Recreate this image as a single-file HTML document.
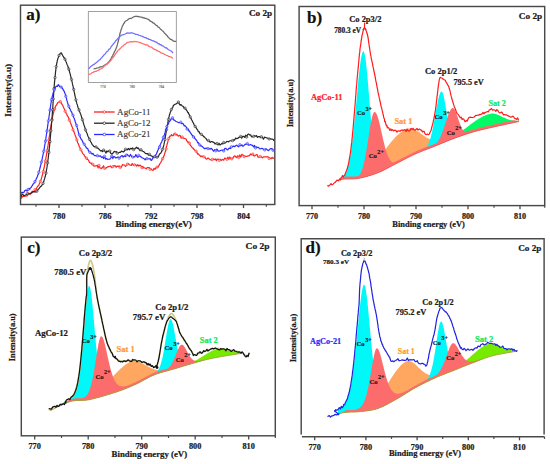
<!DOCTYPE html>
<html><head><meta charset="utf-8"><style>
html,body{margin:0;padding:0;background:#fff;width:550px;height:464px;overflow:hidden}
svg{display:block;font-family:"Liberation Serif",serif}
</style></head><body>
<svg width="550" height="464" viewBox="0 0 550 464">
<defs><filter id="bl" x="-2%" y="-2%" width="104%" height="104%"><feGaussianBlur stdDeviation="0.32"/></filter><clipPath id="clipA"><rect x="21" y="5.5" width="253.5" height="198.5"/></clipPath></defs>
<rect width="550" height="464" fill="#fff"/>
<g filter="url(#bl)">
<rect x="20.5" y="5.2" width="254.3" height="199.3" fill="none" stroke="#4a4a4a" stroke-width="1.45"/>
<line x1="59.0" y1="204.5" x2="59.0" y2="208.1" stroke="#4a4a4a" stroke-width="1.3"/>
<line x1="105.0" y1="204.5" x2="105.0" y2="208.1" stroke="#4a4a4a" stroke-width="1.3"/>
<line x1="151.0" y1="204.5" x2="151.0" y2="208.1" stroke="#4a4a4a" stroke-width="1.3"/>
<line x1="197.0" y1="204.5" x2="197.0" y2="208.1" stroke="#4a4a4a" stroke-width="1.3"/>
<line x1="243.5" y1="204.5" x2="243.5" y2="208.1" stroke="#4a4a4a" stroke-width="1.3"/>
<line x1="36.0" y1="204.5" x2="36.0" y2="206.7" stroke="#4a4a4a" stroke-width="1.2"/>
<line x1="82.0" y1="204.5" x2="82.0" y2="206.7" stroke="#4a4a4a" stroke-width="1.2"/>
<line x1="128.0" y1="204.5" x2="128.0" y2="206.7" stroke="#4a4a4a" stroke-width="1.2"/>
<line x1="174.0" y1="204.5" x2="174.0" y2="206.7" stroke="#4a4a4a" stroke-width="1.2"/>
<line x1="220.0" y1="204.5" x2="220.0" y2="206.7" stroke="#4a4a4a" stroke-width="1.2"/>
<line x1="266.3" y1="204.5" x2="266.3" y2="206.7" stroke="#4a4a4a" stroke-width="1.2"/>
<g clip-path="url(#clipA)">
<path d="M20.50,196.88 L21.07,198.26 L21.81,197.81 L22.69,196.30 L23.68,196.51 L24.74,196.01 L25.85,196.04 L26.98,195.88 L28.08,193.89 L29.14,193.29 L30.13,194.39 L31.00,193.08 L31.87,193.06 L32.71,191.15 L33.51,191.27 L34.28,191.05 L35.02,189.62 L35.73,189.90 L36.41,189.02 L37.06,187.11 L37.69,186.25 L38.30,185.84 L38.74,185.45 L39.16,184.13 L39.55,183.19 L39.92,182.55 L40.27,181.41 L40.61,180.68 L40.94,179.91 L41.26,178.96 L41.58,177.76 L41.90,176.66 L42.22,175.47 L42.56,174.34 L42.90,172.89 L43.09,171.98 L43.28,171.57 L43.47,170.59 L43.67,169.75 L43.86,168.64 L44.05,168.06 L44.25,167.04 L44.44,165.75 L44.63,164.85 L44.83,163.99 L45.02,162.96 L45.21,162.01 L45.40,160.76 L45.59,159.86 L45.78,158.74 L45.97,157.54 L46.16,156.58 L46.34,155.63 L46.52,154.56 L46.70,153.38 L46.88,152.37 L47.06,151.14 L47.23,150.20 L47.40,149.41 L47.57,148.27 L47.73,147.18 L47.89,146.30 L48.05,145.32 L48.21,144.28 L48.36,143.15 L48.52,142.13 L48.67,141.11 L48.82,140.15 L48.96,139.03 L49.11,137.95 L49.26,136.95 L49.40,135.78 L49.55,134.76 L49.69,133.96 L49.83,133.05 L49.98,131.94 L50.12,130.90 L50.27,129.87 L50.41,129.05 L50.56,128.29 L50.70,127.33 L50.85,126.37 L51.00,125.64 L51.22,124.15 L51.44,123.03 L51.65,122.00 L51.86,120.68 L52.07,119.48 L52.28,118.28 L52.49,117.30 L52.70,116.42 L52.91,114.97 L53.13,114.33 L53.36,113.39 L53.59,112.51 L53.83,111.56 L54.07,110.76 L54.33,109.78 L54.60,109.04 L55.18,107.48 L55.79,105.77 L56.45,105.27 L57.12,103.88 L57.80,102.50 L58.48,102.22 L59.15,101.77 L59.80,101.25 L60.36,101.65 L60.91,102.51 L61.47,103.38 L62.01,104.33 L62.56,105.30 L63.10,106.14 L63.64,107.52 L64.17,108.64 L64.70,110.08 L65.13,111.16 L65.54,111.92 L65.95,112.74 L66.35,113.60 L66.75,113.97 L67.16,115.34 L67.57,116.10 L67.98,116.56 L68.41,117.50 L68.85,118.53 L69.30,120.20 L69.65,120.65 L70.00,121.42 L70.37,122.73 L70.74,123.46 L71.12,124.23 L71.50,125.29 L71.89,126.57 L72.28,127.32 L72.66,128.42 L73.05,129.76 L73.43,130.58 L73.81,131.49 L74.18,132.58 L74.54,133.22 L74.90,134.42 L75.30,135.50 L75.68,136.40 L76.04,137.40 L76.40,138.98 L76.76,139.76 L77.11,140.58 L77.46,141.87 L77.82,143.02 L78.19,143.45 L78.57,144.41 L78.96,145.45 L79.37,146.86 L79.80,147.30 L80.29,148.77 L80.78,149.73 L81.30,150.57 L81.82,151.20 L82.35,152.88 L82.90,153.62 L83.46,154.22 L84.03,154.77 L84.60,156.09 L85.19,156.62 L85.79,157.63 L86.40,158.07 L87.15,159.37 L87.92,159.47 L88.72,160.64 L89.53,162.43 L90.35,163.10 L91.18,162.96 L92.02,164.54 L92.85,164.24 L93.68,165.94 L94.50,166.09 L95.46,165.89 L96.35,165.81 L97.21,165.31 L98.08,167.93 L99.02,165.36 L100.07,168.01 L101.28,168.55 L102.70,167.24 L103.51,165.88 L104.38,168.34 L105.31,168.74 L106.30,167.79 L107.33,167.08 L108.39,166.61 L109.49,166.49 L110.59,165.98 L111.71,167.56 L112.83,166.69 L113.94,165.84 L115.04,165.50 L116.11,167.29 L117.15,166.01 L118.15,166.59 L119.10,165.96 L120.22,167.45 L121.31,167.28 L122.38,164.65 L123.43,164.91 L124.46,164.98 L125.46,166.40 L126.46,165.61 L127.44,164.21 L128.40,163.62 L129.36,164.72 L130.31,165.12 L131.26,165.46 L132.20,163.47 L133.32,165.25 L134.44,164.80 L135.57,164.50 L136.68,166.06 L137.78,164.61 L138.85,166.15 L139.89,165.07 L140.90,165.65 L141.85,167.73 L142.76,166.36 L143.60,167.98 L144.97,167.88 L146.16,168.80 L147.20,167.54 L148.16,167.56 L149.07,167.53 L150.00,169.29 L151.08,168.86 L152.09,170.06 L153.05,170.41 L154.00,168.36 L155.00,169.41 L155.65,168.21 L156.32,167.64 L157.01,167.06 L157.69,167.32 L158.37,166.33 L159.03,165.42 L159.68,163.91 L160.30,163.22 L160.78,162.60 L161.24,161.39 L161.69,160.75 L162.13,159.58 L162.56,158.57 L162.99,157.80 L163.42,157.30 L163.84,155.98 L164.27,155.11 L164.70,153.57 L164.97,152.64 L165.24,152.04 L165.51,151.08 L165.78,149.62 L166.05,148.89 L166.32,147.51 L166.59,146.41 L166.86,145.69 L167.12,144.16 L167.39,143.18 L167.66,142.54 L167.93,141.25 L168.20,140.14 L168.46,139.30 L168.73,138.57 L169.00,138.32 L169.83,136.08 L170.64,136.04 L171.46,134.60 L172.33,135.68 L173.30,135.57 L174.19,133.66 L175.14,133.91 L176.14,134.85 L177.17,134.55 L178.23,136.23 L179.30,135.39 L180.24,135.65 L181.21,138.24 L182.19,137.03 L183.20,138.12 L184.20,138.31 L185.21,138.70 L186.20,139.10 L186.83,140.98 L187.45,141.70 L188.08,142.41 L188.71,142.14 L189.34,143.11 L189.96,144.45 L190.59,145.74 L191.22,146.09 L191.85,147.10 L192.47,147.87 L193.10,148.08 L193.86,149.32 L194.60,149.86 L195.34,150.61 L196.07,151.20 L196.82,152.25 L197.57,154.03 L198.35,153.95 L199.16,154.95 L200.00,155.56 L200.89,156.70 L201.83,156.11 L202.80,156.36 L203.80,156.79 L204.80,157.12 L205.80,158.73 L206.77,159.16 L207.71,158.03 L208.60,158.41 L209.64,159.27 L210.56,159.71 L211.44,160.08 L212.32,159.47 L213.25,158.97 L214.29,159.64 L215.50,158.97 L216.37,160.62 L217.29,159.06 L218.27,158.99 L219.30,160.44 L220.35,159.28 L221.44,160.44 L222.54,159.39 L223.64,160.15 L224.74,157.99 L225.83,158.71 L226.90,159.32 L227.87,157.14 L228.84,159.36 L229.82,157.02 L230.80,158.47 L231.78,158.83 L232.77,158.18 L233.76,156.60 L234.74,155.80 L235.73,156.74 L236.72,157.72 L237.71,155.76 L238.70,157.35 L239.78,154.99 L240.86,157.08 L241.94,154.33 L243.02,155.01 L244.11,156.63 L245.19,156.22 L246.28,156.46 L247.36,156.19 L248.44,155.86 L249.52,155.67 L250.60,153.89 L251.68,154.83 L252.75,154.07 L253.82,155.91 L254.89,155.90 L255.96,154.88 L257.04,154.55 L258.11,157.28 L259.18,157.05 L260.25,156.54 L261.32,156.72 L262.40,157.80 L263.43,156.85 L264.52,156.89 L265.65,156.94 L266.80,156.94 L267.95,156.52 L269.09,158.47 L270.18,158.05 L271.21,158.68 L272.16,157.46 L273.00,158.44 L273.72,157.98 L274.30,158.06" fill="none" stroke="#ff2020" stroke-width="1.2" stroke-linejoin="round"/>
<circle cx="28.1" cy="193.9" r="1.2" fill="#fff" fill-opacity="0.5" stroke="#ff2020" stroke-width="0.6"/>
<circle cx="35.0" cy="189.6" r="1.2" fill="#fff" fill-opacity="0.5" stroke="#ff2020" stroke-width="0.6"/>
<circle cx="40.3" cy="181.4" r="1.2" fill="#fff" fill-opacity="0.5" stroke="#ff2020" stroke-width="0.6"/>
<circle cx="43.3" cy="171.6" r="1.2" fill="#fff" fill-opacity="0.5" stroke="#ff2020" stroke-width="0.6"/>
<circle cx="45.4" cy="160.8" r="1.2" fill="#fff" fill-opacity="0.5" stroke="#ff2020" stroke-width="0.6"/>
<circle cx="47.2" cy="150.2" r="1.2" fill="#fff" fill-opacity="0.5" stroke="#ff2020" stroke-width="0.6"/>
<circle cx="48.8" cy="140.1" r="1.2" fill="#fff" fill-opacity="0.5" stroke="#ff2020" stroke-width="0.6"/>
<circle cx="50.3" cy="129.9" r="1.2" fill="#fff" fill-opacity="0.5" stroke="#ff2020" stroke-width="0.6"/>
<circle cx="52.1" cy="119.5" r="1.2" fill="#fff" fill-opacity="0.5" stroke="#ff2020" stroke-width="0.6"/>
<circle cx="54.6" cy="109.0" r="1.2" fill="#fff" fill-opacity="0.5" stroke="#ff2020" stroke-width="0.6"/>
<circle cx="60.4" cy="101.7" r="1.2" fill="#fff" fill-opacity="0.5" stroke="#ff2020" stroke-width="0.6"/>
<circle cx="65.1" cy="111.2" r="1.2" fill="#fff" fill-opacity="0.5" stroke="#ff2020" stroke-width="0.6"/>
<circle cx="69.3" cy="120.2" r="1.2" fill="#fff" fill-opacity="0.5" stroke="#ff2020" stroke-width="0.6"/>
<circle cx="73.0" cy="129.8" r="1.2" fill="#fff" fill-opacity="0.5" stroke="#ff2020" stroke-width="0.6"/>
<circle cx="76.8" cy="139.8" r="1.2" fill="#fff" fill-opacity="0.5" stroke="#ff2020" stroke-width="0.6"/>
<circle cx="80.8" cy="149.7" r="1.2" fill="#fff" fill-opacity="0.5" stroke="#ff2020" stroke-width="0.6"/>
<circle cx="86.4" cy="158.1" r="1.2" fill="#fff" fill-opacity="0.5" stroke="#ff2020" stroke-width="0.6"/>
<circle cx="92.8" cy="164.2" r="1.2" fill="#fff" fill-opacity="0.5" stroke="#ff2020" stroke-width="0.6"/>
<circle cx="99.0" cy="165.4" r="1.2" fill="#fff" fill-opacity="0.5" stroke="#ff2020" stroke-width="0.6"/>
<circle cx="104.4" cy="168.3" r="1.2" fill="#fff" fill-opacity="0.5" stroke="#ff2020" stroke-width="0.6"/>
<circle cx="112.8" cy="166.7" r="1.2" fill="#fff" fill-opacity="0.5" stroke="#ff2020" stroke-width="0.6"/>
<circle cx="120.2" cy="167.4" r="1.2" fill="#fff" fill-opacity="0.5" stroke="#ff2020" stroke-width="0.6"/>
<circle cx="127.4" cy="164.2" r="1.2" fill="#fff" fill-opacity="0.5" stroke="#ff2020" stroke-width="0.6"/>
<circle cx="134.4" cy="164.8" r="1.2" fill="#fff" fill-opacity="0.5" stroke="#ff2020" stroke-width="0.6"/>
<circle cx="141.9" cy="167.7" r="1.2" fill="#fff" fill-opacity="0.5" stroke="#ff2020" stroke-width="0.6"/>
<circle cx="150.0" cy="169.3" r="1.2" fill="#fff" fill-opacity="0.5" stroke="#ff2020" stroke-width="0.6"/>
<circle cx="157.0" cy="167.1" r="1.2" fill="#fff" fill-opacity="0.5" stroke="#ff2020" stroke-width="0.6"/>
<circle cx="162.6" cy="158.6" r="1.2" fill="#fff" fill-opacity="0.5" stroke="#ff2020" stroke-width="0.6"/>
<circle cx="166.1" cy="148.9" r="1.2" fill="#fff" fill-opacity="0.5" stroke="#ff2020" stroke-width="0.6"/>
<circle cx="168.7" cy="138.6" r="1.2" fill="#fff" fill-opacity="0.5" stroke="#ff2020" stroke-width="0.6"/>
<circle cx="175.1" cy="133.9" r="1.2" fill="#fff" fill-opacity="0.5" stroke="#ff2020" stroke-width="0.6"/>
<circle cx="182.2" cy="137.0" r="1.2" fill="#fff" fill-opacity="0.5" stroke="#ff2020" stroke-width="0.6"/>
<circle cx="189.3" cy="143.1" r="1.2" fill="#fff" fill-opacity="0.5" stroke="#ff2020" stroke-width="0.6"/>
<circle cx="196.1" cy="151.2" r="1.2" fill="#fff" fill-opacity="0.5" stroke="#ff2020" stroke-width="0.6"/>
<circle cx="203.8" cy="156.8" r="1.2" fill="#fff" fill-opacity="0.5" stroke="#ff2020" stroke-width="0.6"/>
<circle cx="212.3" cy="159.5" r="1.2" fill="#fff" fill-opacity="0.5" stroke="#ff2020" stroke-width="0.6"/>
<circle cx="219.3" cy="160.4" r="1.2" fill="#fff" fill-opacity="0.5" stroke="#ff2020" stroke-width="0.6"/>
<circle cx="226.9" cy="159.3" r="1.2" fill="#fff" fill-opacity="0.5" stroke="#ff2020" stroke-width="0.6"/>
<circle cx="231.8" cy="158.8" r="1.2" fill="#fff" fill-opacity="0.5" stroke="#ff2020" stroke-width="0.6"/>
<circle cx="238.7" cy="157.4" r="1.2" fill="#fff" fill-opacity="0.5" stroke="#ff2020" stroke-width="0.6"/>
<circle cx="244.1" cy="156.6" r="1.2" fill="#fff" fill-opacity="0.5" stroke="#ff2020" stroke-width="0.6"/>
<circle cx="252.8" cy="154.1" r="1.2" fill="#fff" fill-opacity="0.5" stroke="#ff2020" stroke-width="0.6"/>
<circle cx="260.2" cy="156.5" r="1.2" fill="#fff" fill-opacity="0.5" stroke="#ff2020" stroke-width="0.6"/>
<circle cx="269.1" cy="158.5" r="1.2" fill="#fff" fill-opacity="0.5" stroke="#ff2020" stroke-width="0.6"/>
<path d="M20.50,197.06 L21.11,196.87 L21.90,194.38 L22.83,194.20 L23.87,195.87 L25.01,195.31 L26.19,194.82 L27.41,193.57 L28.61,193.97 L29.79,193.62 L30.90,193.19 L31.91,191.85 L32.80,192.15 L33.97,191.57 L35.04,191.80 L36.02,191.85 L36.93,191.21 L37.78,189.88 L38.58,189.11 L39.35,188.17 L40.10,187.08 L40.67,186.42 L41.21,186.31 L41.71,185.47 L42.18,184.84 L42.62,184.55 L43.05,183.34 L43.47,182.38 L43.88,181.05 L44.29,179.67 L44.70,178.40 L44.89,177.59 L45.07,177.05 L45.25,176.53 L45.43,175.58 L45.61,174.55 L45.78,174.03 L45.95,173.13 L46.12,172.22 L46.29,171.37 L46.45,170.38 L46.62,169.42 L46.78,168.27 L46.95,167.46 L47.11,166.39 L47.27,165.04 L47.43,164.11 L47.59,162.95 L47.75,161.69 L47.91,160.49 L48.07,159.22 L48.24,158.05 L48.40,156.60 L48.50,155.87 L48.60,154.92 L48.69,154.20 L48.79,153.32 L48.89,152.32 L48.99,151.44 L49.09,150.59 L49.18,149.60 L49.28,148.58 L49.38,147.55 L49.48,146.59 L49.58,145.67 L49.68,144.54 L49.77,143.68 L49.87,142.51 L49.97,141.60 L50.07,140.43 L50.16,139.51 L50.26,138.39 L50.36,137.28 L50.45,136.21 L50.55,135.16 L50.64,134.07 L50.74,132.94 L50.83,131.84 L50.92,130.82 L51.02,129.82 L51.11,128.68 L51.20,127.50 L51.29,126.57 L51.38,125.49 L51.47,124.46 L51.56,123.27 L51.64,122.33 L51.73,121.16 L51.82,120.25 L51.90,119.16 L51.98,118.13 L52.07,117.22 L52.15,116.04 L52.23,115.06 L52.30,114.06 L52.38,112.89 L52.46,111.81 L52.54,110.84 L52.61,109.69 L52.68,108.65 L52.76,107.45 L52.83,106.41 L52.90,105.29 L52.98,104.28 L53.05,103.10 L53.12,102.15 L53.19,100.93 L53.26,99.95 L53.33,98.77 L53.40,97.74 L53.47,96.77 L53.54,95.62 L53.61,94.58 L53.68,93.63 L53.75,92.56 L53.81,91.50 L53.88,90.66 L53.95,89.54 L54.02,88.56 L54.09,87.66 L54.17,86.78 L54.24,85.89 L54.31,84.88 L54.38,84.05 L54.45,83.14 L54.53,82.39 L54.60,81.66 L54.73,80.27 L54.86,78.97 L54.98,77.65 L55.11,76.42 L55.23,75.17 L55.35,73.93 L55.47,72.73 L55.60,71.74 L55.72,70.58 L55.84,69.49 L55.97,68.59 L56.10,67.76 L56.23,66.61 L56.36,65.86 L56.50,64.94 L56.63,64.16 L56.78,63.22 L56.93,62.79 L57.08,61.76 L57.24,61.22 L57.40,60.46 L57.91,58.37 L58.45,57.14 L59.02,55.48 L59.61,54.31 L60.24,53.40 L60.90,52.91 L61.60,53.16 L62.03,54.60 L62.49,54.87 L62.97,56.05 L63.46,56.72 L63.96,57.64 L64.48,57.93 L64.99,59.20 L65.50,60.18 L66.00,61.63 L66.48,62.84 L66.95,64.16 L67.40,65.25 L67.70,65.75 L68.00,66.71 L68.28,67.64 L68.56,68.20 L68.84,69.13 L69.11,70.28 L69.38,71.06 L69.64,72.36 L69.91,73.08 L70.17,74.00 L70.42,75.06 L70.68,76.11 L70.94,77.15 L71.20,78.36 L71.47,79.40 L71.73,80.41 L72.00,81.67 L72.22,82.37 L72.44,83.64 L72.65,84.63 L72.87,85.52 L73.08,86.40 L73.30,87.46 L73.51,88.54 L73.73,89.36 L73.95,90.58 L74.16,91.69 L74.38,92.61 L74.59,93.63 L74.81,94.99 L75.03,95.84 L75.25,96.94 L75.47,98.13 L75.69,98.98 L75.92,99.79 L76.14,101.07 L76.37,101.66 L76.60,102.33 L76.93,103.88 L77.26,104.65 L77.61,105.86 L77.96,107.26 L78.31,108.18 L78.67,108.71 L79.02,109.99 L79.38,110.91 L79.73,111.89 L80.08,112.61 L80.42,113.79 L80.76,114.32 L81.08,115.36 L81.40,116.32 L81.70,117.58 L82.06,118.14 L82.39,119.62 L82.69,120.32 L82.99,121.56 L83.27,122.45 L83.56,123.47 L83.84,124.62 L84.13,125.39 L84.44,126.20 L84.77,127.19 L85.12,128.17 L85.50,129.75 L85.85,130.53 L86.22,131.73 L86.60,132.54 L86.99,133.06 L87.40,134.56 L87.81,135.69 L88.23,136.68 L88.66,137.51 L89.09,138.37 L89.53,139.40 L89.97,140.61 L90.42,140.97 L90.86,142.01 L91.30,142.68 L92.07,144.35 L92.84,145.14 L93.61,146.17 L94.40,146.77 L95.21,146.49 L96.04,146.92 L96.90,147.93 L97.80,148.05 L98.71,148.90 L99.62,149.90 L100.54,150.88 L101.49,150.60 L102.49,151.54 L103.57,150.11 L104.73,151.05 L106.00,153.08 L106.86,150.83 L107.79,151.75 L108.79,150.82 L109.83,150.98 L110.90,153.61 L112.00,154.03 L113.10,153.02 L114.20,151.34 L115.27,151.92 L116.31,151.68 L117.31,153.21 L118.24,153.17 L119.10,152.32 L120.36,152.34 L121.49,151.02 L122.53,151.60 L123.51,151.95 L124.44,151.05 L125.36,149.22 L126.31,149.67 L127.30,149.83 L128.34,148.39 L129.39,149.78 L130.45,148.38 L131.51,148.84 L132.55,147.81 L133.57,149.59 L134.56,148.96 L135.50,148.22 L136.50,147.26 L137.43,148.35 L138.32,147.91 L139.18,149.54 L140.07,150.60 L141.00,149.75 L142.00,150.92 L142.85,151.28 L143.75,151.57 L144.70,152.68 L145.66,153.64 L146.63,153.67 L147.58,153.68 L148.51,155.16 L149.38,154.27 L150.20,155.52 L151.32,155.86 L152.37,156.60 L153.34,157.29 L154.27,156.22 L155.15,157.47 L156.00,156.81 L156.97,157.21 L157.87,157.19 L158.71,155.83 L159.52,154.11 L160.30,153.56 L160.72,153.15 L161.13,152.61 L161.53,151.63 L161.92,150.96 L162.30,149.45 L162.67,149.13 L163.04,147.85 L163.42,146.50 L163.80,145.21 L163.98,144.42 L164.17,143.22 L164.35,142.64 L164.54,141.67 L164.72,140.45 L164.91,139.62 L165.09,138.50 L165.28,137.26 L165.46,136.38 L165.65,135.03 L165.83,134.08 L166.01,132.91 L166.19,131.75 L166.36,130.79 L166.54,129.71 L166.71,128.61 L166.88,127.93 L167.04,126.68 L167.20,125.80 L167.44,124.74 L167.67,123.68 L167.89,122.47 L168.09,121.43 L168.29,120.28 L168.49,119.38 L168.69,118.27 L168.90,117.32 L169.11,116.54 L169.32,115.42 L169.55,114.59 L169.80,114.16 L170.18,112.58 L170.57,111.80 L170.98,110.75 L171.39,109.44 L171.83,108.72 L172.29,107.97 L172.78,107.31 L173.30,105.72 L174.22,104.73 L175.22,104.27 L176.28,103.87 L177.35,103.05 L178.40,102.04 L179.27,103.94 L180.16,105.14 L181.05,104.64 L181.93,105.65 L182.78,106.17 L183.60,107.01 L184.36,108.35 L185.07,108.21 L185.75,109.42 L186.43,110.03 L187.14,111.07 L187.90,112.64 L188.34,112.54 L188.79,114.09 L189.25,114.53 L189.72,115.80 L190.20,116.93 L190.69,117.83 L191.17,118.64 L191.66,120.05 L192.14,120.38 L192.62,121.83 L193.10,122.50 L193.61,123.57 L194.11,124.80 L194.61,125.65 L195.10,126.38 L195.59,126.93 L196.10,127.69 L196.62,128.76 L197.15,129.32 L197.71,130.16 L198.30,131.76 L198.99,131.56 L199.72,133.32 L200.48,133.55 L201.26,134.33 L202.05,135.04 L202.84,135.42 L203.64,136.71 L204.43,136.93 L205.20,138.01 L206.05,138.44 L206.88,140.09 L207.70,140.76 L208.53,140.47 L209.37,141.36 L210.22,142.43 L211.09,141.64 L212.00,141.51 L212.95,142.16 L213.94,142.36 L214.96,143.88 L215.99,143.36 L217.03,143.50 L218.05,144.97 L219.04,143.19 L220.00,145.08 L221.00,144.30 L221.91,143.42 L222.78,143.92 L223.66,142.47 L224.60,143.06 L225.67,142.71 L226.90,141.31 L227.71,141.49 L228.58,141.83 L229.50,141.04 L230.47,140.76 L231.46,140.75 L232.49,140.61 L233.53,139.85 L234.58,140.12 L235.63,138.09 L236.67,138.64 L237.70,138.50 L238.70,137.46 L239.69,137.28 L240.68,136.45 L241.67,138.18 L242.66,136.37 L243.66,136.42 L244.65,137.27 L245.64,135.15 L246.64,137.10 L247.63,134.54 L248.62,134.04 L249.61,134.93 L250.60,134.89 L251.59,136.81 L252.57,136.70 L253.55,136.42 L254.54,135.67 L255.52,136.17 L256.50,135.61 L257.48,137.42 L258.46,136.54 L259.45,136.53 L260.43,137.70 L261.41,136.65 L262.40,137.30 L263.43,139.18 L264.52,137.11 L265.65,137.47 L266.80,137.87 L267.95,138.23 L269.09,138.93 L270.18,138.68 L271.21,139.14 L272.16,139.07 L273.00,139.22 L273.72,140.39 L274.30,139.75" fill="none" stroke="#262626" stroke-width="1.2" stroke-linejoin="round"/>
<circle cx="27.4" cy="193.6" r="1.2" fill="#fff" fill-opacity="0.5" stroke="#262626" stroke-width="0.6"/>
<circle cx="36.9" cy="191.2" r="1.2" fill="#fff" fill-opacity="0.5" stroke="#262626" stroke-width="0.6"/>
<circle cx="43.1" cy="183.3" r="1.2" fill="#fff" fill-opacity="0.5" stroke="#262626" stroke-width="0.6"/>
<circle cx="46.0" cy="173.1" r="1.2" fill="#fff" fill-opacity="0.5" stroke="#262626" stroke-width="0.6"/>
<circle cx="47.6" cy="162.9" r="1.2" fill="#fff" fill-opacity="0.5" stroke="#262626" stroke-width="0.6"/>
<circle cx="48.9" cy="152.3" r="1.2" fill="#fff" fill-opacity="0.5" stroke="#262626" stroke-width="0.6"/>
<circle cx="50.0" cy="141.6" r="1.2" fill="#fff" fill-opacity="0.5" stroke="#262626" stroke-width="0.6"/>
<circle cx="50.9" cy="130.8" r="1.2" fill="#fff" fill-opacity="0.5" stroke="#262626" stroke-width="0.6"/>
<circle cx="51.8" cy="120.2" r="1.2" fill="#fff" fill-opacity="0.5" stroke="#262626" stroke-width="0.6"/>
<circle cx="52.6" cy="109.7" r="1.2" fill="#fff" fill-opacity="0.5" stroke="#262626" stroke-width="0.6"/>
<circle cx="53.3" cy="98.8" r="1.2" fill="#fff" fill-opacity="0.5" stroke="#262626" stroke-width="0.6"/>
<circle cx="54.0" cy="88.6" r="1.2" fill="#fff" fill-opacity="0.5" stroke="#262626" stroke-width="0.6"/>
<circle cx="55.0" cy="77.6" r="1.2" fill="#fff" fill-opacity="0.5" stroke="#262626" stroke-width="0.6"/>
<circle cx="56.2" cy="66.6" r="1.2" fill="#fff" fill-opacity="0.5" stroke="#262626" stroke-width="0.6"/>
<circle cx="59.0" cy="55.5" r="1.2" fill="#fff" fill-opacity="0.5" stroke="#262626" stroke-width="0.6"/>
<circle cx="65.0" cy="59.2" r="1.2" fill="#fff" fill-opacity="0.5" stroke="#262626" stroke-width="0.6"/>
<circle cx="68.8" cy="69.1" r="1.2" fill="#fff" fill-opacity="0.5" stroke="#262626" stroke-width="0.6"/>
<circle cx="71.5" cy="79.4" r="1.2" fill="#fff" fill-opacity="0.5" stroke="#262626" stroke-width="0.6"/>
<circle cx="73.7" cy="89.4" r="1.2" fill="#fff" fill-opacity="0.5" stroke="#262626" stroke-width="0.6"/>
<circle cx="75.9" cy="99.8" r="1.2" fill="#fff" fill-opacity="0.5" stroke="#262626" stroke-width="0.6"/>
<circle cx="79.0" cy="110.0" r="1.2" fill="#fff" fill-opacity="0.5" stroke="#262626" stroke-width="0.6"/>
<circle cx="82.4" cy="119.6" r="1.2" fill="#fff" fill-opacity="0.5" stroke="#262626" stroke-width="0.6"/>
<circle cx="85.5" cy="129.8" r="1.2" fill="#fff" fill-opacity="0.5" stroke="#262626" stroke-width="0.6"/>
<circle cx="89.5" cy="139.4" r="1.2" fill="#fff" fill-opacity="0.5" stroke="#262626" stroke-width="0.6"/>
<circle cx="96.0" cy="146.9" r="1.2" fill="#fff" fill-opacity="0.5" stroke="#262626" stroke-width="0.6"/>
<circle cx="103.6" cy="150.1" r="1.2" fill="#fff" fill-opacity="0.5" stroke="#262626" stroke-width="0.6"/>
<circle cx="109.8" cy="151.0" r="1.2" fill="#fff" fill-opacity="0.5" stroke="#262626" stroke-width="0.6"/>
<circle cx="117.3" cy="153.2" r="1.2" fill="#fff" fill-opacity="0.5" stroke="#262626" stroke-width="0.6"/>
<circle cx="125.4" cy="149.2" r="1.2" fill="#fff" fill-opacity="0.5" stroke="#262626" stroke-width="0.6"/>
<circle cx="133.6" cy="149.6" r="1.2" fill="#fff" fill-opacity="0.5" stroke="#262626" stroke-width="0.6"/>
<circle cx="141.0" cy="149.7" r="1.2" fill="#fff" fill-opacity="0.5" stroke="#262626" stroke-width="0.6"/>
<circle cx="149.4" cy="154.3" r="1.2" fill="#fff" fill-opacity="0.5" stroke="#262626" stroke-width="0.6"/>
<circle cx="157.0" cy="157.2" r="1.2" fill="#fff" fill-opacity="0.5" stroke="#262626" stroke-width="0.6"/>
<circle cx="162.3" cy="149.4" r="1.2" fill="#fff" fill-opacity="0.5" stroke="#262626" stroke-width="0.6"/>
<circle cx="164.9" cy="139.6" r="1.2" fill="#fff" fill-opacity="0.5" stroke="#262626" stroke-width="0.6"/>
<circle cx="166.5" cy="129.7" r="1.2" fill="#fff" fill-opacity="0.5" stroke="#262626" stroke-width="0.6"/>
<circle cx="168.5" cy="119.4" r="1.2" fill="#fff" fill-opacity="0.5" stroke="#262626" stroke-width="0.6"/>
<circle cx="171.4" cy="109.4" r="1.2" fill="#fff" fill-opacity="0.5" stroke="#262626" stroke-width="0.6"/>
<circle cx="178.4" cy="102.0" r="1.2" fill="#fff" fill-opacity="0.5" stroke="#262626" stroke-width="0.6"/>
<circle cx="185.1" cy="108.2" r="1.2" fill="#fff" fill-opacity="0.5" stroke="#262626" stroke-width="0.6"/>
<circle cx="190.2" cy="116.9" r="1.2" fill="#fff" fill-opacity="0.5" stroke="#262626" stroke-width="0.6"/>
<circle cx="195.1" cy="126.4" r="1.2" fill="#fff" fill-opacity="0.5" stroke="#262626" stroke-width="0.6"/>
<circle cx="201.3" cy="134.3" r="1.2" fill="#fff" fill-opacity="0.5" stroke="#262626" stroke-width="0.6"/>
<circle cx="208.5" cy="140.5" r="1.2" fill="#fff" fill-opacity="0.5" stroke="#262626" stroke-width="0.6"/>
<circle cx="217.0" cy="143.5" r="1.2" fill="#fff" fill-opacity="0.5" stroke="#262626" stroke-width="0.6"/>
<circle cx="223.7" cy="142.5" r="1.2" fill="#fff" fill-opacity="0.5" stroke="#262626" stroke-width="0.6"/>
<circle cx="232.5" cy="140.6" r="1.2" fill="#fff" fill-opacity="0.5" stroke="#262626" stroke-width="0.6"/>
<circle cx="240.7" cy="136.4" r="1.2" fill="#fff" fill-opacity="0.5" stroke="#262626" stroke-width="0.6"/>
<circle cx="246.6" cy="137.1" r="1.2" fill="#fff" fill-opacity="0.5" stroke="#262626" stroke-width="0.6"/>
<circle cx="253.6" cy="136.4" r="1.2" fill="#fff" fill-opacity="0.5" stroke="#262626" stroke-width="0.6"/>
<circle cx="261.4" cy="136.7" r="1.2" fill="#fff" fill-opacity="0.5" stroke="#262626" stroke-width="0.6"/>
<circle cx="269.1" cy="138.9" r="1.2" fill="#fff" fill-opacity="0.5" stroke="#262626" stroke-width="0.6"/>
<path d="M20.50,192.62 L21.08,193.06 L21.86,192.38 L22.77,192.62 L23.80,192.31 L24.89,190.63 L26.00,190.08 L27.10,191.18 L28.15,189.45 L29.10,188.68 L29.77,189.17 L30.44,187.72 L31.10,187.44 L31.76,186.17 L32.42,185.51 L33.06,184.06 L33.68,183.68 L34.29,182.96 L34.88,181.61 L35.45,180.80 L35.99,179.70 L36.50,178.12 L36.89,177.86 L37.25,176.85 L37.60,175.75 L37.93,174.67 L38.24,174.30 L38.55,173.11 L38.84,172.30 L39.12,171.41 L39.40,170.32 L39.67,169.42 L39.93,168.11 L40.20,167.28 L40.46,166.03 L40.73,165.21 L41.00,164.09 L41.23,162.78 L41.45,161.88 L41.66,160.99 L41.88,160.41 L42.09,159.21 L42.30,158.33 L42.50,157.22 L42.70,156.33 L42.91,155.28 L43.11,154.25 L43.31,153.32 L43.50,152.28 L43.70,151.34 L43.90,150.18 L44.10,149.18 L44.30,148.03 L44.50,146.94 L44.70,145.66 L44.85,144.59 L45.00,143.94 L45.15,143.05 L45.31,142.09 L45.46,141.02 L45.61,140.11 L45.76,138.96 L45.91,138.18 L46.06,137.10 L46.21,136.00 L46.36,134.92 L46.51,134.16 L46.66,133.18 L46.81,131.86 L46.95,131.06 L47.10,129.91 L47.25,128.80 L47.40,127.81 L47.55,126.94 L47.70,125.95 L47.85,124.67 L48.00,123.84 L48.15,122.65 L48.30,121.87 L48.45,120.74 L48.60,119.90 L48.75,118.88 L48.90,117.68 L49.05,116.77 L49.20,115.48 L49.35,114.33 L49.50,113.40 L49.65,112.15 L49.80,111.12 L49.95,110.11 L50.10,109.10 L50.25,107.91 L50.40,106.83 L50.55,106.07 L50.70,104.89 L50.85,104.12 L51.00,103.15 L51.15,102.05 L51.30,101.18 L51.45,100.35 L51.60,99.58 L51.75,98.78 L51.90,98.03 L52.23,96.57 L52.57,95.39 L52.90,93.93 L53.24,92.77 L53.58,91.96 L53.92,90.71 L54.25,89.92 L54.58,89.74 L54.89,88.69 L55.20,88.10 L55.50,86.92 L56.50,86.17 L57.40,86.41 L58.30,84.58 L59.59,86.37 L61.00,87.04 L61.56,86.79 L62.16,88.25 L62.79,88.90 L63.43,90.13 L64.07,91.04 L64.70,92.76 L64.98,93.53 L65.26,93.92 L65.54,94.90 L65.82,96.24 L66.10,97.43 L66.38,98.12 L66.66,99.32 L66.94,100.48 L67.22,101.41 L67.51,102.48 L67.80,103.45 L68.10,104.43 L68.40,105.47 L68.80,106.30 L69.21,107.33 L69.63,108.58 L70.05,108.79 L70.48,110.13 L70.91,111.12 L71.34,111.58 L71.76,112.38 L72.19,113.78 L72.60,114.30 L72.97,115.19 L73.35,116.34 L73.73,117.51 L74.10,118.09 L74.48,119.26 L74.85,120.30 L75.21,121.67 L75.57,122.43 L75.92,123.73 L76.27,124.29 L76.60,125.40 L76.91,126.57 L77.18,127.67 L77.44,128.40 L77.68,129.24 L77.92,130.15 L78.16,131.32 L78.42,132.09 L78.70,133.43 L79.02,134.44 L79.38,134.97 L79.80,136.02 L80.20,137.33 L80.63,138.09 L81.09,139.17 L81.58,139.68 L82.10,140.41 L82.62,141.50 L83.17,142.94 L83.71,143.32 L84.27,144.28 L84.81,145.21 L85.36,146.03 L85.89,146.78 L86.40,148.10 L87.11,148.12 L87.79,148.76 L88.45,150.77 L89.11,151.43 L89.79,152.29 L90.49,152.08 L91.24,153.54 L92.03,154.11 L92.90,153.38 L93.73,154.87 L94.60,155.53 L95.49,155.64 L96.42,155.75 L97.39,155.61 L98.38,156.07 L99.41,156.09 L100.48,155.92 L101.57,157.54 L102.70,156.88 L103.60,158.57 L104.55,156.27 L105.53,159.13 L106.54,158.50 L107.57,159.35 L108.62,159.27 L109.67,159.23 L110.73,158.07 L111.78,156.13 L112.82,158.52 L113.84,156.57 L114.84,156.93 L115.80,158.01 L116.91,157.46 L117.99,156.97 L119.05,158.23 L120.10,157.09 L121.14,156.13 L122.17,155.65 L123.19,157.07 L124.21,155.81 L125.24,156.53 L126.26,155.11 L127.30,154.48 L128.35,155.60 L129.42,156.59 L130.50,154.41 L131.59,156.53 L132.67,157.00 L133.74,156.72 L134.79,156.88 L135.82,154.62 L136.82,156.59 L137.78,157.41 L138.70,155.42 L139.90,156.38 L141.05,156.85 L142.15,157.92 L143.19,158.22 L144.19,158.82 L145.14,159.92 L146.05,158.47 L146.90,158.62 L148.14,158.74 L149.24,158.84 L150.22,158.67 L151.13,160.46 L152.00,159.71 L152.98,157.70 L153.82,157.75 L154.63,156.59 L155.50,155.30 L155.92,154.62 L156.35,154.06 L156.79,153.09 L157.23,151.92 L157.67,150.76 L158.13,149.81 L158.58,148.56 L159.04,147.82 L159.50,146.87 L159.88,145.72 L160.28,144.58 L160.68,143.74 L161.08,142.97 L161.48,142.21 L161.89,141.40 L162.29,140.12 L162.68,139.49 L163.07,138.39 L163.44,137.30 L163.80,136.31 L164.17,135.35 L164.52,134.40 L164.85,133.13 L165.18,132.19 L165.49,130.96 L165.81,129.76 L166.13,128.89 L166.47,127.99 L166.82,126.58 L167.20,125.94 L167.69,124.84 L168.19,124.13 L168.71,123.13 L169.24,121.61 L169.79,121.28 L170.36,120.46 L170.97,119.09 L171.60,119.01 L172.52,117.78 L173.51,119.96 L174.55,120.12 L175.60,121.19 L176.63,121.71 L177.60,122.05 L178.69,122.69 L179.74,122.75 L180.77,122.25 L181.78,123.78 L182.80,123.45 L183.52,124.31 L184.21,125.91 L184.90,125.52 L185.59,126.33 L186.31,127.15 L187.08,129.06 L187.90,129.08 L188.46,129.54 L189.05,131.29 L189.65,131.12 L190.28,132.81 L190.91,133.40 L191.56,134.42 L192.22,135.39 L192.87,135.76 L193.52,136.86 L194.17,136.73 L194.80,138.43 L195.42,138.92 L196.03,139.99 L196.64,140.16 L197.24,141.76 L197.84,142.85 L198.45,142.68 L199.07,143.80 L199.70,144.87 L200.34,145.96 L201.01,145.74 L201.70,146.14 L202.69,146.83 L203.70,148.07 L204.75,148.81 L205.82,148.20 L206.92,148.34 L208.03,148.61 L209.16,148.67 L210.30,149.07 L211.34,148.29 L212.44,149.66 L213.56,151.24 L214.69,149.66 L215.82,150.83 L216.93,149.00 L218.01,150.82 L219.04,151.11 L220.00,150.81 L221.09,150.22 L222.03,150.03 L222.90,150.36 L223.75,150.86 L224.65,148.65 L225.68,148.26 L226.90,149.64 L227.71,149.82 L228.58,148.55 L229.50,148.07 L230.47,148.39 L231.46,146.78 L232.49,146.62 L233.53,146.10 L234.58,146.70 L235.63,145.71 L236.67,145.20 L237.70,146.21 L238.70,146.83 L239.78,144.73 L240.86,145.90 L241.94,144.88 L243.02,146.33 L244.11,145.40 L245.19,144.28 L246.28,144.17 L247.36,143.62 L248.44,145.20 L249.52,145.01 L250.60,144.52 L251.59,145.25 L252.57,145.37 L253.55,146.80 L254.54,145.44 L255.52,147.86 L256.50,146.88 L257.48,147.48 L258.46,147.45 L259.45,148.66 L260.43,148.92 L261.41,148.46 L262.40,148.45 L263.52,149.33 L264.72,149.92 L265.96,148.66 L267.22,149.83 L268.47,150.67 L269.69,149.18 L270.84,148.48 L271.91,148.56 L272.86,150.20 L273.66,150.12 L274.30,151.07" fill="none" stroke="#2a2aff" stroke-width="1.2" stroke-linejoin="round"/>
<circle cx="28.1" cy="189.4" r="1.2" fill="#fff" fill-opacity="0.5" stroke="#2a2aff" stroke-width="0.6"/>
<circle cx="34.9" cy="181.6" r="1.2" fill="#fff" fill-opacity="0.5" stroke="#2a2aff" stroke-width="0.6"/>
<circle cx="38.8" cy="172.3" r="1.2" fill="#fff" fill-opacity="0.5" stroke="#2a2aff" stroke-width="0.6"/>
<circle cx="41.4" cy="161.9" r="1.2" fill="#fff" fill-opacity="0.5" stroke="#2a2aff" stroke-width="0.6"/>
<circle cx="43.7" cy="151.3" r="1.2" fill="#fff" fill-opacity="0.5" stroke="#2a2aff" stroke-width="0.6"/>
<circle cx="45.5" cy="141.0" r="1.2" fill="#fff" fill-opacity="0.5" stroke="#2a2aff" stroke-width="0.6"/>
<circle cx="47.0" cy="131.1" r="1.2" fill="#fff" fill-opacity="0.5" stroke="#2a2aff" stroke-width="0.6"/>
<circle cx="48.4" cy="120.7" r="1.2" fill="#fff" fill-opacity="0.5" stroke="#2a2aff" stroke-width="0.6"/>
<circle cx="49.9" cy="110.1" r="1.2" fill="#fff" fill-opacity="0.5" stroke="#2a2aff" stroke-width="0.6"/>
<circle cx="51.6" cy="99.6" r="1.2" fill="#fff" fill-opacity="0.5" stroke="#2a2aff" stroke-width="0.6"/>
<circle cx="54.2" cy="89.9" r="1.2" fill="#fff" fill-opacity="0.5" stroke="#2a2aff" stroke-width="0.6"/>
<circle cx="61.0" cy="87.0" r="1.2" fill="#fff" fill-opacity="0.5" stroke="#2a2aff" stroke-width="0.6"/>
<circle cx="65.8" cy="96.2" r="1.2" fill="#fff" fill-opacity="0.5" stroke="#2a2aff" stroke-width="0.6"/>
<circle cx="68.8" cy="106.3" r="1.2" fill="#fff" fill-opacity="0.5" stroke="#2a2aff" stroke-width="0.6"/>
<circle cx="73.0" cy="115.2" r="1.2" fill="#fff" fill-opacity="0.5" stroke="#2a2aff" stroke-width="0.6"/>
<circle cx="76.6" cy="125.4" r="1.2" fill="#fff" fill-opacity="0.5" stroke="#2a2aff" stroke-width="0.6"/>
<circle cx="79.4" cy="135.0" r="1.2" fill="#fff" fill-opacity="0.5" stroke="#2a2aff" stroke-width="0.6"/>
<circle cx="84.3" cy="144.3" r="1.2" fill="#fff" fill-opacity="0.5" stroke="#2a2aff" stroke-width="0.6"/>
<circle cx="89.8" cy="152.3" r="1.2" fill="#fff" fill-opacity="0.5" stroke="#2a2aff" stroke-width="0.6"/>
<circle cx="97.4" cy="155.6" r="1.2" fill="#fff" fill-opacity="0.5" stroke="#2a2aff" stroke-width="0.6"/>
<circle cx="104.5" cy="156.3" r="1.2" fill="#fff" fill-opacity="0.5" stroke="#2a2aff" stroke-width="0.6"/>
<circle cx="111.8" cy="156.1" r="1.2" fill="#fff" fill-opacity="0.5" stroke="#2a2aff" stroke-width="0.6"/>
<circle cx="119.1" cy="158.2" r="1.2" fill="#fff" fill-opacity="0.5" stroke="#2a2aff" stroke-width="0.6"/>
<circle cx="126.3" cy="155.1" r="1.2" fill="#fff" fill-opacity="0.5" stroke="#2a2aff" stroke-width="0.6"/>
<circle cx="132.7" cy="157.0" r="1.2" fill="#fff" fill-opacity="0.5" stroke="#2a2aff" stroke-width="0.6"/>
<circle cx="138.7" cy="155.4" r="1.2" fill="#fff" fill-opacity="0.5" stroke="#2a2aff" stroke-width="0.6"/>
<circle cx="146.9" cy="158.6" r="1.2" fill="#fff" fill-opacity="0.5" stroke="#2a2aff" stroke-width="0.6"/>
<circle cx="154.6" cy="156.6" r="1.2" fill="#fff" fill-opacity="0.5" stroke="#2a2aff" stroke-width="0.6"/>
<circle cx="159.5" cy="146.9" r="1.2" fill="#fff" fill-opacity="0.5" stroke="#2a2aff" stroke-width="0.6"/>
<circle cx="163.4" cy="137.3" r="1.2" fill="#fff" fill-opacity="0.5" stroke="#2a2aff" stroke-width="0.6"/>
<circle cx="166.8" cy="126.6" r="1.2" fill="#fff" fill-opacity="0.5" stroke="#2a2aff" stroke-width="0.6"/>
<circle cx="172.5" cy="117.8" r="1.2" fill="#fff" fill-opacity="0.5" stroke="#2a2aff" stroke-width="0.6"/>
<circle cx="180.8" cy="122.2" r="1.2" fill="#fff" fill-opacity="0.5" stroke="#2a2aff" stroke-width="0.6"/>
<circle cx="187.1" cy="129.1" r="1.2" fill="#fff" fill-opacity="0.5" stroke="#2a2aff" stroke-width="0.6"/>
<circle cx="193.5" cy="136.9" r="1.2" fill="#fff" fill-opacity="0.5" stroke="#2a2aff" stroke-width="0.6"/>
<circle cx="199.7" cy="144.9" r="1.2" fill="#fff" fill-opacity="0.5" stroke="#2a2aff" stroke-width="0.6"/>
<circle cx="208.0" cy="148.6" r="1.2" fill="#fff" fill-opacity="0.5" stroke="#2a2aff" stroke-width="0.6"/>
<circle cx="215.8" cy="150.8" r="1.2" fill="#fff" fill-opacity="0.5" stroke="#2a2aff" stroke-width="0.6"/>
<circle cx="223.7" cy="150.9" r="1.2" fill="#fff" fill-opacity="0.5" stroke="#2a2aff" stroke-width="0.6"/>
<circle cx="231.5" cy="146.8" r="1.2" fill="#fff" fill-opacity="0.5" stroke="#2a2aff" stroke-width="0.6"/>
<circle cx="239.8" cy="144.7" r="1.2" fill="#fff" fill-opacity="0.5" stroke="#2a2aff" stroke-width="0.6"/>
<circle cx="247.4" cy="143.6" r="1.2" fill="#fff" fill-opacity="0.5" stroke="#2a2aff" stroke-width="0.6"/>
<circle cx="255.5" cy="147.9" r="1.2" fill="#fff" fill-opacity="0.5" stroke="#2a2aff" stroke-width="0.6"/>
<circle cx="264.7" cy="149.9" r="1.2" fill="#fff" fill-opacity="0.5" stroke="#2a2aff" stroke-width="0.6"/>
<circle cx="272.9" cy="150.2" r="1.2" fill="#fff" fill-opacity="0.5" stroke="#2a2aff" stroke-width="0.6"/>
</g>
<line x1="94" y1="112.0" x2="114.6" y2="112.0" stroke="#ff2020" stroke-width="1.3"/>
<circle cx="104.3" cy="112.0" r="1.3" fill="white" stroke="#ff2020" stroke-width="0.7"/>
<line x1="94" y1="123.2" x2="114.6" y2="123.2" stroke="#262626" stroke-width="1.3"/>
<circle cx="104.3" cy="123.2" r="1.3" fill="white" stroke="#262626" stroke-width="0.7"/>
<line x1="94" y1="134.5" x2="114.6" y2="134.5" stroke="#2a2aff" stroke-width="1.3"/>
<circle cx="104.3" cy="134.5" r="1.3" fill="white" stroke="#2a2aff" stroke-width="0.7"/>
<rect x="88.3" y="11.6" width="88" height="70.8" fill="white" stroke="#8a8a8a" stroke-width="0.8"/>
<line x1="103.0" y1="82.4" x2="103.0" y2="84" stroke="#999" stroke-width="0.5"/>
<line x1="132.2" y1="82.4" x2="132.2" y2="84" stroke="#999" stroke-width="0.5"/>
<line x1="161.4" y1="82.4" x2="161.4" y2="84" stroke="#999" stroke-width="0.5"/>
<path d="M93.60,68.77 L94.32,68.68 L95.33,68.73 L96.52,68.14 L97.78,67.86 L99.00,67.56 L100.01,66.94 L101.10,66.80 L102.20,66.48 L103.28,66.16 L104.30,65.20 L105.20,64.86 L106.13,64.09 L106.93,63.94 L107.65,63.16 L108.33,61.96 L109.00,61.84 L109.66,61.00 L110.28,59.90 L110.87,58.96 L111.44,57.71 L112.00,56.66 L112.54,56.06 L113.05,54.75 L113.54,53.84 L114.02,52.86 L114.50,51.67 L114.98,50.94 L115.45,49.89 L115.91,49.11 L116.36,47.75 L116.80,46.60 L117.10,45.54 L117.40,44.63 L117.68,43.42 L117.97,42.20 L118.24,41.59 L118.52,40.46 L118.80,39.24 L119.04,38.16 L119.27,36.86 L119.50,35.76 L119.73,34.76 L119.96,33.57 L120.20,33.06 L120.44,31.84 L120.70,31.24 L121.06,29.78 L121.43,29.09 L121.81,27.97 L122.20,26.41 L122.60,25.64 L123.00,25.29 L123.55,23.87 L124.09,23.29 L124.70,22.04 L125.50,21.00 L126.31,20.74 L127.24,20.23 L128.26,19.29 L129.32,18.61 L130.40,18.28 L131.33,18.32 L132.30,17.78 L133.31,16.96 L134.31,16.73 L135.28,16.38 L136.20,16.19 L137.42,16.66 L138.54,16.37 L139.68,16.90 L141.00,17.16 L141.89,17.22 L142.87,17.87 L143.91,17.76 L144.96,18.45 L145.99,18.43 L146.95,19.00 L147.80,19.20 L149.00,19.82 L149.98,20.90 L150.92,21.44 L152.00,21.86 L152.81,22.84 L153.65,22.95 L154.53,23.71 L155.45,24.73 L156.44,25.38 L157.50,25.92 L158.20,27.18 L158.94,27.35 L159.73,28.14 L160.55,29.31 L161.38,29.83 L162.21,30.65 L163.03,31.32 L163.83,32.14 L164.59,33.25 L165.30,33.72 L166.12,34.81 L166.90,35.48 L167.65,36.35 L168.36,37.48 L169.06,37.88 L169.74,38.61 L170.42,39.43 L171.10,39.48 L172.26,40.13 L173.47,41.16 L174.62,41.45 L175.60,41.31 L176.30,41.48" fill="none" stroke="#6a6a6a" stroke-width="1.25"/>
<path d="M88.30,68.78 L88.79,68.51 L89.46,67.97 L90.25,66.96 L91.13,66.15 L92.06,65.65 L93.00,64.84 L93.73,64.66 L94.52,63.99 L95.35,63.32 L96.21,62.67 L97.06,62.11 L97.89,61.12 L98.67,60.69 L99.40,59.86 L100.27,59.55 L101.05,58.12 L101.78,57.82 L102.50,56.45 L103.23,56.01 L104.00,54.89 L104.71,54.15 L105.46,53.66 L106.21,52.26 L106.97,51.47 L107.72,51.25 L108.43,50.17 L109.10,49.11 L109.82,48.88 L110.49,48.02 L111.13,46.63 L111.75,46.05 L112.37,45.05 L113.00,44.37 L113.64,43.77 L114.28,42.62 L114.91,42.16 L115.54,40.90 L116.17,40.21 L116.80,39.92 L117.54,38.79 L118.27,38.01 L119.00,37.38 L119.74,36.60 L120.50,35.92 L121.46,35.01 L122.42,34.94 L123.45,34.64 L124.60,34.23 L125.62,33.70 L126.71,33.18 L127.86,32.94 L129.09,33.02 L130.40,33.02 L131.38,32.74 L132.40,33.01 L133.46,33.35 L134.56,33.76 L135.70,34.32 L136.88,34.49 L138.10,34.57 L138.99,35.44 L139.91,35.50 L140.86,35.93 L141.84,36.11 L142.82,36.66 L143.82,37.05 L144.83,37.74 L145.83,37.69 L146.82,38.42 L147.80,38.57 L148.78,39.34 L149.77,39.29 L150.77,39.87 L151.77,40.33 L152.77,40.96 L153.76,40.97 L154.73,41.68 L155.68,41.93 L156.61,42.41 L157.50,42.98 L158.45,43.80 L159.36,43.95 L160.24,44.77 L161.10,44.71 L161.94,45.73 L162.78,45.84 L163.61,46.23 L164.45,47.14 L165.30,47.79 L166.20,47.73 L167.17,48.55 L168.16,49.56 L169.15,49.94 L170.11,50.53 L171.01,50.98 L171.81,51.56 L172.48,52.43 L173.00,53.04" fill="none" stroke="#6e6eff" stroke-width="1.25"/>
<path d="M88.30,74.43 L88.91,74.45 L89.76,74.07 L90.77,73.73 L91.88,72.77 L93.00,72.31 L93.99,71.84 L95.07,71.47 L96.21,71.39 L97.34,70.51 L98.42,70.31 L99.40,69.60 L100.43,69.05 L101.35,68.53 L102.21,68.17 L103.08,67.32 L104.00,66.16 L104.83,65.66 L105.71,64.84 L106.59,64.58 L107.47,63.76 L108.31,62.98 L109.10,62.23 L109.96,61.28 L110.75,60.55 L111.50,59.56 L112.25,58.27 L113.00,57.74 L113.64,56.65 L114.28,55.96 L114.91,54.93 L115.54,53.94 L116.17,53.03 L116.80,52.25 L117.54,51.24 L118.27,50.20 L119.00,49.84 L119.74,49.00 L120.50,48.34 L121.31,47.38 L122.14,46.55 L122.99,46.00 L123.82,44.93 L124.60,44.72 L125.75,43.72 L126.83,42.83 L128.00,42.29 L128.98,42.19 L130.00,41.76 L131.10,41.75 L132.30,41.77 L133.30,41.60 L134.32,41.41 L135.43,41.73 L136.67,41.71 L138.10,42.01 L138.91,42.19 L139.79,42.56 L140.72,42.62 L141.70,43.33 L142.71,43.87 L143.73,43.82 L144.77,44.43 L145.80,44.97 L146.81,44.76 L147.80,45.25 L148.69,46.13 L149.59,46.60 L150.50,46.94 L151.41,47.10 L152.32,47.79 L153.22,48.63 L154.11,49.16 L154.99,49.61 L155.85,49.69 L156.69,50.61 L157.50,50.71 L158.57,51.51 L159.59,51.63 L160.57,52.72 L161.53,52.94 L162.47,53.49 L163.40,53.59 L164.34,54.33 L165.30,54.76 L166.32,55.24 L167.41,55.57 L168.53,56.32 L169.64,56.53 L170.68,56.95 L171.62,57.27 L172.41,57.97 L173.00,57.83" fill="none" stroke="#ff6e6e" stroke-width="1.25"/>
<rect x="299.1" y="6.5" width="245.6" height="199.1" fill="none" stroke="#4a4a4a" stroke-width="1.45"/>
<line x1="312.0" y1="205.6" x2="312.0" y2="209.2" stroke="#4a4a4a" stroke-width="1.3"/>
<line x1="364.0" y1="205.6" x2="364.0" y2="209.2" stroke="#4a4a4a" stroke-width="1.3"/>
<line x1="416.0" y1="205.6" x2="416.0" y2="209.2" stroke="#4a4a4a" stroke-width="1.3"/>
<line x1="468.0" y1="205.6" x2="468.0" y2="209.2" stroke="#4a4a4a" stroke-width="1.3"/>
<line x1="520.0" y1="205.6" x2="520.0" y2="209.2" stroke="#4a4a4a" stroke-width="1.3"/>
<line x1="338.0" y1="205.6" x2="338.0" y2="207.8" stroke="#4a4a4a" stroke-width="1.2"/>
<line x1="390.0" y1="205.6" x2="390.0" y2="207.8" stroke="#4a4a4a" stroke-width="1.2"/>
<line x1="442.0" y1="205.6" x2="442.0" y2="207.8" stroke="#4a4a4a" stroke-width="1.2"/>
<line x1="494.0" y1="205.6" x2="494.0" y2="207.8" stroke="#4a4a4a" stroke-width="1.2"/>
<line x1="544.7" y1="205.6" x2="544.7" y2="207.8" stroke="#4a4a4a" stroke-width="1.2"/>
<path d="M378.00,158.83 L378.50,158.24 L379.00,157.63 L379.50,157.02 L380.00,156.40 L380.50,155.78 L381.00,155.15 L381.50,154.51 L382.00,153.87 L382.50,153.23 L383.00,152.58 L383.50,151.92 L384.00,151.27 L384.50,150.61 L385.00,149.95 L385.50,149.30 L386.00,148.64 L386.50,147.98 L387.00,147.33 L387.50,146.67 L388.00,146.02 L388.50,145.37 L389.00,144.73 L389.50,144.09 L390.00,143.46 L390.50,142.84 L391.00,142.22 L391.50,141.61 L392.00,141.00 L392.50,140.41 L393.00,139.83 L393.50,139.26 L394.00,138.69 L394.50,138.14 L395.00,137.61 L395.50,137.08 L396.00,136.57 L396.50,136.07 L397.00,135.59 L397.50,135.11 L398.00,134.65 L398.50,134.20 L399.00,133.76 L399.50,133.33 L400.00,132.92 L400.50,132.52 L401.00,132.14 L401.50,131.76 L402.00,131.41 L402.50,131.06 L403.00,130.74 L403.50,130.42 L404.00,130.12 L404.50,129.84 L405.00,129.58 L405.50,129.33 L406.00,129.12 L406.50,128.93 L407.00,128.77 L407.50,128.65 L408.00,128.55 L408.50,128.48 L409.00,128.43 L409.50,128.42 L410.00,128.43 L410.50,128.47 L411.00,128.53 L411.50,128.62 L412.00,128.73 L412.50,128.87 L413.00,129.03 L413.50,129.21 L414.00,129.41 L414.50,129.62 L415.00,129.86 L415.50,130.11 L416.00,130.38 L416.50,130.67 L417.00,130.97 L417.50,131.28 L418.00,131.60 L418.50,131.93 L419.00,132.26 L419.50,132.61 L420.00,132.96 L420.50,133.31 L421.00,133.67 L421.50,134.02 L422.00,134.38 L422.50,134.74 L423.00,135.09 L423.50,135.45 L424.00,135.79 L424.50,136.14 L425.00,136.48 L425.50,136.81 L426.00,137.13 L426.50,137.44 L427.00,137.75 L427.50,138.05 L428.00,138.33 L428.50,138.61 L429.00,138.87 L429.50,139.12 L430.00,139.36 L430.50,139.59 L431.00,139.80 L431.50,140.00 L432.00,140.18 L432.50,140.36 L433.00,140.52 L433.50,140.66 L434.00,140.79 L434.50,140.91 L435.00,141.01 L435.50,141.10 L436.00,141.18 L436.50,141.24 L437.00,141.29 L437.50,141.33 L438.00,141.36 L438.50,141.38 L439.00,141.38 L439.50,141.37 L440.00,141.36 L440.50,141.33 L441.00,141.29 L441.50,141.24 L442.00,141.19 L442.50,141.13 L443.00,141.05 L443.50,140.97 L444.00,140.89 L444.50,140.79 L445.00,140.69 L445.00,141.99 L444.50,142.19 L444.00,142.40 L443.50,142.61 L443.00,142.81 L442.50,143.02 L442.00,143.22 L441.50,143.43 L441.00,143.64 L440.50,143.84 L440.00,144.05 L439.50,144.26 L439.00,144.46 L438.50,144.67 L438.00,144.88 L437.50,145.08 L437.00,145.29 L436.50,145.49 L436.00,145.69 L435.50,145.90 L435.00,146.10 L434.50,146.30 L434.00,146.50 L433.50,146.70 L433.00,146.90 L432.50,147.09 L432.00,147.29 L431.50,147.48 L431.00,147.68 L430.50,147.87 L430.00,148.06 L429.50,148.25 L429.00,148.45 L428.50,148.64 L428.00,148.83 L427.50,149.02 L427.00,149.21 L426.50,149.40 L426.00,149.60 L425.50,149.79 L425.00,149.98 L424.50,150.17 L424.00,150.37 L423.50,150.56 L423.00,150.76 L422.50,150.96 L422.00,151.16 L421.50,151.36 L421.00,151.56 L420.50,151.76 L420.00,151.97 L419.50,152.17 L419.00,152.38 L418.50,152.59 L418.00,152.80 L417.50,153.02 L417.00,153.23 L416.50,153.45 L416.00,153.68 L415.50,153.90 L415.00,154.13 L414.50,154.36 L414.00,154.59 L413.50,154.82 L413.00,155.06 L412.50,155.30 L412.00,155.54 L411.50,155.78 L411.00,156.03 L410.50,156.28 L410.00,156.53 L409.50,156.78 L409.00,157.03 L408.50,157.28 L408.00,157.53 L407.50,157.79 L407.00,158.04 L406.50,158.30 L406.00,158.56 L405.50,158.82 L405.00,159.08 L404.50,159.33 L404.00,159.59 L403.50,159.85 L403.00,160.11 L402.50,160.37 L402.00,160.63 L401.50,160.89 L401.00,161.15 L400.50,161.41 L400.00,161.67 L399.50,161.93 L399.00,162.18 L398.50,162.44 L398.00,162.69 L397.50,162.95 L397.00,163.20 L396.50,163.45 L396.00,163.70 L395.50,163.95 L395.00,164.21 L394.50,164.47 L394.00,164.73 L393.50,164.99 L393.00,165.25 L392.50,165.51 L392.00,165.78 L391.50,166.04 L391.00,166.31 L390.50,166.58 L390.00,166.84 L389.50,167.11 L389.00,167.38 L388.50,167.64 L388.00,167.91 L387.50,168.17 L387.00,168.43 L386.50,168.70 L386.00,168.96 L385.50,169.21 L385.00,169.47 L384.50,169.72 L384.00,169.97 L383.50,170.22 L383.00,170.47 L382.50,170.71 L382.00,170.95 L381.50,171.19 L381.00,171.42 L380.50,171.65 L380.00,171.87 L379.50,172.09 L379.00,172.31 L378.50,172.52 L378.00,172.72 Z" fill="#ffa660"/>
<path d="M458.00,133.59 L458.50,133.26 L459.00,132.92 L459.50,132.58 L460.00,132.24 L460.50,131.89 L461.00,131.54 L461.50,131.19 L462.00,130.83 L462.50,130.48 L463.00,130.11 L463.50,129.75 L464.00,129.38 L464.50,129.01 L465.00,128.64 L465.50,128.27 L466.00,127.89 L466.50,127.52 L467.00,127.14 L467.50,126.76 L468.00,126.38 L468.50,126.01 L469.00,125.63 L469.50,125.25 L470.00,124.87 L470.50,124.49 L471.00,124.12 L471.50,123.74 L472.00,123.37 L472.50,123.00 L473.00,122.63 L473.50,122.27 L474.00,121.90 L474.50,121.55 L475.00,121.19 L475.50,120.84 L476.00,120.50 L476.50,120.16 L477.00,119.82 L477.50,119.50 L478.00,119.17 L478.50,118.86 L479.00,118.55 L479.50,118.24 L480.00,117.95 L480.50,117.66 L481.00,117.38 L481.50,117.11 L482.00,116.84 L482.50,116.58 L483.00,116.33 L483.50,116.09 L484.00,115.86 L484.50,115.64 L485.00,115.43 L485.50,115.22 L486.00,115.03 L486.50,114.84 L487.00,114.67 L487.50,114.50 L488.00,114.34 L488.50,114.20 L489.00,114.06 L489.50,113.93 L490.00,113.81 L490.50,113.71 L491.00,113.63 L491.50,113.58 L492.00,113.55 L492.50,113.54 L493.00,113.56 L493.50,113.60 L494.00,113.66 L494.50,113.74 L495.00,113.84 L495.50,113.96 L496.00,114.10 L496.50,114.26 L497.00,114.43 L497.50,114.61 L498.00,114.81 L498.50,115.01 L499.00,115.23 L499.50,115.45 L500.00,115.69 L500.50,115.92 L501.00,116.16 L501.50,116.41 L502.00,116.65 L502.50,116.90 L503.00,117.14 L503.50,117.38 L504.00,117.62 L504.50,117.86 L505.00,118.09 L505.50,118.31 L506.00,118.52 L506.50,118.73 L507.00,118.93 L507.50,119.12 L508.00,119.31 L508.50,119.48 L509.00,119.64 L509.50,119.79 L510.00,119.93 L510.50,120.06 L511.00,120.18 L511.50,120.29 L512.00,120.39 L512.50,120.47 L513.00,120.55 L513.50,120.62 L514.00,120.67 L514.50,120.72 L515.00,120.75 L515.50,120.78 L516.00,120.80 L516.50,120.81 L517.00,120.81 L517.50,120.80 L518.00,120.79 L518.50,120.77 L519.00,120.74 L519.00,121.49 L518.50,121.60 L518.00,121.71 L517.50,121.82 L517.00,121.92 L516.50,122.03 L516.00,122.14 L515.50,122.25 L515.00,122.35 L514.50,122.46 L514.00,122.57 L513.50,122.67 L513.00,122.78 L512.50,122.89 L512.00,122.99 L511.50,123.10 L511.00,123.21 L510.50,123.31 L510.00,123.42 L509.50,123.53 L509.00,123.64 L508.50,123.74 L508.00,123.85 L507.50,123.96 L507.00,124.07 L506.50,124.17 L506.00,124.28 L505.50,124.39 L505.00,124.50 L504.50,124.60 L504.00,124.71 L503.50,124.82 L503.00,124.93 L502.50,125.04 L502.00,125.14 L501.50,125.25 L501.00,125.36 L500.50,125.47 L500.00,125.58 L499.50,125.69 L499.00,125.80 L498.50,125.91 L498.00,126.02 L497.50,126.13 L497.00,126.24 L496.50,126.35 L496.00,126.46 L495.50,126.57 L495.00,126.68 L494.50,126.79 L494.00,126.90 L493.50,127.01 L493.00,127.13 L492.50,127.24 L492.00,127.35 L491.50,127.47 L491.00,127.58 L490.50,127.70 L490.00,127.81 L489.50,127.93 L489.00,128.04 L488.50,128.15 L488.00,128.27 L487.50,128.38 L487.00,128.49 L486.50,128.61 L486.00,128.72 L485.50,128.84 L485.00,128.95 L484.50,129.07 L484.00,129.18 L483.50,129.30 L483.00,129.42 L482.50,129.53 L482.00,129.65 L481.50,129.77 L481.00,129.89 L480.50,130.01 L480.00,130.14 L479.50,130.26 L479.00,130.39 L478.50,130.51 L478.00,130.64 L477.50,130.77 L477.00,130.90 L476.50,131.04 L476.00,131.17 L475.50,131.31 L475.00,131.44 L474.50,131.58 L474.00,131.72 L473.50,131.87 L473.00,132.01 L472.50,132.16 L472.00,132.31 L471.50,132.46 L471.00,132.61 L470.50,132.76 L470.00,132.91 L469.50,133.07 L469.00,133.23 L468.50,133.39 L468.00,133.55 L467.50,133.71 L467.00,133.87 L466.50,134.03 L466.00,134.20 L465.50,134.37 L465.00,134.53 L464.50,134.70 L464.00,134.87 L463.50,135.04 L463.00,135.21 L462.50,135.39 L462.00,135.56 L461.50,135.74 L461.00,135.91 L460.50,136.09 L460.00,136.27 L459.50,136.44 L459.00,136.62 L458.50,136.80 L458.00,136.98 Z" fill="#04fb66"/>
<path d="M336.00,180.49 L336.50,180.28 L337.00,180.06 L337.50,179.85 L338.00,179.63 L338.50,179.40 L339.00,179.17 L339.50,178.94 L340.00,178.69 L340.50,178.42 L341.00,178.14 L341.50,177.83 L342.00,177.49 L342.50,177.11 L343.00,176.68 L343.50,176.19 L344.00,175.63 L344.50,174.98 L345.00,174.23 L345.50,173.37 L346.00,172.38 L346.50,171.23 L347.00,169.93 L347.50,168.44 L348.00,166.75 L348.50,164.84 L349.00,162.71 L349.50,160.32 L350.00,157.68 L350.50,154.76 L351.00,151.57 L351.50,148.09 L352.00,144.33 L352.50,140.29 L353.00,135.98 L353.50,131.41 L354.00,126.61 L354.50,121.60 L355.00,116.41 L355.50,111.08 L356.00,105.66 L356.50,100.19 L357.00,94.73 L357.50,89.33 L358.00,84.05 L358.50,78.96 L359.00,74.13 L359.50,69.61 L360.00,65.48 L360.50,61.78 L361.00,58.57 L361.50,55.91 L362.00,53.83 L362.50,52.36 L363.00,51.53 L363.50,51.36 L364.00,52.03 L364.50,53.55 L365.00,55.88 L365.50,58.99 L366.00,62.80 L366.50,67.24 L367.00,72.22 L367.50,77.64 L368.00,83.41 L368.50,89.43 L369.00,95.59 L369.50,101.81 L370.00,107.98 L370.50,114.05 L371.00,119.92 L371.50,125.54 L372.00,130.86 L372.50,135.84 L373.00,140.46 L373.50,144.69 L374.00,148.53 L374.50,151.98 L375.00,155.04 L375.50,157.74 L376.00,160.08 L376.50,162.10 L377.00,163.82 L377.50,165.26 L378.00,166.46 L378.50,167.43 L379.00,168.20 L379.50,168.80 L380.00,169.25 L380.50,169.58 L381.00,169.80 L381.50,169.92 L382.00,169.97 L382.50,169.96 L383.00,169.89 L383.50,169.79 L384.00,169.65 L384.50,169.48 L385.00,169.29 L385.50,169.08 L386.00,168.86 L386.50,168.62 L387.00,168.38 L387.00,168.43 L386.50,168.70 L386.00,168.96 L385.50,169.21 L385.00,169.47 L384.50,169.72 L384.00,169.97 L383.50,170.22 L383.00,170.47 L382.50,170.71 L382.00,170.95 L381.50,171.19 L381.00,171.42 L380.50,171.65 L380.00,171.87 L379.50,172.09 L379.00,172.31 L378.50,172.52 L378.00,172.72 L377.50,172.92 L377.00,173.12 L376.50,173.31 L376.00,173.50 L375.50,173.68 L375.00,173.86 L374.50,174.04 L374.00,174.22 L373.50,174.39 L373.00,174.56 L372.50,174.73 L372.00,174.90 L371.50,175.06 L371.00,175.22 L370.50,175.38 L370.00,175.53 L369.50,175.68 L369.00,175.83 L368.50,175.98 L368.00,176.12 L367.50,176.26 L367.00,176.40 L366.50,176.54 L366.00,176.67 L365.50,176.80 L365.00,176.93 L364.50,177.05 L364.00,177.17 L363.50,177.29 L363.00,177.41 L362.50,177.53 L362.00,177.64 L361.50,177.75 L361.00,177.85 L360.50,177.96 L360.00,178.06 L359.50,178.16 L359.00,178.25 L358.50,178.35 L358.00,178.43 L357.50,178.52 L357.00,178.59 L356.50,178.65 L356.00,178.71 L355.50,178.76 L355.00,178.80 L354.50,178.84 L354.00,178.87 L353.50,178.89 L353.00,178.92 L352.50,178.93 L352.00,178.95 L351.50,178.96 L351.00,178.96 L350.50,178.97 L350.00,178.97 L349.50,178.97 L349.00,178.98 L348.50,178.98 L348.00,178.98 L347.50,178.99 L347.00,178.99 L346.50,179.00 L346.00,179.01 L345.50,179.03 L345.00,179.05 L344.50,179.08 L344.00,179.11 L343.50,179.15 L343.00,179.20 L342.50,179.26 L342.00,179.33 L341.50,179.41 L341.00,179.50 L340.50,179.61 L340.00,179.72 L339.50,179.85 L339.00,179.99 L338.50,180.13 L338.00,180.29 L337.50,180.45 L337.00,180.62 L336.50,180.79 L336.00,180.97 Z" fill="#00f8f8"/>
<path d="M417.40,153.04 L417.90,152.82 L418.40,152.60 L418.90,152.38 L419.40,152.15 L419.90,151.92 L420.40,151.69 L420.90,151.45 L421.40,151.20 L421.90,150.93 L422.40,150.65 L422.90,150.35 L423.40,150.03 L423.90,149.67 L424.40,149.27 L424.90,148.83 L425.40,148.34 L425.90,147.79 L426.40,147.16 L426.90,146.45 L427.40,145.64 L427.90,144.73 L428.40,143.70 L428.90,142.55 L429.40,141.26 L429.90,139.82 L430.40,138.22 L430.90,136.47 L431.40,134.56 L431.90,132.48 L432.40,130.25 L432.90,127.87 L433.40,125.36 L433.90,122.73 L434.40,120.01 L434.90,117.22 L435.40,114.40 L435.90,111.57 L436.40,108.79 L436.90,106.08 L437.40,103.48 L437.90,101.05 L438.40,98.82 L438.90,96.83 L439.40,95.11 L439.90,93.69 L440.40,92.60 L440.90,91.86 L441.40,91.47 L441.90,91.55 L442.40,92.18 L442.90,93.33 L443.40,94.97 L443.90,97.04 L444.40,99.46 L444.90,102.17 L445.40,105.08 L445.90,108.11 L446.40,111.19 L446.90,114.24 L447.40,117.21 L447.90,120.02 L448.40,122.66 L448.90,125.07 L449.40,127.25 L449.90,129.18 L450.40,130.86 L450.90,132.29 L451.40,133.50 L451.90,134.49 L452.40,135.29 L452.90,135.91 L453.40,136.39 L453.90,136.74 L454.40,136.98 L454.90,137.12 L455.40,137.19 L455.90,137.21 L456.40,137.17 L456.90,137.10 L457.40,137.00 L457.90,136.88 L458.40,136.74 L458.90,136.59 L459.40,136.43 L459.90,136.27 L460.40,136.10 L460.40,136.12 L459.90,136.30 L459.40,136.48 L458.90,136.66 L458.40,136.84 L457.90,137.02 L457.40,137.20 L456.90,137.38 L456.40,137.57 L455.90,137.75 L455.40,137.93 L454.90,138.12 L454.40,138.30 L453.90,138.49 L453.40,138.67 L452.90,138.86 L452.40,139.05 L451.90,139.24 L451.40,139.43 L450.90,139.63 L450.40,139.82 L449.90,140.02 L449.40,140.21 L448.90,140.41 L448.40,140.61 L447.90,140.81 L447.40,141.01 L446.90,141.21 L446.40,141.42 L445.90,141.62 L445.40,141.82 L444.90,142.03 L444.40,142.23 L443.90,142.44 L443.40,142.65 L442.90,142.85 L442.40,143.06 L441.90,143.27 L441.40,143.47 L440.90,143.68 L440.40,143.89 L439.90,144.09 L439.40,144.30 L438.90,144.51 L438.40,144.71 L437.90,144.92 L437.40,145.12 L436.90,145.33 L436.40,145.53 L435.90,145.73 L435.40,145.94 L434.90,146.14 L434.40,146.34 L433.90,146.54 L433.40,146.74 L432.90,146.94 L432.40,147.13 L431.90,147.33 L431.40,147.52 L430.90,147.72 L430.40,147.91 L429.90,148.10 L429.40,148.29 L428.90,148.48 L428.40,148.68 L427.90,148.87 L427.40,149.06 L426.90,149.25 L426.40,149.44 L425.90,149.63 L425.40,149.83 L424.90,150.02 L424.40,150.21 L423.90,150.41 L423.40,150.60 L422.90,150.80 L422.40,151.00 L421.90,151.20 L421.40,151.40 L420.90,151.60 L420.40,151.80 L419.90,152.01 L419.40,152.21 L418.90,152.42 L418.40,152.63 L417.90,152.85 L417.40,153.06 Z" fill="#00f8f8"/>
<path d="M350.30,178.95 L350.80,178.94 L351.30,178.92 L351.80,178.89 L352.30,178.86 L352.80,178.82 L353.30,178.77 L353.80,178.70 L354.30,178.61 L354.80,178.50 L355.30,178.36 L355.80,178.20 L356.30,177.99 L356.80,177.73 L357.30,177.43 L357.80,177.06 L358.30,176.61 L358.80,176.09 L359.30,175.47 L359.80,174.76 L360.30,173.92 L360.80,172.96 L361.30,171.86 L361.80,170.60 L362.30,169.18 L362.80,167.58 L363.30,165.79 L363.80,163.81 L364.30,161.64 L364.80,159.28 L365.30,156.72 L365.80,153.99 L366.30,151.10 L366.80,148.07 L367.30,144.92 L367.80,141.70 L368.30,138.43 L368.80,135.16 L369.30,131.93 L369.80,128.79 L370.30,125.79 L370.80,122.98 L371.30,120.41 L371.80,118.12 L372.30,116.15 L372.80,114.54 L373.30,113.32 L373.80,112.50 L374.30,112.11 L374.80,112.07 L375.30,112.30 L375.80,112.80 L376.30,113.55 L376.80,114.54 L377.30,115.77 L377.80,117.20 L378.30,118.82 L378.80,120.60 L379.30,122.53 L379.80,124.58 L380.30,126.72 L380.80,128.92 L381.30,131.17 L381.80,133.44 L382.30,135.71 L382.80,137.95 L383.30,140.14 L383.80,142.28 L384.30,144.34 L384.80,146.30 L385.30,148.17 L385.80,149.92 L386.30,151.56 L386.80,153.08 L387.30,154.47 L387.80,155.74 L388.30,156.89 L388.80,157.92 L389.30,158.83 L389.80,159.62 L390.30,160.31 L390.80,160.90 L391.30,161.40 L391.80,161.81 L392.30,162.14 L392.80,162.40 L393.30,162.59 L393.80,162.72 L394.30,162.80 L394.80,162.83 L395.30,162.83 L395.80,162.78 L396.30,162.71 L396.80,162.61 L397.30,162.49 L397.80,162.34 L398.30,162.17 L398.80,161.99 L399.30,161.79 L399.80,161.58 L399.80,161.77 L399.30,162.03 L398.80,162.29 L398.30,162.54 L397.80,162.79 L397.30,163.05 L396.80,163.30 L396.30,163.55 L395.80,163.80 L395.30,164.06 L394.80,164.31 L394.30,164.57 L393.80,164.83 L393.30,165.09 L392.80,165.36 L392.30,165.62 L391.80,165.89 L391.30,166.15 L390.80,166.42 L390.30,166.68 L389.80,166.95 L389.30,167.22 L388.80,167.48 L388.30,167.75 L387.80,168.01 L387.30,168.28 L386.80,168.54 L386.30,168.80 L385.80,169.06 L385.30,169.32 L384.80,169.57 L384.30,169.82 L383.80,170.07 L383.30,170.32 L382.80,170.57 L382.30,170.81 L381.80,171.05 L381.30,171.28 L380.80,171.51 L380.30,171.74 L379.80,171.96 L379.30,172.18 L378.80,172.39 L378.30,172.60 L377.80,172.80 L377.30,173.00 L376.80,173.19 L376.30,173.38 L375.80,173.57 L375.30,173.76 L374.80,173.94 L374.30,174.11 L373.80,174.29 L373.30,174.46 L372.80,174.63 L372.30,174.80 L371.80,174.96 L371.30,175.12 L370.80,175.28 L370.30,175.44 L369.80,175.59 L369.30,175.74 L368.80,175.89 L368.30,176.03 L367.80,176.18 L367.30,176.32 L366.80,176.45 L366.30,176.59 L365.80,176.72 L365.30,176.85 L364.80,176.98 L364.30,177.10 L363.80,177.22 L363.30,177.34 L362.80,177.46 L362.30,177.57 L361.80,177.68 L361.30,177.79 L360.80,177.90 L360.30,178.00 L359.80,178.10 L359.30,178.20 L358.80,178.29 L358.30,178.38 L357.80,178.47 L357.30,178.55 L356.80,178.62 L356.30,178.68 L355.80,178.73 L355.30,178.78 L354.80,178.82 L354.30,178.85 L353.80,178.88 L353.30,178.90 L352.80,178.92 L352.30,178.94 L351.80,178.95 L351.30,178.96 L350.80,178.96 L350.30,178.97 Z" fill="#fd6c6c"/>
<path d="M424.50,150.16 L425.00,149.97 L425.50,149.77 L426.00,149.57 L426.50,149.37 L427.00,149.17 L427.50,148.97 L428.00,148.76 L428.50,148.55 L429.00,148.34 L429.50,148.11 L430.00,147.89 L430.50,147.65 L431.00,147.40 L431.50,147.14 L432.00,146.86 L432.50,146.57 L433.00,146.26 L433.50,145.92 L434.00,145.56 L434.50,145.16 L435.00,144.74 L435.50,144.27 L436.00,143.77 L436.50,143.22 L437.00,142.62 L437.50,141.96 L438.00,141.25 L438.50,140.48 L439.00,139.64 L439.50,138.73 L440.00,137.76 L440.50,136.71 L441.00,135.60 L441.50,134.41 L442.00,133.16 L442.50,131.84 L443.00,130.47 L443.50,129.04 L444.00,127.57 L444.50,126.06 L445.00,124.53 L445.50,122.98 L446.00,121.44 L446.50,119.91 L447.00,118.41 L447.50,116.95 L448.00,115.56 L448.50,114.24 L449.00,113.02 L449.50,111.89 L450.00,110.89 L450.50,110.02 L451.00,109.29 L451.50,108.71 L452.00,108.28 L452.50,108.01 L453.00,107.95 L453.50,108.15 L454.00,108.58 L454.50,109.25 L455.00,110.12 L455.50,111.18 L456.00,112.40 L456.50,113.73 L457.00,115.17 L457.50,116.66 L458.00,118.18 L458.50,119.71 L459.00,121.20 L459.50,122.65 L460.00,124.03 L460.50,125.33 L461.00,126.52 L461.50,127.61 L462.00,128.59 L462.50,129.45 L463.00,130.20 L463.50,130.85 L464.00,131.39 L464.50,131.83 L465.00,132.19 L465.50,132.47 L466.00,132.67 L466.50,132.82 L467.00,132.91 L467.50,132.96 L468.00,132.96 L468.50,132.94 L469.00,132.88 L469.50,132.81 L470.00,132.72 L470.50,132.61 L471.00,132.50 L471.50,132.38 L472.00,132.25 L472.50,132.12 L473.00,131.98 L473.50,131.85 L474.00,131.71 L474.50,131.57 L474.50,131.58 L474.00,131.72 L473.50,131.87 L473.00,132.01 L472.50,132.16 L472.00,132.31 L471.50,132.46 L471.00,132.61 L470.50,132.76 L470.00,132.91 L469.50,133.07 L469.00,133.23 L468.50,133.39 L468.00,133.55 L467.50,133.71 L467.00,133.87 L466.50,134.03 L466.00,134.20 L465.50,134.37 L465.00,134.53 L464.50,134.70 L464.00,134.87 L463.50,135.04 L463.00,135.21 L462.50,135.39 L462.00,135.56 L461.50,135.74 L461.00,135.91 L460.50,136.09 L460.00,136.27 L459.50,136.44 L459.00,136.62 L458.50,136.80 L458.00,136.98 L457.50,137.17 L457.00,137.35 L456.50,137.53 L456.00,137.71 L455.50,137.90 L455.00,138.08 L454.50,138.27 L454.00,138.45 L453.50,138.64 L453.00,138.82 L452.50,139.01 L452.00,139.20 L451.50,139.39 L451.00,139.59 L450.50,139.78 L450.00,139.98 L449.50,140.17 L449.00,140.37 L448.50,140.57 L448.00,140.77 L447.50,140.97 L447.00,141.17 L446.50,141.38 L446.00,141.58 L445.50,141.78 L445.00,141.99 L444.50,142.19 L444.00,142.40 L443.50,142.61 L443.00,142.81 L442.50,143.02 L442.00,143.22 L441.50,143.43 L441.00,143.64 L440.50,143.84 L440.00,144.05 L439.50,144.26 L439.00,144.46 L438.50,144.67 L438.00,144.88 L437.50,145.08 L437.00,145.29 L436.50,145.49 L436.00,145.69 L435.50,145.90 L435.00,146.10 L434.50,146.30 L434.00,146.50 L433.50,146.70 L433.00,146.90 L432.50,147.09 L432.00,147.29 L431.50,147.48 L431.00,147.68 L430.50,147.87 L430.00,148.06 L429.50,148.25 L429.00,148.45 L428.50,148.64 L428.00,148.83 L427.50,149.02 L427.00,149.21 L426.50,149.40 L426.00,149.60 L425.50,149.79 L425.00,149.98 L424.50,150.17 Z" fill="#fd6c6c"/>
<path d="M340.00,179.72 L341.00,179.02 L342.00,178.37 L343.00,177.76 L344.00,177.19 L345.00,176.65 L346.00,176.61 L347.00,176.59 L348.00,176.58 L349.00,176.58 L350.00,176.57 L351.00,176.56 L352.00,176.55 L353.00,176.52 L354.00,176.47 L355.00,176.40 L356.00,176.31 L357.00,176.19 L358.00,176.03 L359.00,175.85 L360.00,175.66 L361.00,175.45 L362.00,175.24 L363.00,175.01 L364.00,174.77 L365.00,174.53 L366.00,174.27 L367.00,174.00 L368.00,173.72 L369.00,173.43 L370.00,173.13 L371.00,172.82 L372.00,172.50 L373.00,172.16 L374.00,171.82 L375.00,171.46 L376.00,171.10 L377.00,170.72 L378.00,170.32 L379.00,169.91 L380.00,169.47 L381.00,169.02 L382.00,168.55 L383.00,168.07 L384.00,167.57 L385.00,167.07 L386.00,166.56 L387.00,166.03 L388.00,165.51 L389.00,164.98 L390.00,164.44 L391.00,163.91 L392.00,163.38 L393.00,162.85 L394.00,162.33 L395.00,161.81 L396.00,161.30 L397.00,160.80 L398.00,160.29 L399.00,159.78 L400.00,159.27 L401.00,158.75 L402.00,158.23 L403.00,157.71 L404.00,157.19 L405.00,156.68 L406.00,156.16 L407.00,155.64 L408.00,155.13 L409.00,154.63 L410.00,154.13 L411.00,153.63 L412.00,153.14 L413.00,152.66 L414.00,152.19 L415.00,151.73 L416.00,151.28 L417.00,150.83 L418.00,150.40 L419.00,149.98 L420.00,149.57 L421.00,149.16 L422.00,148.76 L423.00,148.36 L424.00,147.97 L425.00,147.58 L426.00,147.20 L427.00,146.81 L428.00,146.43 L429.00,146.05 L430.00,145.66 L431.00,145.28 L432.00,144.89 L433.00,144.50 L434.00,144.10 L435.00,143.70 L436.00,143.29 L437.00,142.89 L438.00,142.48 L439.00,142.06 L440.00,141.65 L441.00,141.24 L442.00,140.82 L443.00,140.41 L444.00,140.00 L445.00,139.59 L446.00,139.18 L447.00,138.77 L448.00,138.37 L449.00,137.97 L450.00,137.58 L451.00,137.19 L452.00,136.80 L453.00,136.42 L454.00,136.05 L455.00,135.68 L456.00,135.31 L457.00,134.95 L458.00,134.58 L459.00,134.22 L460.00,133.87 L461.00,133.51 L462.00,133.16 L463.00,132.81 L464.00,132.47 L465.00,132.13 L466.00,131.80 L467.00,131.47 L468.00,131.15 L469.00,130.83 L470.00,130.51 L471.00,130.21 L472.00,129.91 L473.00,129.61 L474.00,129.32 L475.00,129.04 L476.00,128.77 L477.00,128.50 L478.00,128.24 L479.00,127.99 L480.00,127.74 L481.00,127.49 L482.00,127.25 L483.00,127.02 L484.00,126.78 L485.00,126.55 L486.00,126.32 L487.00,126.09 L488.00,125.87 L489.00,125.64 L490.00,125.41 L491.00,125.18 L492.00,124.95 L493.00,124.73 L494.00,124.50 L495.00,124.28 L496.00,124.06 L497.00,123.84 L498.00,123.62 L499.00,123.40 L500.00,123.18 L501.00,122.96 L502.00,122.74 L503.00,122.53 L504.00,122.31 L505.00,122.10 L506.00,121.88 L507.00,121.67 L508.00,121.45 L509.00,121.24 L510.00,121.02 L511.00,120.81 L512.00,120.59 L513.00,120.38 L514.00,120.17 L515.00,120.43 L516.00,120.70 L517.00,120.96 L518.00,121.23 L519.00,121.49 L519.00,121.49 L518.00,121.71 L517.00,121.92 L516.00,122.14 L515.00,122.35 L514.00,122.57 L513.00,122.78 L512.00,122.99 L511.00,123.21 L510.00,123.42 L509.00,123.64 L508.00,123.85 L507.00,124.07 L506.00,124.28 L505.00,124.50 L504.00,124.71 L503.00,124.93 L502.00,125.14 L501.00,125.36 L500.00,125.58 L499.00,125.80 L498.00,126.02 L497.00,126.24 L496.00,126.46 L495.00,126.68 L494.00,126.90 L493.00,127.13 L492.00,127.35 L491.00,127.58 L490.00,127.81 L489.00,128.04 L488.00,128.27 L487.00,128.49 L486.00,128.72 L485.00,128.95 L484.00,129.18 L483.00,129.42 L482.00,129.65 L481.00,129.89 L480.00,130.14 L479.00,130.39 L478.00,130.64 L477.00,130.90 L476.00,131.17 L475.00,131.44 L474.00,131.72 L473.00,132.01 L472.00,132.31 L471.00,132.61 L470.00,132.91 L469.00,133.23 L468.00,133.55 L467.00,133.87 L466.00,134.20 L465.00,134.53 L464.00,134.87 L463.00,135.21 L462.00,135.56 L461.00,135.91 L460.00,136.27 L459.00,136.62 L458.00,136.98 L457.00,137.35 L456.00,137.71 L455.00,138.08 L454.00,138.45 L453.00,138.82 L452.00,139.20 L451.00,139.59 L450.00,139.98 L449.00,140.37 L448.00,140.77 L447.00,141.17 L446.00,141.58 L445.00,141.99 L444.00,142.40 L443.00,142.81 L442.00,143.22 L441.00,143.64 L440.00,144.05 L439.00,144.46 L438.00,144.88 L437.00,145.29 L436.00,145.69 L435.00,146.10 L434.00,146.50 L433.00,146.90 L432.00,147.29 L431.00,147.68 L430.00,148.06 L429.00,148.45 L428.00,148.83 L427.00,149.21 L426.00,149.60 L425.00,149.98 L424.00,150.37 L423.00,150.76 L422.00,151.16 L421.00,151.56 L420.00,151.97 L419.00,152.38 L418.00,152.80 L417.00,153.23 L416.00,153.68 L415.00,154.13 L414.00,154.59 L413.00,155.06 L412.00,155.54 L411.00,156.03 L410.00,156.53 L409.00,157.03 L408.00,157.53 L407.00,158.04 L406.00,158.56 L405.00,159.08 L404.00,159.59 L403.00,160.11 L402.00,160.63 L401.00,161.15 L400.00,161.67 L399.00,162.18 L398.00,162.69 L397.00,163.20 L396.00,163.70 L395.00,164.21 L394.00,164.73 L393.00,165.25 L392.00,165.78 L391.00,166.31 L390.00,166.84 L389.00,167.38 L388.00,167.91 L387.00,168.43 L386.00,168.96 L385.00,169.47 L384.00,169.97 L383.00,170.47 L382.00,170.95 L381.00,171.42 L380.00,171.87 L379.00,172.31 L378.00,172.72 L377.00,173.12 L376.00,173.50 L375.00,173.86 L374.00,174.22 L373.00,174.56 L372.00,174.90 L371.00,175.22 L370.00,175.53 L369.00,175.83 L368.00,176.12 L367.00,176.40 L366.00,176.67 L365.00,176.93 L364.00,177.17 L363.00,177.41 L362.00,177.64 L361.00,177.85 L360.00,178.06 L359.00,178.25 L358.00,178.43 L357.00,178.59 L356.00,178.71 L355.00,178.80 L354.00,178.87 L353.00,178.92 L352.00,178.95 L351.00,178.96 L350.00,178.97 L349.00,178.98 L348.00,178.98 L347.00,178.99 L346.00,179.01 L345.00,179.05 L344.00,179.11 L343.00,179.20 L342.00,179.33 L341.00,179.50 L340.00,179.72 Z" fill="#fd6c6c"/>
<path d="M340.00,179.72 L341.00,179.50 L342.00,179.33 L343.00,179.20 L344.00,179.11 L345.00,179.05 L346.00,179.01 L347.00,178.99 L348.00,178.98 L349.00,178.98 L350.00,178.97 L351.00,178.96 L352.00,178.95 L353.00,178.92 L354.00,178.87 L355.00,178.80 L356.00,178.71 L357.00,178.59 L358.00,178.43 L359.00,178.25 L360.00,178.06 L361.00,177.85 L362.00,177.64 L363.00,177.41 L364.00,177.17 L365.00,176.93 L366.00,176.67 L367.00,176.40 L368.00,176.12 L369.00,175.83 L370.00,175.53 L371.00,175.22 L372.00,174.90 L373.00,174.56 L374.00,174.22 L375.00,173.86 L376.00,173.50 L377.00,173.12 L378.00,172.72 L379.00,172.31 L380.00,171.87 L381.00,171.42 L382.00,170.95 L383.00,170.47 L384.00,169.97 L385.00,169.47 L386.00,168.96 L387.00,168.43 L388.00,167.91 L389.00,167.38 L390.00,166.84 L391.00,166.31 L392.00,165.78 L393.00,165.25 L394.00,164.73 L395.00,164.21 L396.00,163.70 L397.00,163.20 L398.00,162.69 L399.00,162.18 L400.00,161.67 L401.00,161.15 L402.00,160.63 L403.00,160.11 L404.00,159.59 L405.00,159.08 L406.00,158.56 L407.00,158.04 L408.00,157.53 L409.00,157.03 L410.00,156.53 L411.00,156.03 L412.00,155.54 L413.00,155.06 L414.00,154.59 L415.00,154.13 L416.00,153.68 L417.00,153.23 L418.00,152.80 L419.00,152.38 L420.00,151.97 L421.00,151.56 L422.00,151.16 L423.00,150.76 L424.00,150.37 L425.00,149.98 L426.00,149.60 L427.00,149.21 L428.00,148.83 L429.00,148.45 L430.00,148.06 L431.00,147.68 L432.00,147.29 L433.00,146.90 L434.00,146.50 L435.00,146.10 L436.00,145.69 L437.00,145.29 L438.00,144.88 L439.00,144.46 L440.00,144.05 L441.00,143.64 L442.00,143.22 L443.00,142.81 L444.00,142.40 L445.00,141.99 L446.00,141.58 L447.00,141.17 L448.00,140.77 L449.00,140.37 L450.00,139.98 L451.00,139.59 L452.00,139.20 L453.00,138.82 L454.00,138.45 L455.00,138.08 L456.00,137.71 L457.00,137.35 L458.00,136.98 L459.00,136.62 L460.00,136.27 L461.00,135.91 L462.00,135.56 L463.00,135.21 L464.00,134.87 L465.00,134.53 L466.00,134.20 L467.00,133.87 L468.00,133.55 L469.00,133.23 L470.00,132.91 L471.00,132.61 L472.00,132.31 L473.00,132.01 L474.00,131.72 L475.00,131.44 L476.00,131.17 L477.00,130.90 L478.00,130.64 L479.00,130.39 L480.00,130.14 L481.00,129.89 L482.00,129.65 L483.00,129.42 L484.00,129.18 L485.00,128.95 L486.00,128.72 L487.00,128.49 L488.00,128.27 L489.00,128.04 L490.00,127.81 L491.00,127.58 L492.00,127.35 L493.00,127.13 L494.00,126.90 L495.00,126.68 L496.00,126.46 L497.00,126.24 L498.00,126.02 L499.00,125.80 L500.00,125.58 L501.00,125.36 L502.00,125.14 L503.00,124.93 L504.00,124.71 L505.00,124.50 L506.00,124.28 L507.00,124.07 L508.00,123.85 L509.00,123.64 L510.00,123.42 L511.00,123.21 L512.00,122.99 L513.00,122.78 L514.00,122.57 L515.00,122.35 L516.00,122.14 L517.00,121.92 L518.00,121.71 L519.00,121.49" fill="none" stroke="#f05050" stroke-width="0.8"/>
<path d="M327.60,185.13 L328.19,186.22 L328.99,185.71 L329.94,184.87 L330.98,183.70 L332.05,184.71 L333.08,184.26 L334.00,183.03 L335.00,182.51 L336.02,181.30 L337.00,180.18 L337.93,180.63 L338.77,180.69 L339.50,178.88 L340.49,179.95 L341.13,177.73 L341.89,176.81 L342.53,175.61 L343.25,177.30 L344.00,175.79 L344.69,175.30 L345.28,173.62 L345.83,172.03 L346.25,171.33 L346.61,170.50 L346.95,169.12 L347.27,168.95 L347.56,167.37 L347.83,166.15 L348.08,165.82 L348.32,164.12 L348.54,163.93 L348.75,162.45 L348.95,161.55 L349.15,160.34 L349.33,159.48 L349.50,158.19 L349.67,157.04 L349.84,156.87 L349.99,155.23 L350.14,154.78 L350.29,153.21 L350.43,152.97 L350.57,151.89 L350.71,150.75 L350.84,149.76 L350.97,148.58 L351.09,147.73 L351.21,146.12 L351.33,145.48 L351.45,144.83 L351.56,143.20 L351.68,142.92 L351.79,141.89 L351.89,140.41 L352.00,139.37 L352.10,138.45 L352.21,137.39 L352.31,136.99 L352.41,135.39 L352.51,134.03 L352.60,133.09 L352.70,132.72 L352.79,131.99 L352.89,130.50 L352.98,129.49 L353.07,128.55 L353.16,127.75 L353.25,126.22 L353.34,125.61 L353.42,124.56 L353.51,123.62 L353.60,122.18 L353.68,121.17 L353.77,120.35 L353.85,119.93 L353.93,118.35 L354.02,117.60 L354.10,116.31 L354.18,115.10 L354.26,114.07 L354.34,113.81 L354.42,112.78 L354.50,111.37 L354.58,110.68 L354.66,109.68 L354.74,108.90 L354.82,107.96 L354.90,106.41 L354.98,105.99 L355.06,104.96 L355.14,103.59 L355.22,102.88 L355.29,101.49 L355.37,100.38 L355.45,99.25 L355.53,98.88 L355.61,97.16 L355.69,96.07 L355.76,95.81 L355.84,94.77 L355.92,93.48 L356.00,92.84 L356.08,91.05 L356.16,90.26 L356.24,89.29 L356.32,88.42 L356.40,87.17 L356.48,86.07 L356.57,85.34 L356.65,84.90 L356.73,83.98 L356.82,82.75 L356.90,81.48 L356.99,80.25 L357.07,79.96 L357.16,78.53 L357.25,77.73 L357.34,76.03 L357.43,75.21 L357.52,74.84 L357.62,73.80 L357.71,72.88 L357.81,71.60 L357.91,70.43 L358.01,69.58 L358.11,68.99 L358.20,67.68 L358.30,66.95 L358.44,65.28 L358.52,64.94 L358.59,63.25 L358.67,62.90 L358.76,62.07 L358.85,59.98 L358.95,59.36 L359.06,58.19 L359.17,57.17 L359.30,55.68 L359.41,54.34 L359.53,53.43 L359.66,52.89 L359.79,51.72 L359.93,49.82 L360.08,48.65 L360.22,47.53 L360.37,46.35 L360.51,45.69 L360.66,44.34 L360.80,44.07 L360.97,42.67 L361.14,40.98 L361.31,40.26 L361.48,38.94 L361.66,38.04 L361.83,36.73 L362.02,35.69 L362.20,34.77 L362.40,34.08 L362.70,33.08 L363.00,31.58 L363.32,29.83 L363.65,29.47 L364.01,28.93 L364.40,28.57 L364.85,28.85 L365.35,28.77 L365.88,30.25 L366.40,31.09 L366.88,33.14 L367.30,33.88 L367.53,35.30 L367.74,35.78 L367.92,37.21 L368.08,37.86 L368.24,38.66 L368.39,40.11 L368.55,41.17 L368.72,42.92 L368.90,43.50 L369.05,44.61 L369.19,45.59 L369.34,46.96 L369.49,47.09 L369.65,48.59 L369.80,49.51 L369.96,50.76 L370.12,52.02 L370.28,52.39 L370.45,53.79 L370.62,54.63 L370.80,55.66 L370.98,56.15 L371.17,57.89 L371.36,59.03 L371.56,59.39 L371.76,60.34 L371.97,61.99 L372.17,62.09 L372.38,63.04 L372.59,64.02 L372.79,65.74 L373.00,66.67 L373.20,67.35 L373.40,68.51 L373.60,68.90 L373.80,70.51 L374.00,71.31 L374.21,72.37 L374.41,73.24 L374.61,74.25 L374.81,75.06 L375.01,75.88 L375.21,77.26 L375.40,78.06 L375.60,79.50 L375.79,80.59 L375.97,81.44 L376.15,82.10 L376.33,82.80 L376.50,83.87 L376.68,84.89 L376.85,85.98 L377.04,87.28 L377.24,87.40 L377.44,88.84 L377.66,89.94 L377.90,91.32 L378.09,92.40 L378.29,93.24 L378.49,94.08 L378.71,95.22 L378.93,96.18 L379.15,97.43 L379.39,98.35 L379.62,99.43 L379.86,100.08 L380.09,101.85 L380.33,102.41 L380.57,103.71 L380.81,104.99 L381.04,106.17 L381.27,107.21 L381.50,107.21 L381.76,108.63 L382.03,109.76 L382.29,110.98 L382.57,111.88 L382.84,113.42 L383.11,114.07 L383.38,115.40 L383.65,117.11 L383.91,117.94 L384.17,118.58 L384.41,118.59 L384.65,121.67 L384.88,121.81 L385.10,121.24 L385.64,123.16 L386.10,125.03 L386.52,125.89 L386.94,125.41 L387.40,127.87 L388.08,127.36 L388.80,128.09 L390.00,130.40 L390.76,128.90 L391.65,130.55 L392.64,129.56 L393.70,130.82 L394.80,130.18 L395.91,130.59 L397.00,132.15 L397.96,130.95 L398.95,130.86 L399.97,131.29 L401.00,130.34 L402.03,129.97 L403.05,130.41 L404.04,130.01 L405.00,129.69 L406.06,131.57 L407.10,129.00 L408.12,130.83 L409.12,130.98 L410.10,130.22 L411.06,128.32 L412.00,129.50 L413.09,128.30 L414.16,129.84 L415.21,130.18 L416.21,129.10 L417.15,128.62 L418.00,130.12 L419.39,129.04 L420.51,129.70 L421.60,130.38 L422.45,131.99 L423.28,131.24 L424.09,131.30 L424.90,133.66 L425.73,134.51 L426.56,134.63 L427.36,134.06 L428.10,134.59 L428.76,134.68 L429.35,134.06 L429.92,132.49 L430.50,131.60 L430.80,130.86 L431.10,130.09 L431.40,129.15 L431.69,127.32 L431.99,126.85 L432.29,125.24 L432.60,124.87 L432.90,123.45 L433.09,122.62 L433.29,121.17 L433.49,120.11 L433.69,119.90 L433.90,118.70 L434.10,117.69 L434.30,116.51 L434.50,115.79 L434.69,114.27 L434.88,113.15 L435.06,112.19 L435.24,111.11 L435.40,110.43 L435.55,109.69 L435.70,107.88 L435.83,106.87 L435.96,106.32 L436.08,105.48 L436.20,103.99 L436.31,103.07 L436.43,101.86 L436.54,100.83 L436.65,100.29 L436.76,99.48 L436.88,98.45 L437.00,96.96 L437.13,95.81 L437.27,95.50 L437.40,93.96 L437.53,92.68 L437.67,91.80 L437.80,90.69 L437.93,89.36 L438.07,87.82 L438.20,87.52 L438.33,85.91 L438.47,84.80 L438.60,84.25 L438.84,82.84 L439.04,81.48 L439.24,79.74 L439.48,79.20 L439.79,78.15 L440.20,77.26 L441.09,77.80 L442.20,78.28 L443.34,79.22 L444.30,79.78 L445.23,80.24 L445.96,81.85 L446.70,83.20 L447.18,83.61 L447.66,84.78 L448.14,85.72 L448.62,86.19 L449.10,88.04 L449.37,88.91 L449.63,89.75 L449.90,90.04 L450.16,91.51 L450.43,92.94 L450.69,94.11 L450.96,95.41 L451.23,96.41 L451.50,96.96 L451.81,98.83 L452.12,99.51 L452.43,100.91 L452.75,101.26 L453.07,103.05 L453.38,103.58 L453.69,104.75 L454.00,105.64 L454.40,106.98 L454.78,107.61 L455.16,108.43 L455.54,109.82 L455.95,110.61 L456.40,111.94 L456.97,113.32 L457.58,113.92 L458.22,114.67 L458.89,115.48 L459.60,116.72 L460.38,117.80 L461.24,117.11 L462.11,119.43 L462.95,118.81 L463.70,118.98 L465.08,121.70 L466.50,120.46 L467.17,121.05 L467.83,119.49 L468.60,117.80 L469.58,117.39 L470.90,117.20 L471.67,117.48 L472.56,117.54 L473.55,117.20 L474.61,116.65 L475.72,115.32 L476.84,115.49 L477.96,115.06 L479.04,115.06 L480.06,114.18 L480.99,114.59 L481.80,114.09 L483.00,112.42 L483.96,113.87 L484.76,112.64 L485.51,112.63 L486.32,111.94 L487.30,111.50 L488.27,111.86 L489.29,109.94 L490.35,109.71 L491.46,108.48 L492.59,110.08 L493.74,109.86 L494.90,110.00 L495.82,111.35 L496.78,109.66 L497.76,110.23 L498.75,112.11 L499.74,112.91 L500.73,112.65 L501.71,112.11 L502.67,113.44 L503.60,115.05 L504.61,114.58 L505.60,114.79 L506.57,114.88 L507.52,115.74 L508.46,115.89 L509.41,116.37 L510.35,117.07 L511.30,117.05 L512.31,116.41 L513.39,116.45 L514.49,118.23 L515.58,118.65 L516.61,119.38 L517.54,117.82 L518.31,119.79 L518.90,120.12" fill="none" stroke="#ff1a1a" stroke-width="1.2" stroke-linejoin="round"/>
<line x1="364.5" y1="22.6" x2="364.5" y2="28.5" stroke="#ff1a1a" stroke-width="1.1"/>
<path d="M362.6,29.6 L364.5,27.2 L366.4,29.6" fill="none" stroke="#ff1a1a" stroke-width="0.9"/>
<rect x="21.3" y="237.1" width="254.0" height="198.7" fill="none" stroke="#4a4a4a" stroke-width="1.45"/>
<line x1="34.7" y1="435.8" x2="34.7" y2="439.4" stroke="#4a4a4a" stroke-width="1.3"/>
<line x1="88.2" y1="435.8" x2="88.2" y2="439.4" stroke="#4a4a4a" stroke-width="1.3"/>
<line x1="141.7" y1="435.8" x2="141.7" y2="439.4" stroke="#4a4a4a" stroke-width="1.3"/>
<line x1="195.2" y1="435.8" x2="195.2" y2="439.4" stroke="#4a4a4a" stroke-width="1.3"/>
<line x1="248.7" y1="435.8" x2="248.7" y2="439.4" stroke="#4a4a4a" stroke-width="1.3"/>
<line x1="61.5" y1="435.8" x2="61.5" y2="438.0" stroke="#4a4a4a" stroke-width="1.2"/>
<line x1="115.0" y1="435.8" x2="115.0" y2="438.0" stroke="#4a4a4a" stroke-width="1.2"/>
<line x1="168.5" y1="435.8" x2="168.5" y2="438.0" stroke="#4a4a4a" stroke-width="1.2"/>
<line x1="222.0" y1="435.8" x2="222.0" y2="438.0" stroke="#4a4a4a" stroke-width="1.2"/>
<line x1="275.3" y1="435.8" x2="275.3" y2="438.0" stroke="#4a4a4a" stroke-width="1.2"/>
<path d="M108.00,381.76 L108.50,381.24 L109.00,380.71 L109.50,380.18 L110.00,379.65 L110.50,379.11 L111.00,378.58 L111.50,378.04 L112.00,377.50 L112.50,376.97 L113.00,376.43 L113.50,375.90 L114.00,375.36 L114.50,374.83 L115.00,374.31 L115.50,373.78 L116.00,373.26 L116.50,372.74 L117.00,372.23 L117.50,371.73 L118.00,371.22 L118.50,370.73 L119.00,370.24 L119.50,369.75 L120.00,369.28 L120.50,368.81 L121.00,368.35 L121.50,367.89 L122.00,367.45 L122.50,367.02 L123.00,366.59 L123.50,366.18 L124.00,365.77 L124.50,365.38 L125.00,365.00 L125.50,364.63 L126.00,364.27 L126.50,363.92 L127.00,363.59 L127.50,363.27 L128.00,362.96 L128.50,362.67 L129.00,362.39 L129.50,362.12 L130.00,361.87 L130.50,361.63 L131.00,361.40 L131.50,361.20 L132.00,361.03 L132.50,360.90 L133.00,360.79 L133.50,360.72 L134.00,360.68 L134.50,360.68 L135.00,360.70 L135.50,360.75 L136.00,360.83 L136.50,360.93 L137.00,361.05 L137.50,361.19 L138.00,361.35 L138.50,361.53 L139.00,361.73 L139.50,361.94 L140.00,362.16 L140.50,362.40 L141.00,362.65 L141.50,362.91 L142.00,363.18 L142.50,363.45 L143.00,363.73 L143.50,364.02 L144.00,364.30 L144.50,364.59 L145.00,364.88 L145.50,365.17 L146.00,365.45 L146.50,365.74 L147.00,366.01 L147.50,366.29 L148.00,366.56 L148.50,366.82 L149.00,367.07 L149.50,367.32 L150.00,367.56 L150.50,367.79 L151.00,368.01 L151.50,368.22 L152.00,368.43 L152.50,368.62 L153.00,368.81 L153.50,368.98 L154.00,369.15 L154.50,369.31 L155.00,369.45 L155.50,369.59 L156.00,369.72 L156.50,369.84 L157.00,369.95 L157.50,370.04 L158.00,370.13 L158.50,370.21 L159.00,370.28 L159.50,370.34 L160.00,370.38 L160.50,370.42 L161.00,370.45 L161.50,370.47 L162.00,370.49 L162.50,370.49 L163.00,370.49 L163.50,370.48 L164.00,370.46 L164.50,370.43 L165.00,370.40 L165.50,370.36 L166.00,370.31 L166.50,370.26 L167.00,370.20 L167.50,370.14 L168.00,370.07 L168.00,370.65 L167.50,370.78 L167.00,370.92 L166.50,371.05 L166.00,371.18 L165.50,371.31 L165.00,371.45 L164.50,371.58 L164.00,371.72 L163.50,371.86 L163.00,371.99 L162.50,372.13 L162.00,372.28 L161.50,372.42 L161.00,372.57 L160.50,372.72 L160.00,372.87 L159.50,373.03 L159.00,373.19 L158.50,373.35 L158.00,373.52 L157.50,373.69 L157.00,373.86 L156.50,374.04 L156.00,374.22 L155.50,374.41 L155.00,374.60 L154.50,374.80 L154.00,375.00 L153.50,375.22 L153.00,375.43 L152.50,375.65 L152.00,375.88 L151.50,376.12 L151.00,376.35 L150.50,376.60 L150.00,376.85 L149.50,377.10 L149.00,377.35 L148.50,377.61 L148.00,377.87 L147.50,378.13 L147.00,378.40 L146.50,378.67 L146.00,378.94 L145.50,379.21 L145.00,379.48 L144.50,379.75 L144.00,380.03 L143.50,380.30 L143.00,380.57 L142.50,380.84 L142.00,381.12 L141.50,381.39 L141.00,381.65 L140.50,381.92 L140.00,382.18 L139.50,382.44 L139.00,382.70 L138.50,382.96 L138.00,383.21 L137.50,383.46 L137.00,383.70 L136.50,383.94 L136.00,384.17 L135.50,384.40 L135.00,384.63 L134.50,384.85 L134.00,385.07 L133.50,385.30 L133.00,385.52 L132.50,385.74 L132.00,385.96 L131.50,386.18 L131.00,386.40 L130.50,386.62 L130.00,386.84 L129.50,387.05 L129.00,387.26 L128.50,387.47 L128.00,387.68 L127.50,387.89 L127.00,388.10 L126.50,388.30 L126.00,388.50 L125.50,388.70 L125.00,388.90 L124.50,389.09 L124.00,389.29 L123.50,389.48 L123.00,389.67 L122.50,389.86 L122.00,390.04 L121.50,390.23 L121.00,390.41 L120.50,390.59 L120.00,390.77 L119.50,390.94 L119.00,391.12 L118.50,391.29 L118.00,391.46 L117.50,391.63 L117.00,391.80 L116.50,391.97 L116.00,392.13 L115.50,392.30 L115.00,392.46 L114.50,392.62 L114.00,392.78 L113.50,392.95 L113.00,393.11 L112.50,393.27 L112.00,393.42 L111.50,393.58 L111.00,393.74 L110.50,393.90 L110.00,394.05 L109.50,394.21 L109.00,394.36 L108.50,394.52 L108.00,394.67 Z" fill="#ffa660"/>
<path d="M190.00,363.17 L190.50,362.95 L191.00,362.73 L191.50,362.50 L192.00,362.27 L192.50,362.04 L193.00,361.80 L193.50,361.56 L194.00,361.31 L194.50,361.05 L195.00,360.79 L195.50,360.53 L196.00,360.26 L196.50,359.98 L197.00,359.70 L197.50,359.42 L198.00,359.13 L198.50,358.84 L199.00,358.54 L199.50,358.24 L200.00,357.94 L200.50,357.63 L201.00,357.33 L201.50,357.02 L202.00,356.70 L202.50,356.39 L203.00,356.08 L203.50,355.76 L204.00,355.45 L204.50,355.13 L205.00,354.82 L205.50,354.51 L206.00,354.20 L206.50,353.90 L207.00,353.59 L207.50,353.30 L208.00,353.00 L208.50,352.71 L209.00,352.43 L209.50,352.15 L210.00,351.87 L210.50,351.61 L211.00,351.35 L211.50,351.10 L212.00,350.86 L212.50,350.62 L213.00,350.40 L213.50,350.19 L214.00,349.98 L214.50,349.79 L215.00,349.61 L215.50,349.43 L216.00,349.27 L216.50,349.12 L217.00,348.98 L217.50,348.85 L218.00,348.74 L218.50,348.63 L219.00,348.54 L219.50,348.46 L220.00,348.39 L220.50,348.34 L221.00,348.31 L221.50,348.28 L222.00,348.28 L222.50,348.29 L223.00,348.31 L223.50,348.34 L224.00,348.38 L224.50,348.44 L225.00,348.51 L225.50,348.59 L226.00,348.67 L226.50,348.77 L227.00,348.87 L227.50,348.98 L228.00,349.10 L228.50,349.22 L229.00,349.34 L229.50,349.47 L230.00,349.60 L230.50,349.74 L231.00,349.87 L231.50,350.00 L232.00,350.14 L232.50,350.27 L233.00,350.40 L233.50,350.53 L234.00,350.65 L234.50,350.77 L235.00,350.88 L235.50,350.99 L236.00,351.10 L236.50,351.20 L237.00,351.29 L237.50,351.38 L238.00,351.46 L238.50,351.53 L239.00,351.59 L239.50,351.65 L240.00,351.70 L240.50,351.75 L241.00,351.79 L241.00,353.37 L240.50,353.46 L240.00,353.54 L239.50,353.63 L239.00,353.71 L238.50,353.80 L238.00,353.89 L237.50,353.97 L237.00,354.05 L236.50,354.13 L236.00,354.22 L235.50,354.30 L235.00,354.38 L234.50,354.46 L234.00,354.54 L233.50,354.62 L233.00,354.70 L232.50,354.78 L232.00,354.86 L231.50,354.94 L231.00,355.03 L230.50,355.11 L230.00,355.19 L229.50,355.27 L229.00,355.35 L228.50,355.43 L228.00,355.51 L227.50,355.60 L227.00,355.68 L226.50,355.76 L226.00,355.84 L225.50,355.93 L225.00,356.01 L224.50,356.09 L224.00,356.18 L223.50,356.26 L223.00,356.35 L222.50,356.43 L222.00,356.52 L221.50,356.60 L221.00,356.69 L220.50,356.77 L220.00,356.86 L219.50,356.95 L219.00,357.04 L218.50,357.13 L218.00,357.22 L217.50,357.30 L217.00,357.40 L216.50,357.49 L216.00,357.58 L215.50,357.67 L215.00,357.77 L214.50,357.86 L214.00,357.96 L213.50,358.06 L213.00,358.15 L212.50,358.26 L212.00,358.36 L211.50,358.46 L211.00,358.57 L210.50,358.68 L210.00,358.79 L209.50,358.90 L209.00,359.01 L208.50,359.13 L208.00,359.24 L207.50,359.36 L207.00,359.48 L206.50,359.60 L206.00,359.73 L205.50,359.85 L205.00,359.98 L204.50,360.11 L204.00,360.24 L203.50,360.37 L203.00,360.50 L202.50,360.63 L202.00,360.77 L201.50,360.91 L201.00,361.04 L200.50,361.18 L200.00,361.32 L199.50,361.46 L199.00,361.61 L198.50,361.75 L198.00,361.89 L197.50,362.03 L197.00,362.18 L196.50,362.32 L196.00,362.46 L195.50,362.61 L195.00,362.75 L194.50,362.89 L194.00,363.03 L193.50,363.17 L193.00,363.32 L192.50,363.46 L192.00,363.60 L191.50,363.74 L191.00,363.88 L190.50,364.03 L190.00,364.17 Z" fill="#76eb00"/>
<path d="M58.00,405.59 L58.50,405.31 L59.00,405.02 L59.50,404.73 L60.00,404.44 L60.50,404.16 L61.00,403.87 L61.50,403.58 L62.00,403.29 L62.50,403.00 L63.00,402.71 L63.50,402.42 L64.00,402.13 L64.50,401.84 L65.00,401.54 L65.50,401.25 L66.00,400.95 L66.50,400.65 L67.00,400.35 L67.50,400.04 L68.00,399.73 L68.50,399.40 L69.00,399.07 L69.50,398.72 L70.00,398.36 L70.50,397.97 L71.00,397.56 L71.50,397.12 L72.00,396.62 L72.50,396.07 L73.00,395.46 L73.50,394.75 L74.00,393.94 L74.50,393.01 L75.00,391.93 L75.50,390.69 L76.00,389.25 L76.50,387.59 L77.00,385.69 L77.50,383.51 L78.00,381.03 L78.50,378.24 L79.00,375.11 L79.50,371.62 L80.00,367.78 L80.50,363.57 L81.00,359.01 L81.50,354.12 L82.00,348.92 L82.50,343.45 L83.00,337.76 L83.50,331.93 L84.00,326.01 L84.50,320.10 L85.00,314.30 L85.50,308.71 L86.00,303.46 L86.50,298.67 L87.00,294.47 L87.50,290.97 L88.00,288.30 L88.50,286.53 L89.00,285.74 L89.50,285.94 L90.00,287.13 L90.50,289.27 L91.00,292.27 L91.50,296.02 L92.00,300.42 L92.50,305.33 L93.00,310.63 L93.50,316.20 L94.00,321.93 L94.50,327.70 L95.00,333.43 L95.50,339.04 L96.00,344.46 L96.50,349.63 L97.00,354.51 L97.50,359.07 L98.00,363.27 L98.50,367.12 L99.00,370.61 L99.50,373.73 L100.00,376.51 L100.50,378.96 L101.00,381.09 L101.50,382.94 L102.00,384.52 L102.50,385.86 L103.00,386.99 L103.50,387.94 L104.00,388.72 L104.50,389.35 L105.00,389.87 L105.50,390.28 L106.00,390.61 L106.50,390.86 L107.00,391.05 L107.50,391.19 L108.00,391.29 L108.50,391.35 L109.00,391.39 L109.50,391.40 L110.00,391.39 L110.50,391.37 L111.00,391.33 L111.50,391.28 L111.50,393.58 L111.00,393.74 L110.50,393.90 L110.00,394.05 L109.50,394.21 L109.00,394.36 L108.50,394.52 L108.00,394.67 L107.50,394.82 L107.00,394.97 L106.50,395.12 L106.00,395.27 L105.50,395.42 L105.00,395.57 L104.50,395.72 L104.00,395.87 L103.50,396.01 L103.00,396.16 L102.50,396.30 L102.00,396.44 L101.50,396.59 L101.00,396.73 L100.50,396.87 L100.00,397.01 L99.50,397.15 L99.00,397.28 L98.50,397.42 L98.00,397.56 L97.50,397.69 L97.00,397.82 L96.50,397.95 L96.00,398.08 L95.50,398.21 L95.00,398.34 L94.50,398.47 L94.00,398.59 L93.50,398.71 L93.00,398.84 L92.50,398.95 L92.00,399.07 L91.50,399.19 L91.00,399.30 L90.50,399.41 L90.00,399.52 L89.50,399.62 L89.00,399.72 L88.50,399.81 L88.00,399.89 L87.50,399.97 L87.00,400.04 L86.50,400.10 L86.00,400.16 L85.50,400.21 L85.00,400.25 L84.50,400.28 L84.00,400.31 L83.50,400.34 L83.00,400.36 L82.50,400.38 L82.00,400.39 L81.50,400.40 L81.00,400.41 L80.50,400.42 L80.00,400.42 L79.50,400.43 L79.00,400.43 L78.50,400.44 L78.00,400.46 L77.50,400.47 L77.00,400.49 L76.50,400.52 L76.00,400.55 L75.50,400.59 L75.00,400.64 L74.50,400.70 L74.00,400.76 L73.50,400.84 L73.00,400.92 L72.50,401.01 L72.00,401.12 L71.50,401.24 L71.00,401.36 L70.50,401.50 L70.00,401.65 L69.50,401.81 L69.00,401.97 L68.50,402.15 L68.00,402.33 L67.50,402.52 L67.00,402.71 L66.50,402.91 L66.00,403.12 L65.50,403.32 L65.00,403.54 L64.50,403.75 L64.00,403.97 L63.50,404.20 L63.00,404.42 L62.50,404.65 L62.00,404.88 L61.50,405.12 L61.00,405.36 L60.50,405.59 L60.00,405.84 L59.50,406.08 L59.00,406.32 L58.50,406.57 L58.00,406.82 Z" fill="#00f8f8"/>
<path d="M150.50,375.97 L151.00,375.69 L151.50,375.41 L152.00,375.13 L152.50,374.85 L153.00,374.56 L153.50,374.26 L154.00,373.95 L154.50,373.63 L155.00,373.28 L155.50,372.91 L156.00,372.49 L156.50,372.03 L157.00,371.50 L157.50,370.91 L158.00,370.22 L158.50,369.43 L159.00,368.52 L159.50,367.47 L160.00,366.26 L160.50,364.88 L161.00,363.32 L161.50,361.55 L162.00,359.58 L162.50,357.39 L163.00,355.00 L163.50,352.42 L164.00,349.65 L164.50,346.73 L165.00,343.69 L165.50,340.58 L166.00,337.44 L166.50,334.34 L167.00,331.33 L167.50,328.50 L168.00,325.91 L168.50,323.64 L169.00,321.76 L169.50,320.33 L170.00,319.39 L170.50,318.98 L171.00,319.12 L171.50,319.78 L172.00,320.94 L172.50,322.55 L173.00,324.54 L173.50,326.85 L174.00,329.40 L174.50,332.12 L175.00,334.94 L175.50,337.79 L176.00,340.62 L176.50,343.37 L177.00,346.01 L177.50,348.49 L178.00,350.78 L178.50,352.88 L179.00,354.77 L179.50,356.44 L180.00,357.91 L180.50,359.18 L181.00,360.25 L181.50,361.15 L182.00,361.89 L182.50,362.49 L183.00,362.96 L183.50,363.32 L184.00,363.59 L184.50,363.79 L185.00,363.92 L185.50,363.99 L186.00,364.03 L186.50,364.03 L187.00,364.00 L187.50,363.95 L188.00,363.88 L188.50,363.80 L189.00,363.71 L189.50,363.61 L190.00,363.51 L190.50,363.40 L190.50,364.03 L190.00,364.17 L189.50,364.31 L189.00,364.46 L188.50,364.61 L188.00,364.75 L187.50,364.90 L187.00,365.05 L186.50,365.20 L186.00,365.35 L185.50,365.50 L185.00,365.65 L184.50,365.80 L184.00,365.95 L183.50,366.10 L183.00,366.25 L182.50,366.40 L182.00,366.56 L181.50,366.71 L181.00,366.86 L180.50,367.01 L180.00,367.16 L179.50,367.32 L179.00,367.47 L178.50,367.62 L178.00,367.77 L177.50,367.92 L177.00,368.08 L176.50,368.23 L176.00,368.38 L175.50,368.53 L175.00,368.68 L174.50,368.83 L174.00,368.98 L173.50,369.13 L173.00,369.28 L172.50,369.42 L172.00,369.56 L171.50,369.71 L171.00,369.84 L170.50,369.98 L170.00,370.12 L169.50,370.25 L169.00,370.39 L168.50,370.52 L168.00,370.65 L167.50,370.78 L167.00,370.92 L166.50,371.05 L166.00,371.18 L165.50,371.31 L165.00,371.45 L164.50,371.58 L164.00,371.72 L163.50,371.86 L163.00,371.99 L162.50,372.13 L162.00,372.28 L161.50,372.42 L161.00,372.57 L160.50,372.72 L160.00,372.87 L159.50,373.03 L159.00,373.19 L158.50,373.35 L158.00,373.52 L157.50,373.69 L157.00,373.86 L156.50,374.04 L156.00,374.22 L155.50,374.41 L155.00,374.60 L154.50,374.80 L154.00,375.00 L153.50,375.22 L153.00,375.43 L152.50,375.65 L152.00,375.88 L151.50,376.12 L151.00,376.35 L150.50,376.60 Z" fill="#00f8f8"/>
<path d="M70.00,400.87 L70.50,400.70 L71.00,400.53 L71.50,400.38 L72.00,400.23 L72.50,400.10 L73.00,399.97 L73.50,399.86 L74.00,399.75 L74.50,399.65 L75.00,399.55 L75.50,399.46 L76.00,399.38 L76.50,399.30 L77.00,399.23 L77.50,399.15 L78.00,399.08 L78.50,399.01 L79.00,398.94 L79.50,398.86 L80.00,398.77 L80.50,398.68 L81.00,398.58 L81.50,398.47 L82.00,398.34 L82.50,398.18 L83.00,398.01 L83.50,397.81 L84.00,397.57 L84.50,397.29 L85.00,396.97 L85.50,396.59 L86.00,396.14 L86.50,395.62 L87.00,395.01 L87.50,394.31 L88.00,393.49 L88.50,392.55 L89.00,391.47 L89.50,390.25 L90.00,388.86 L90.50,387.30 L91.00,385.57 L91.50,383.65 L92.00,381.54 L92.50,379.24 L93.00,376.76 L93.50,374.10 L94.00,371.27 L94.50,368.31 L95.00,365.22 L95.50,362.04 L96.00,358.82 L96.50,355.59 L97.00,352.42 L97.50,349.34 L98.00,346.44 L98.50,343.78 L99.00,341.42 L99.50,339.45 L100.00,337.91 L100.50,336.86 L101.00,336.34 L101.50,336.30 L102.00,336.63 L102.50,337.30 L103.00,338.29 L103.50,339.57 L104.00,341.11 L104.50,342.86 L105.00,344.80 L105.50,346.88 L106.00,349.06 L106.50,351.31 L107.00,353.59 L107.50,355.89 L108.00,358.17 L108.50,360.41 L109.00,362.60 L109.50,364.72 L110.00,366.75 L110.50,368.69 L111.00,370.52 L111.50,372.24 L112.00,373.85 L112.50,375.35 L113.00,376.73 L113.50,378.00 L114.00,379.15 L114.50,380.19 L115.00,381.13 L115.50,381.97 L116.00,382.71 L116.50,383.37 L117.00,383.94 L117.50,384.43 L118.00,384.85 L118.50,385.21 L119.00,385.51 L119.50,385.76 L120.00,385.96 L120.50,386.12 L121.00,386.23 L121.50,386.32 L122.00,386.37 L122.50,386.40 L123.00,386.40 L123.50,386.38 L124.00,386.35 L124.50,386.29 L125.00,386.22 L125.50,386.14 L126.00,386.05 L126.50,385.95 L127.00,385.84 L127.50,385.72 L128.00,385.59 L128.50,385.45 L129.00,385.31 L129.50,385.16 L130.00,385.01 L130.50,384.85 L131.00,384.69 L131.50,384.53 L132.00,384.36 L132.50,384.18 L133.00,384.01 L133.50,383.83 L134.00,383.65 L134.50,383.46 L135.00,383.28 L135.50,383.09 L136.00,382.90 L136.50,382.70 L137.00,382.49 L137.50,382.28 L138.00,382.06 L138.50,381.84 L139.00,381.61 L139.50,381.38 L140.00,381.15 L140.50,380.91 L141.00,380.66 L141.50,380.42 L142.00,380.17 L142.50,379.92 L143.00,379.67 L143.50,379.42 L144.00,379.17 L144.50,378.91 L145.00,378.66 L145.50,378.40 L146.00,378.15 L146.50,377.90 L147.00,377.65 L147.50,377.40 L148.00,377.15 L148.50,376.90 L149.00,376.66 L149.50,376.42 L150.00,376.18 L150.50,375.94 L151.00,375.71 L151.50,375.49 L152.00,375.27 L152.50,375.05 L153.00,374.84 L153.50,374.63 L154.00,374.43 L154.50,374.24 L155.00,374.05 L155.50,373.87 L156.00,373.69 L156.50,373.51 L157.00,373.35 L157.50,373.18 L158.00,373.02 L158.50,372.86 L159.00,372.71 L159.50,372.56 L160.00,372.41 L160.00,372.87 L159.50,373.03 L159.00,373.19 L158.50,373.35 L158.00,373.52 L157.50,373.69 L157.00,373.86 L156.50,374.04 L156.00,374.22 L155.50,374.41 L155.00,374.60 L154.50,374.80 L154.00,375.00 L153.50,375.22 L153.00,375.43 L152.50,375.65 L152.00,375.88 L151.50,376.12 L151.00,376.35 L150.50,376.60 L150.00,376.85 L149.50,377.10 L149.00,377.35 L148.50,377.61 L148.00,377.87 L147.50,378.13 L147.00,378.40 L146.50,378.67 L146.00,378.94 L145.50,379.21 L145.00,379.48 L144.50,379.75 L144.00,380.03 L143.50,380.30 L143.00,380.57 L142.50,380.84 L142.00,381.12 L141.50,381.39 L141.00,381.65 L140.50,381.92 L140.00,382.18 L139.50,382.44 L139.00,382.70 L138.50,382.96 L138.00,383.21 L137.50,383.46 L137.00,383.70 L136.50,383.94 L136.00,384.17 L135.50,384.40 L135.00,384.63 L134.50,384.85 L134.00,385.07 L133.50,385.30 L133.00,385.52 L132.50,385.74 L132.00,385.96 L131.50,386.18 L131.00,386.40 L130.50,386.62 L130.00,386.84 L129.50,387.05 L129.00,387.26 L128.50,387.47 L128.00,387.68 L127.50,387.89 L127.00,388.10 L126.50,388.30 L126.00,388.50 L125.50,388.70 L125.00,388.90 L124.50,389.09 L124.00,389.29 L123.50,389.48 L123.00,389.67 L122.50,389.86 L122.00,390.04 L121.50,390.23 L121.00,390.41 L120.50,390.59 L120.00,390.77 L119.50,390.94 L119.00,391.12 L118.50,391.29 L118.00,391.46 L117.50,391.63 L117.00,391.80 L116.50,391.97 L116.00,392.13 L115.50,392.30 L115.00,392.46 L114.50,392.62 L114.00,392.78 L113.50,392.95 L113.00,393.11 L112.50,393.27 L112.00,393.42 L111.50,393.58 L111.00,393.74 L110.50,393.90 L110.00,394.05 L109.50,394.21 L109.00,394.36 L108.50,394.52 L108.00,394.67 L107.50,394.82 L107.00,394.97 L106.50,395.12 L106.00,395.27 L105.50,395.42 L105.00,395.57 L104.50,395.72 L104.00,395.87 L103.50,396.01 L103.00,396.16 L102.50,396.30 L102.00,396.44 L101.50,396.59 L101.00,396.73 L100.50,396.87 L100.00,397.01 L99.50,397.15 L99.00,397.28 L98.50,397.42 L98.00,397.56 L97.50,397.69 L97.00,397.82 L96.50,397.95 L96.00,398.08 L95.50,398.21 L95.00,398.34 L94.50,398.47 L94.00,398.59 L93.50,398.71 L93.00,398.84 L92.50,398.95 L92.00,399.07 L91.50,399.19 L91.00,399.30 L90.50,399.41 L90.00,399.52 L89.50,399.62 L89.00,399.72 L88.50,399.81 L88.00,399.89 L87.50,399.97 L87.00,400.04 L86.50,400.10 L86.00,400.16 L85.50,400.21 L85.00,400.25 L84.50,400.28 L84.00,400.31 L83.50,400.34 L83.00,400.36 L82.50,400.38 L82.00,400.39 L81.50,400.40 L81.00,400.41 L80.50,400.42 L80.00,400.42 L79.50,400.43 L79.00,400.43 L78.50,400.44 L78.00,400.46 L77.50,400.47 L77.00,400.49 L76.50,400.52 L76.00,400.55 L75.50,400.59 L75.00,400.64 L74.50,400.70 L74.00,400.76 L73.50,400.84 L73.00,400.92 L72.50,401.01 L72.00,401.12 L71.50,401.24 L71.00,401.36 L70.50,401.50 L70.00,401.65 Z" fill="#fd6c6c"/>
<path d="M158.20,373.09 L158.70,372.91 L159.20,372.73 L159.70,372.55 L160.20,372.37 L160.70,372.20 L161.20,372.02 L161.70,371.84 L162.20,371.65 L162.70,371.46 L163.20,371.27 L163.70,371.06 L164.20,370.85 L164.70,370.62 L165.20,370.37 L165.70,370.11 L166.20,369.82 L166.70,369.51 L167.20,369.16 L167.70,368.77 L168.20,368.35 L168.70,367.88 L169.20,367.36 L169.70,366.78 L170.20,366.14 L170.70,365.44 L171.20,364.68 L171.70,363.84 L172.20,362.94 L172.70,361.97 L173.20,360.94 L173.70,359.84 L174.20,358.69 L174.70,357.50 L175.20,356.27 L175.70,355.02 L176.20,353.76 L176.70,352.51 L177.20,351.28 L177.70,350.10 L178.20,348.99 L178.70,347.96 L179.20,347.04 L179.70,346.25 L180.20,345.61 L180.70,345.12 L181.20,344.81 L181.70,344.68 L182.20,344.72 L182.70,344.93 L183.20,345.30 L183.70,345.82 L184.20,346.46 L184.70,347.20 L185.20,348.03 L185.70,348.92 L186.20,349.85 L186.70,350.80 L187.20,351.76 L187.70,352.71 L188.20,353.63 L188.70,354.52 L189.20,355.37 L189.70,356.16 L190.20,356.89 L190.70,357.56 L191.20,358.16 L191.70,358.70 L192.20,359.17 L192.70,359.58 L193.20,359.93 L193.70,360.22 L194.20,360.46 L194.70,360.65 L195.20,360.79 L195.70,360.89 L196.20,360.95 L196.70,360.99 L197.20,361.00 L197.70,360.98 L198.20,360.94 L198.70,360.89 L199.20,360.83 L199.70,360.75 L200.20,360.66 L200.70,360.57 L201.20,360.47 L201.70,360.37 L202.20,360.26 L202.70,360.15 L203.20,360.04 L203.70,359.93 L204.20,359.81 L204.20,360.18 L203.70,360.31 L203.20,360.45 L202.70,360.58 L202.20,360.72 L201.70,360.85 L201.20,360.99 L200.70,361.13 L200.20,361.27 L199.70,361.41 L199.20,361.55 L198.70,361.69 L198.20,361.83 L197.70,361.98 L197.20,362.12 L196.70,362.26 L196.20,362.41 L195.70,362.55 L195.20,362.69 L194.70,362.83 L194.20,362.98 L193.70,363.12 L193.20,363.26 L192.70,363.40 L192.20,363.54 L191.70,363.68 L191.20,363.82 L190.70,363.97 L190.20,364.11 L189.70,364.26 L189.20,364.40 L188.70,364.55 L188.20,364.69 L187.70,364.84 L187.20,364.99 L186.70,365.14 L186.20,365.29 L185.70,365.44 L185.20,365.59 L184.70,365.74 L184.20,365.89 L183.70,366.04 L183.20,366.19 L182.70,366.34 L182.20,366.49 L181.70,366.65 L181.20,366.80 L180.70,366.95 L180.20,367.10 L179.70,367.26 L179.20,367.41 L178.70,367.56 L178.20,367.71 L177.70,367.86 L177.20,368.02 L176.70,368.17 L176.20,368.32 L175.70,368.47 L175.20,368.62 L174.70,368.77 L174.20,368.92 L173.70,369.07 L173.20,369.22 L172.70,369.36 L172.20,369.51 L171.70,369.65 L171.20,369.79 L170.70,369.93 L170.20,370.06 L169.70,370.20 L169.20,370.33 L168.70,370.47 L168.20,370.60 L167.70,370.73 L167.20,370.86 L166.70,371.00 L166.20,371.13 L165.70,371.26 L165.20,371.39 L164.70,371.53 L164.20,371.66 L163.70,371.80 L163.20,371.94 L162.70,372.08 L162.20,372.22 L161.70,372.36 L161.20,372.51 L160.70,372.66 L160.20,372.81 L159.70,372.96 L159.20,373.12 L158.70,373.28 L158.20,373.45 Z" fill="#fd6c6c"/>
<path d="M64.00,403.97 L65.00,403.10 L66.00,402.24 L67.00,401.39 L68.00,400.57 L69.00,399.77 L70.00,399.45 L71.00,399.16 L72.00,398.92 L73.00,398.72 L74.00,398.56 L75.00,398.44 L76.00,398.35 L77.00,398.29 L78.00,398.26 L79.00,398.23 L80.00,398.22 L81.00,398.21 L82.00,398.19 L83.00,398.16 L84.00,398.11 L85.00,398.05 L86.00,397.96 L87.00,397.84 L88.00,397.69 L89.00,397.52 L90.00,397.32 L91.00,397.10 L92.00,396.87 L93.00,396.64 L94.00,396.39 L95.00,396.14 L96.00,395.88 L97.00,395.62 L98.00,395.36 L99.00,395.08 L100.00,394.81 L101.00,394.53 L102.00,394.24 L103.00,393.96 L104.00,393.67 L105.00,393.37 L106.00,393.07 L107.00,392.77 L108.00,392.47 L109.00,392.16 L110.00,391.85 L111.00,391.54 L112.00,391.22 L113.00,390.91 L114.00,390.58 L115.00,390.26 L116.00,389.93 L117.00,389.60 L118.00,389.26 L119.00,388.92 L120.00,388.57 L121.00,388.21 L122.00,387.84 L123.00,387.47 L124.00,387.09 L125.00,386.70 L126.00,386.30 L127.00,385.90 L128.00,385.48 L129.00,385.06 L130.00,384.64 L131.00,384.20 L132.00,383.76 L133.00,383.32 L134.00,382.87 L135.00,382.43 L136.00,381.97 L137.00,381.50 L138.00,381.01 L139.00,380.50 L140.00,379.98 L141.00,379.45 L142.00,378.92 L143.00,378.37 L144.00,377.83 L145.00,377.28 L146.00,376.74 L147.00,376.20 L148.00,375.67 L149.00,375.15 L150.00,374.65 L151.00,374.15 L152.00,373.68 L153.00,373.23 L154.00,372.80 L155.00,372.40 L156.00,372.02 L157.00,371.66 L158.00,371.32 L159.00,370.99 L160.00,370.67 L161.00,370.37 L162.00,370.08 L163.00,369.79 L164.00,369.52 L165.00,369.25 L166.00,368.98 L167.00,368.72 L168.00,368.45 L169.00,368.19 L170.00,367.92 L171.00,367.64 L172.00,367.36 L173.00,367.08 L174.00,366.78 L175.00,366.48 L176.00,366.18 L177.00,365.88 L178.00,365.57 L179.00,365.27 L180.00,364.96 L181.00,364.66 L182.00,364.36 L183.00,364.05 L184.00,363.75 L185.00,363.45 L186.00,363.15 L187.00,362.85 L188.00,362.55 L189.00,362.26 L190.00,361.97 L191.00,362.12 L192.00,362.28 L193.00,362.44 L194.00,362.59 L195.00,362.75 L195.00,362.75 L194.00,363.03 L193.00,363.32 L192.00,363.60 L191.00,363.88 L190.00,364.17 L189.00,364.46 L188.00,364.75 L187.00,365.05 L186.00,365.35 L185.00,365.65 L184.00,365.95 L183.00,366.25 L182.00,366.56 L181.00,366.86 L180.00,367.16 L179.00,367.47 L178.00,367.77 L177.00,368.08 L176.00,368.38 L175.00,368.68 L174.00,368.98 L173.00,369.28 L172.00,369.56 L171.00,369.84 L170.00,370.12 L169.00,370.39 L168.00,370.65 L167.00,370.92 L166.00,371.18 L165.00,371.45 L164.00,371.72 L163.00,371.99 L162.00,372.28 L161.00,372.57 L160.00,372.87 L159.00,373.19 L158.00,373.52 L157.00,373.86 L156.00,374.22 L155.00,374.60 L154.00,375.00 L153.00,375.43 L152.00,375.88 L151.00,376.35 L150.00,376.85 L149.00,377.35 L148.00,377.87 L147.00,378.40 L146.00,378.94 L145.00,379.48 L144.00,380.03 L143.00,380.57 L142.00,381.12 L141.00,381.65 L140.00,382.18 L139.00,382.70 L138.00,383.21 L137.00,383.70 L136.00,384.17 L135.00,384.63 L134.00,385.07 L133.00,385.52 L132.00,385.96 L131.00,386.40 L130.00,386.84 L129.00,387.26 L128.00,387.68 L127.00,388.10 L126.00,388.50 L125.00,388.90 L124.00,389.29 L123.00,389.67 L122.00,390.04 L121.00,390.41 L120.00,390.77 L119.00,391.12 L118.00,391.46 L117.00,391.80 L116.00,392.13 L115.00,392.46 L114.00,392.78 L113.00,393.11 L112.00,393.42 L111.00,393.74 L110.00,394.05 L109.00,394.36 L108.00,394.67 L107.00,394.97 L106.00,395.27 L105.00,395.57 L104.00,395.87 L103.00,396.16 L102.00,396.44 L101.00,396.73 L100.00,397.01 L99.00,397.28 L98.00,397.56 L97.00,397.82 L96.00,398.08 L95.00,398.34 L94.00,398.59 L93.00,398.84 L92.00,399.07 L91.00,399.30 L90.00,399.52 L89.00,399.72 L88.00,399.89 L87.00,400.04 L86.00,400.16 L85.00,400.25 L84.00,400.31 L83.00,400.36 L82.00,400.39 L81.00,400.41 L80.00,400.42 L79.00,400.43 L78.00,400.46 L77.00,400.49 L76.00,400.55 L75.00,400.64 L74.00,400.76 L73.00,400.92 L72.00,401.12 L71.00,401.36 L70.00,401.65 L69.00,401.97 L68.00,402.33 L67.00,402.71 L66.00,403.12 L65.00,403.54 L64.00,403.97 Z" fill="#fd6c6c"/>
<path d="M50.00,410.87 L51.00,410.37 L52.00,409.87 L53.00,409.36 L54.00,408.85 L55.00,408.33 L56.00,407.82 L57.00,407.32 L58.00,406.82 L59.00,406.32 L60.00,405.84 L61.00,405.36 L62.00,404.88 L63.00,404.42 L64.00,403.97 L65.00,403.54 L66.00,403.12 L67.00,402.71 L68.00,402.33 L69.00,401.97 L70.00,401.65 L71.00,401.36 L72.00,401.12 L73.00,400.92 L74.00,400.76 L75.00,400.64 L76.00,400.55 L77.00,400.49 L78.00,400.46 L79.00,400.43 L80.00,400.42 L81.00,400.41 L82.00,400.39 L83.00,400.36 L84.00,400.31 L85.00,400.25 L86.00,400.16 L87.00,400.04 L88.00,399.89 L89.00,399.72 L90.00,399.52 L91.00,399.30 L92.00,399.07 L93.00,398.84 L94.00,398.59 L95.00,398.34 L96.00,398.08 L97.00,397.82 L98.00,397.56 L99.00,397.28 L100.00,397.01 L101.00,396.73 L102.00,396.44 L103.00,396.16 L104.00,395.87 L105.00,395.57 L106.00,395.27 L107.00,394.97 L108.00,394.67 L109.00,394.36 L110.00,394.05 L111.00,393.74 L112.00,393.42 L113.00,393.11 L114.00,392.78 L115.00,392.46 L116.00,392.13 L117.00,391.80 L118.00,391.46 L119.00,391.12 L120.00,390.77 L121.00,390.41 L122.00,390.04 L123.00,389.67 L124.00,389.29 L125.00,388.90 L126.00,388.50 L127.00,388.10 L128.00,387.68 L129.00,387.26 L130.00,386.84 L131.00,386.40 L132.00,385.96 L133.00,385.52 L134.00,385.07 L135.00,384.63 L136.00,384.17 L137.00,383.70 L138.00,383.21 L139.00,382.70 L140.00,382.18 L141.00,381.65 L142.00,381.12 L143.00,380.57 L144.00,380.03 L145.00,379.48 L146.00,378.94 L147.00,378.40 L148.00,377.87 L149.00,377.35 L150.00,376.85 L151.00,376.35 L152.00,375.88 L153.00,375.43 L154.00,375.00 L155.00,374.60 L156.00,374.22 L157.00,373.86 L158.00,373.52 L159.00,373.19 L160.00,372.87 L161.00,372.57 L162.00,372.28 L163.00,371.99 L164.00,371.72 L165.00,371.45 L166.00,371.18 L167.00,370.92 L168.00,370.65 L169.00,370.39 L170.00,370.12 L171.00,369.84 L172.00,369.56 L173.00,369.28 L174.00,368.98 L175.00,368.68 L176.00,368.38 L177.00,368.08 L178.00,367.77 L179.00,367.47 L180.00,367.16 L181.00,366.86 L182.00,366.56 L183.00,366.25 L184.00,365.95 L185.00,365.65 L186.00,365.35 L187.00,365.05 L188.00,364.75 L189.00,364.46 L190.00,364.17 L191.00,363.88 L192.00,363.60 L193.00,363.32 L194.00,363.03 L195.00,362.75 L196.00,362.46 L197.00,362.18 L198.00,361.89 L199.00,361.61 L200.00,361.32 L201.00,361.04 L202.00,360.77 L203.00,360.50 L204.00,360.24 L205.00,359.98 L206.00,359.73 L207.00,359.48 L208.00,359.24 L209.00,359.01 L210.00,358.79 L211.00,358.57 L212.00,358.36 L213.00,358.15 L214.00,357.96 L215.00,357.77 L216.00,357.58 L217.00,357.40 L218.00,357.22 L219.00,357.04 L220.00,356.86 L221.00,356.69 L222.00,356.52 L223.00,356.35 L224.00,356.18 L225.00,356.01 L226.00,355.84 L227.00,355.68 L228.00,355.51 L229.00,355.35 L230.00,355.19 L231.00,355.03 L232.00,354.86 L233.00,354.70 L234.00,354.54 L235.00,354.38 L236.00,354.22 L237.00,354.05 L238.00,353.89 L239.00,353.71 L240.00,353.54" fill="none" stroke="#a8a040" stroke-width="0.9"/>
<path d="M48.70,410.00 L49.38,409.67 L50.31,409.20 L51.41,408.66 L52.61,408.07 L53.84,407.51 L55.00,407.00 L55.99,406.61 L57.04,406.24 L58.11,405.88 L59.17,405.52 L60.20,405.18 L61.15,404.84 L62.00,404.50 L63.30,403.91 L64.44,403.33 L65.35,402.78 L66.00,402.30 L65.90,401.76 L66.02,401.00 L66.67,400.49 L67.60,399.87 L68.68,399.17 L69.81,398.43 L70.85,397.70 L71.70,397.00 L72.64,396.00 L73.39,395.00 L74.00,394.00 L74.56,393.00 L75.05,392.00 L75.45,391.00 L75.79,390.00 L76.12,389.00 L76.42,388.00 L76.69,387.00 L76.94,386.00 L77.18,385.00 L77.40,384.00 L77.61,383.00 L77.81,382.00 L78.00,381.00 L78.18,380.00 L78.35,379.00 L78.52,378.00 L78.67,377.00 L78.83,376.00 L78.98,375.00 L79.12,374.00 L79.26,373.00 L79.39,372.00 L79.52,371.00 L79.65,370.00 L79.77,369.00 L79.89,368.00 L80.01,367.00 L80.13,366.00 L80.24,365.00 L80.35,364.00 L80.46,363.00 L80.57,362.00 L80.67,361.00 L80.77,360.00 L80.87,359.00 L80.97,358.00 L81.07,357.00 L81.17,356.00 L81.26,355.00 L81.36,354.00 L81.45,353.00 L81.54,352.00 L81.63,351.00 L81.72,350.00 L81.81,349.00 L81.90,348.00 L81.99,347.00 L82.07,346.00 L82.16,345.00 L82.24,344.00 L82.33,343.00 L82.41,342.00 L82.49,341.00 L82.58,340.00 L82.66,339.00 L82.74,338.00 L82.82,337.00 L82.90,336.00 L82.98,335.00 L83.06,334.00 L83.14,333.00 L83.22,332.00 L83.30,331.00 L83.38,330.00 L83.46,329.00 L83.54,328.00 L83.62,327.00 L83.70,326.00 L83.77,325.00 L83.85,324.00 L83.93,323.00 L84.01,322.00 L84.09,321.00 L84.17,320.00 L84.25,319.00 L84.33,318.00 L84.41,317.00 L84.49,316.00 L84.57,315.00 L84.66,314.00 L84.74,313.00 L84.82,312.00 L84.91,311.00 L84.99,310.00 L85.08,309.00 L85.16,308.00 L85.25,307.00 L85.34,306.00 L85.43,305.00 L85.52,304.00 L85.62,303.00 L85.71,302.00 L85.81,301.00 L85.91,300.00 L86.01,299.00 L86.12,298.00 L86.23,297.00 L86.35,296.30 L86.49,295.81 L86.62,294.91 L86.71,293.00 L86.73,292.32 L86.74,291.54 L86.74,290.66 L86.74,289.70 L86.73,288.68 L86.73,287.60 L86.72,286.48 L86.72,285.33 L86.71,284.17 L86.70,283.01 L86.70,281.86 L86.71,280.74 L86.71,279.66 L86.72,278.63 L86.74,277.67 L86.77,276.79 L86.80,276.00 L86.90,274.55 L87.02,273.31 L87.17,272.23 L87.33,271.28 L87.50,270.42 L87.67,269.61 L87.84,268.82 L88.00,268.00 L88.24,266.69 L88.48,265.46 L88.71,264.34 L88.95,263.35 L89.20,262.50 L89.84,260.92 L90.50,260.30 L91.16,260.98 L91.80,262.50 L92.10,263.37 L92.39,264.36 L92.68,265.54 L93.00,267.00 L93.17,267.85 L93.36,268.77 L93.55,269.76 L93.74,270.81 L93.94,271.92 L94.13,273.07 L94.32,274.27 L94.50,275.50 L94.62,276.42 L94.74,277.37 L94.85,278.35 L94.96,279.36 L95.06,280.38 L95.17,281.43 L95.28,282.51 L95.40,283.60 L95.52,284.72 L95.66,285.85 L95.80,287.00 L95.92,287.91 L96.03,288.81 L96.14,289.71 L96.25,290.61 L96.36,291.53 L96.48,292.46 L96.60,293.41 L96.73,294.38 L96.87,295.38 L97.03,296.42 L97.19,297.49 L97.38,298.61 L97.58,299.78 L97.80,301.00 L97.96,301.85 L98.13,302.74 L98.32,303.67 L98.51,304.62 L98.72,305.60 L98.93,306.61 L99.14,307.63 L99.37,308.67 L99.60,309.73 L99.83,310.79 L100.06,311.85 L100.30,312.92 L100.53,313.98 L100.77,315.04 L101.00,316.09 L101.23,317.13 L101.46,318.15 L101.68,319.15 L101.89,320.13 L102.10,321.08 L102.30,322.00 L102.54,323.11 L102.78,324.23 L103.01,325.33 L103.24,326.43 L103.47,327.52 L103.69,328.60 L103.92,329.66 L104.13,330.71 L104.35,331.73 L104.57,332.74 L104.78,333.71 L104.99,334.66 L105.19,335.58 L105.40,336.47 L105.60,337.32 L105.80,338.13 L106.00,338.90 L106.36,340.23 L106.69,341.39 L107.01,342.42 L107.33,343.35 L107.64,344.21 L107.95,345.02 L108.28,345.82 L108.63,346.64 L109.00,347.50 L109.46,348.52 L109.94,349.54 L110.45,350.56 L110.97,351.56 L111.49,352.51 L112.01,353.42 L112.52,354.25 L113.00,355.00 L113.76,356.02 L114.51,356.85 L115.23,357.55 L115.90,358.15 L116.50,358.70 L117.38,359.74 L118.50,360.40 L119.31,360.61 L120.24,360.78 L121.32,360.90 L122.57,360.97 L124.00,361.00 L124.91,360.97 L125.92,360.91 L127.01,360.81 L128.15,360.69 L129.32,360.58 L130.49,360.48 L131.65,360.41 L132.76,360.38 L133.80,360.40 L134.90,360.49 L135.97,360.61 L137.00,360.78 L138.01,360.97 L139.01,361.20 L140.00,361.45 L141.00,361.72 L142.00,362.00 L143.03,362.31 L144.07,362.67 L145.12,363.07 L146.16,363.48 L147.18,363.89 L148.17,364.29 L149.12,364.66 L150.00,365.00 L151.32,365.61 L152.54,366.30 L153.67,366.90 L154.69,367.19 L155.60,367.00 L156.15,366.59 L156.61,366.03 L157.00,365.31 L157.36,364.38 L157.71,363.21 L158.08,361.76 L158.50,360.00 L158.66,359.29 L158.82,358.51 L158.99,357.67 L159.15,356.77 L159.32,355.82 L159.49,354.83 L159.66,353.80 L159.83,352.74 L160.01,351.66 L160.18,350.56 L160.36,349.45 L160.54,348.34 L160.71,347.22 L160.89,346.12 L161.08,345.02 L161.26,343.95 L161.44,342.91 L161.63,341.90 L161.81,340.93 L162.00,340.00 L162.24,338.87 L162.49,337.75 L162.74,336.62 L163.00,335.51 L163.26,334.40 L163.52,333.31 L163.79,332.24 L164.06,331.19 L164.32,330.16 L164.58,329.17 L164.84,328.20 L165.09,327.27 L165.33,326.39 L165.56,325.54 L165.79,324.75 L166.00,324.00 L166.44,322.50 L166.84,321.24 L167.20,320.19 L167.55,319.29 L167.88,318.49 L168.23,317.74 L168.60,317.00 L169.29,315.70 L169.99,314.55 L170.70,313.73 L171.40,313.40 L172.11,313.72 L172.83,314.55 L173.54,315.66 L174.20,316.80 L174.67,317.63 L175.10,318.47 L175.52,319.42 L175.97,320.56 L176.50,322.00 L176.77,322.80 L177.06,323.71 L177.35,324.70 L177.66,325.76 L177.98,326.86 L178.31,327.98 L178.64,329.09 L178.98,330.17 L179.32,331.20 L179.66,332.15 L180.00,333.00 L180.55,334.16 L181.11,335.19 L181.68,336.10 L182.26,336.95 L182.84,337.77 L183.42,338.61 L184.00,339.50 L184.57,340.43 L185.14,341.37 L185.71,342.31 L186.29,343.25 L186.86,344.18 L187.43,345.10 L188.00,346.00 L188.59,346.91 L189.19,347.84 L189.80,348.76 L190.40,349.66 L190.98,350.52 L191.52,351.30 L192.00,352.00 L192.77,353.41 L193.34,354.48 L194.30,355.00 L195.03,354.97 L195.86,354.74 L196.79,354.38 L197.80,353.93 L198.88,353.45 L200.00,353.00 L200.88,352.66 L201.80,352.29 L202.76,351.88 L203.76,351.47 L204.78,351.06 L205.83,350.67 L206.91,350.31 L208.00,350.00 L209.00,349.75 L210.05,349.52 L211.13,349.30 L212.22,349.09 L213.33,348.91 L214.43,348.76 L215.52,348.64 L216.58,348.55 L217.60,348.50 L218.70,348.50 L219.75,348.56 L220.78,348.67 L221.79,348.81 L222.81,348.98 L223.84,349.16 L224.90,349.33 L226.00,349.50 L227.04,349.64 L228.13,349.79 L229.26,349.94 L230.41,350.10 L231.55,350.27 L232.67,350.44 L233.75,350.62 L234.76,350.81 L235.70,351.00 L236.96,351.29 L238.10,351.59 L239.14,351.91 L240.12,352.24 L241.06,352.60 L242.00,353.00 L243.12,353.63 L244.21,354.42 L245.24,355.18 L246.18,355.77 L247.00,356.00 L248.11,355.33 L248.94,354.00 L249.50,353.00" fill="none" stroke="#cfca8c" stroke-width="1.7" stroke-linejoin="round"/>
<path d="M48.70,408.73 L49.38,408.66 L50.31,408.93 L51.41,409.13 L52.61,407.13 L53.84,406.50 L55.00,406.30 L55.99,407.28 L57.04,405.32 L58.11,406.50 L59.17,405.95 L60.20,404.23 L61.15,404.93 L62.00,404.36 L63.30,403.68 L64.44,404.62 L65.35,401.72 L66.00,401.05 L65.90,402.91 L66.02,400.75 L66.67,399.71 L67.60,399.43 L68.68,398.82 L69.81,399.62 L70.85,397.52 L71.70,396.83 L72.64,396.05 L73.39,395.03 L74.00,394.27 L74.56,393.20 L75.05,391.91 L75.45,390.82 L75.79,390.20 L76.12,389.29 L76.42,387.72 L76.69,387.14 L76.94,386.22 L77.18,385.09 L77.40,383.83 L77.61,383.18 L77.81,382.14 L78.00,380.82 L78.18,380.08 L78.35,378.83 L78.52,377.72 L78.67,376.90 L78.83,375.90 L78.98,374.94 L79.12,374.09 L79.26,373.20 L79.39,372.28 L79.52,371.29 L79.65,370.30 L79.77,369.17 L79.89,367.88 L80.01,366.81 L80.13,366.07 L80.24,365.03 L80.35,364.10 L80.46,362.76 L80.57,361.82 L80.67,361.25 L80.77,360.06 L80.87,359.12 L80.97,357.76 L81.07,356.94 L81.17,356.25 L81.26,355.09 L81.36,354.29 L81.45,352.82 L81.54,351.97 L81.63,351.18 L81.72,349.97 L81.81,349.17 L81.90,348.04 L81.99,346.77 L82.07,345.76 L82.16,345.29 L82.24,343.77 L82.33,342.82 L82.41,341.90 L82.49,341.13 L82.58,340.21 L82.66,338.99 L82.74,338.00 L82.82,337.17 L82.90,335.87 L82.98,334.92 L83.06,334.07 L83.14,333.08 L83.22,331.72 L83.30,330.77 L83.38,329.78 L83.46,329.14 L83.54,328.12 L83.62,327.28 L83.70,326.16 L83.77,324.85 L83.85,324.16 L83.93,323.29 L84.01,321.91 L84.09,320.71 L84.17,319.93 L84.25,318.87 L84.33,317.81 L84.41,316.73 L84.49,315.77 L84.57,315.22 L84.66,313.73 L84.74,313.07 L84.82,311.82 L84.91,310.82 L84.99,310.19 L85.08,308.88 L85.16,307.81 L85.25,306.97 L85.34,306.12 L85.43,305.01 L85.52,304.22 L85.62,302.94 L85.71,302.01 L85.81,301.13 L85.91,299.98 L86.01,299.13 L86.12,297.98 L86.23,296.78 L86.35,296.08 L86.49,295.98 L86.62,295.06 L86.71,293.27 L86.73,292.43 L86.73,291.57 L86.74,290.41 L86.73,289.84 L86.73,288.34 L86.72,287.40 L86.71,286.08 L86.70,285.04 L86.70,283.81 L86.69,282.70 L86.69,281.71 L86.69,280.49 L86.70,279.25 L86.71,278.57 L86.73,277.64 L86.76,276.89 L86.80,275.72 L87.06,274.06 L87.44,273.19 L87.84,272.22 L88.20,271.52 L88.79,270.31 L89.30,268.92 L89.71,268.38 L90.10,268.49 L90.51,268.29 L91.00,268.82 L91.33,269.53 L91.69,270.51 L92.09,271.83 L92.50,272.92 L92.74,273.99 L93.00,274.46 L93.27,275.53 L93.53,276.78 L93.80,277.75 L94.06,278.87 L94.30,280.26 L94.48,280.76 L94.64,281.62 L94.80,282.46 L94.96,283.69 L95.12,284.56 L95.27,285.69 L95.44,286.46 L95.61,287.56 L95.80,288.93 L95.94,290.02 L96.08,290.60 L96.21,291.83 L96.34,292.49 L96.47,293.27 L96.61,294.42 L96.76,295.05 L96.93,296.29 L97.11,297.50 L97.32,298.47 L97.54,299.57 L97.80,300.76 L97.96,301.85 L98.13,302.48 L98.32,303.49 L98.51,304.52 L98.72,305.73 L98.93,306.57 L99.14,307.50 L99.37,308.74 L99.60,309.47 L99.83,310.59 L100.06,311.84 L100.30,312.85 L100.53,313.73 L100.77,314.92 L101.00,316.23 L101.23,316.93 L101.46,318.25 L101.68,318.87 L101.89,320.40 L102.10,321.19 L102.30,321.89 L102.54,323.40 L102.78,324.40 L103.01,325.07 L103.24,326.28 L103.47,327.52 L103.69,328.90 L103.92,329.45 L104.13,330.44 L104.35,331.62 L104.57,332.46 L104.78,333.66 L104.99,334.69 L105.19,335.55 L105.40,336.25 L105.60,337.03 L105.80,338.31 L106.00,338.86 L106.36,340.21 L106.69,341.38 L107.01,342.53 L107.33,343.59 L107.64,344.40 L107.95,345.16 L108.28,345.73 L108.63,346.44 L109.00,347.25 L109.46,348.73 L109.94,349.28 L110.45,350.60 L110.97,351.80 L111.49,352.41 L112.01,353.13 L112.52,354.04 L113.00,356.16 L113.76,356.49 L114.51,357.73 L115.23,356.35 L115.90,358.75 L116.50,358.57 L117.38,359.49 L118.50,361.22 L119.31,361.22 L120.24,361.84 L121.32,361.52 L122.57,362.04 L124.00,360.81 L124.91,361.12 L125.92,361.65 L127.01,360.69 L128.15,359.75 L129.32,360.80 L130.49,361.45 L131.65,361.37 L132.76,359.40 L133.80,360.09 L134.90,359.78 L135.97,360.20 L137.00,361.97 L138.01,360.77 L139.01,360.72 L140.00,360.86 L141.00,361.56 L142.00,362.44 L143.03,361.91 L144.07,361.86 L145.12,362.35 L146.16,362.85 L147.18,364.94 L148.17,363.43 L149.12,365.32 L150.00,363.98 L151.32,366.35 L152.54,365.70 L153.67,367.62 L154.69,367.02 L155.60,365.90 L156.15,365.53 L156.61,366.81 L157.00,365.42 L157.36,364.35 L157.71,362.83 L158.08,361.88 L158.50,359.99 L158.66,359.03 L158.82,358.57 L158.99,357.55 L159.15,356.98 L159.32,355.85 L159.49,354.99 L159.66,353.57 L159.83,352.87 L160.01,351.73 L160.18,350.77 L160.36,349.68 L160.54,348.37 L160.71,347.28 L160.89,346.28 L161.08,344.88 L161.26,343.98 L161.44,343.08 L161.63,341.95 L161.81,340.95 L162.00,340.21 L162.24,339.16 L162.49,337.59 L162.74,336.34 L163.00,335.53 L163.27,334.12 L163.53,333.51 L163.80,332.12 L164.07,331.08 L164.33,330.21 L164.60,329.24 L164.85,327.84 L165.10,327.10 L165.34,326.07 L165.57,325.42 L165.79,324.47 L166.00,324.23 L166.58,322.16 L167.08,321.00 L167.52,320.50 L167.95,319.83 L168.40,318.90 L169.19,317.93 L169.97,317.28 L170.80,316.71 L171.70,317.04 L172.64,318.29 L173.60,318.80 L174.30,319.62 L175.01,320.09 L175.73,320.72 L176.50,321.91 L176.79,322.93 L177.09,323.75 L177.40,324.29 L177.71,325.84 L178.02,326.79 L178.34,327.73 L178.67,328.80 L178.99,329.87 L179.33,331.35 L179.66,332.35 L180.00,332.91 L180.55,333.97 L181.11,334.93 L181.68,336.05 L182.26,336.83 L182.84,337.51 L183.42,338.49 L184.00,339.69 L184.57,340.17 L185.14,341.31 L185.71,342.32 L186.29,343.05 L186.86,343.90 L187.43,344.84 L188.00,345.79 L188.59,347.19 L189.19,348.06 L189.80,348.89 L190.40,349.90 L190.98,350.41 L191.52,351.15 L192.00,352.22 L192.77,353.68 L193.34,355.58 L194.30,354.63 L195.03,354.74 L195.86,355.31 L196.79,355.37 L197.80,353.06 L198.88,352.83 L200.00,351.74 L200.88,352.82 L201.80,353.39 L202.76,352.06 L203.76,350.56 L204.78,351.56 L205.83,351.06 L206.91,349.28 L208.00,351.08 L209.00,350.17 L210.05,349.49 L211.13,348.89 L212.22,348.21 L213.33,348.83 L214.43,348.41 L215.52,347.94 L216.58,348.93 L217.60,348.92 L218.70,349.68 L219.75,349.78 L220.78,348.58 L221.79,349.37 L222.81,348.65 L223.84,348.98 L224.90,349.51 L226.00,350.75 L227.04,348.45 L228.13,349.69 L229.26,349.52 L230.41,350.90 L231.55,351.44 L232.67,350.37 L233.75,349.53 L234.76,351.05 L235.70,351.23 L236.96,351.76 L238.10,352.31 L239.14,351.81 L240.12,352.37 L241.06,353.30 L242.00,351.77 L243.12,352.96 L244.21,354.90 L245.24,356.43 L246.18,356.92 L247.00,355.43 L248.11,356.56 L248.94,353.43 L249.50,352.88" fill="none" stroke="#111" stroke-width="1.2" stroke-linejoin="round"/>
<circle cx="90.1" cy="268.6" r="1.5" fill="#111"/>
<circle cx="157" cy="367.5" r="1.4" fill="#111"/>
<path d="M301.2,434.6 V238.8 H544.1 V434.6 M301.9,436.7 H544.5" fill="none" stroke="#4a4a4a" stroke-width="1.45"/>
<line x1="314.7" y1="436.7" x2="314.7" y2="440.3" stroke="#4a4a4a" stroke-width="1.3"/>
<line x1="365.9" y1="436.7" x2="365.9" y2="440.3" stroke="#4a4a4a" stroke-width="1.3"/>
<line x1="417.1" y1="436.7" x2="417.1" y2="440.3" stroke="#4a4a4a" stroke-width="1.3"/>
<line x1="468.3" y1="436.7" x2="468.3" y2="440.3" stroke="#4a4a4a" stroke-width="1.3"/>
<line x1="519.5" y1="436.7" x2="519.5" y2="440.3" stroke="#4a4a4a" stroke-width="1.3"/>
<line x1="340.3" y1="436.7" x2="340.3" y2="438.9" stroke="#4a4a4a" stroke-width="1.2"/>
<line x1="391.5" y1="436.7" x2="391.5" y2="438.9" stroke="#4a4a4a" stroke-width="1.2"/>
<line x1="442.7" y1="436.7" x2="442.7" y2="438.9" stroke="#4a4a4a" stroke-width="1.2"/>
<line x1="493.9" y1="436.7" x2="493.9" y2="438.9" stroke="#4a4a4a" stroke-width="1.2"/>
<line x1="544.5" y1="436.7" x2="544.5" y2="438.9" stroke="#4a4a4a" stroke-width="1.2"/>
<path d="M385.00,388.17 L385.50,387.38 L386.00,386.59 L386.50,385.79 L387.00,384.99 L387.50,384.18 L388.00,383.38 L388.50,382.57 L389.00,381.76 L389.50,380.96 L390.00,380.16 L390.50,379.36 L391.00,378.57 L391.50,377.78 L392.00,377.00 L392.50,376.23 L393.00,375.47 L393.50,374.72 L394.00,373.98 L394.50,373.26 L395.00,372.55 L395.50,371.86 L396.00,371.18 L396.50,370.52 L397.00,369.88 L397.50,369.25 L398.00,368.63 L398.50,368.03 L399.00,367.45 L399.50,366.89 L400.00,366.34 L400.50,365.81 L401.00,365.31 L401.50,364.82 L402.00,364.36 L402.50,363.92 L403.00,363.50 L403.50,363.10 L404.00,362.73 L404.50,362.38 L405.00,362.05 L405.50,361.76 L406.00,361.52 L406.50,361.32 L407.00,361.17 L407.50,361.07 L408.00,361.01 L408.50,361.00 L409.00,361.03 L409.50,361.10 L410.00,361.21 L410.50,361.36 L411.00,361.55 L411.50,361.78 L412.00,362.03 L412.50,362.32 L413.00,362.64 L413.50,362.99 L414.00,363.36 L414.50,363.76 L415.00,364.17 L415.50,364.61 L416.00,365.05 L416.50,365.51 L417.00,365.98 L417.50,366.45 L418.00,366.93 L418.50,367.41 L419.00,367.89 L419.50,368.36 L420.00,368.83 L420.50,369.29 L421.00,369.75 L421.50,370.19 L422.00,370.63 L422.50,371.05 L423.00,371.45 L423.50,371.84 L424.00,372.22 L424.50,372.57 L425.00,372.91 L425.50,373.23 L426.00,373.54 L426.50,373.82 L427.00,374.08 L427.50,374.32 L428.00,374.55 L428.50,374.75 L429.00,374.94 L429.50,375.10 L430.00,375.24 L430.50,375.37 L431.00,375.48 L431.50,375.57 L432.00,375.64 L432.50,375.70 L433.00,375.74 L433.50,375.76 L434.00,375.77 L434.50,375.76 L435.00,375.74 L435.50,375.71 L436.00,375.67 L436.50,375.62 L437.00,375.55 L437.50,375.48 L438.00,375.40 L438.50,375.31 L439.00,375.21 L439.50,375.10 L440.00,374.99 L440.50,374.87 L441.00,374.75 L441.50,374.62 L442.00,374.48 L442.50,374.34 L443.00,374.20 L443.50,374.05 L444.00,373.89 L444.50,373.74 L445.00,373.58 L445.00,373.86 L444.50,374.05 L444.00,374.25 L443.50,374.44 L443.00,374.64 L442.50,374.84 L442.00,375.04 L441.50,375.24 L441.00,375.44 L440.50,375.64 L440.00,375.85 L439.50,376.05 L439.00,376.26 L438.50,376.47 L438.00,376.68 L437.50,376.89 L437.00,377.10 L436.50,377.32 L436.00,377.53 L435.50,377.75 L435.00,377.98 L434.50,378.20 L434.00,378.43 L433.50,378.65 L433.00,378.88 L432.50,379.11 L432.00,379.34 L431.50,379.58 L431.00,379.81 L430.50,380.04 L430.00,380.28 L429.50,380.52 L429.00,380.76 L428.50,381.00 L428.00,381.24 L427.50,381.48 L427.00,381.72 L426.50,381.97 L426.00,382.22 L425.50,382.46 L425.00,382.71 L424.50,382.96 L424.00,383.21 L423.50,383.47 L423.00,383.72 L422.50,383.98 L422.00,384.23 L421.50,384.49 L421.00,384.75 L420.50,385.01 L420.00,385.28 L419.50,385.54 L419.00,385.81 L418.50,386.07 L418.00,386.34 L417.50,386.61 L417.00,386.88 L416.50,387.15 L416.00,387.43 L415.50,387.70 L415.00,387.98 L414.50,388.26 L414.00,388.54 L413.50,388.83 L413.00,389.12 L412.50,389.42 L412.00,389.72 L411.50,390.02 L411.00,390.32 L410.50,390.62 L410.00,390.93 L409.50,391.24 L409.00,391.55 L408.50,391.86 L408.00,392.17 L407.50,392.48 L407.00,392.79 L406.50,393.11 L406.00,393.42 L405.50,393.74 L405.00,394.05 L404.50,394.36 L404.00,394.68 L403.50,394.99 L403.00,395.30 L402.50,395.61 L402.00,395.92 L401.50,396.22 L401.00,396.53 L400.50,396.83 L400.00,397.13 L399.50,397.43 L399.00,397.72 L398.50,398.01 L398.00,398.30 L397.50,398.59 L397.00,398.87 L396.50,399.14 L396.00,399.42 L395.50,399.70 L395.00,399.98 L394.50,400.25 L394.00,400.53 L393.50,400.81 L393.00,401.09 L392.50,401.38 L392.00,401.66 L391.50,401.94 L391.00,402.21 L390.50,402.49 L390.00,402.77 L389.50,403.05 L389.00,403.32 L388.50,403.59 L388.00,403.86 L387.50,404.13 L387.00,404.40 L386.50,404.66 L386.00,404.92 L385.50,405.17 L385.00,405.43 Z" fill="#ffa660"/>
<path d="M460.00,365.11 L460.50,364.75 L461.00,364.39 L461.50,364.02 L462.00,363.64 L462.50,363.26 L463.00,362.88 L463.50,362.48 L464.00,362.09 L464.50,361.69 L465.00,361.28 L465.50,360.87 L466.00,360.46 L466.50,360.04 L467.00,359.62 L467.50,359.19 L468.00,358.77 L468.50,358.34 L469.00,357.90 L469.50,357.47 L470.00,357.03 L470.50,356.60 L471.00,356.16 L471.50,355.72 L472.00,355.28 L472.50,354.84 L473.00,354.41 L473.50,353.97 L474.00,353.54 L474.50,353.10 L475.00,352.67 L475.50,352.23 L476.00,351.81 L476.50,351.38 L477.00,350.96 L477.50,350.54 L478.00,350.13 L478.50,349.73 L479.00,349.33 L479.50,348.94 L480.00,348.56 L480.50,348.19 L481.00,347.83 L481.50,347.48 L482.00,347.14 L482.50,346.82 L483.00,346.50 L483.50,346.20 L484.00,345.91 L484.50,345.64 L485.00,345.38 L485.50,345.13 L486.00,344.90 L486.50,344.68 L487.00,344.48 L487.50,344.30 L488.00,344.13 L488.50,343.98 L489.00,343.86 L489.50,343.76 L490.00,343.69 L490.50,343.64 L491.00,343.62 L491.50,343.62 L492.00,343.65 L492.50,343.70 L493.00,343.77 L493.50,343.86 L494.00,343.97 L494.50,344.10 L495.00,344.24 L495.50,344.40 L496.00,344.57 L496.50,344.76 L497.00,344.95 L497.50,345.16 L498.00,345.37 L498.50,345.59 L499.00,345.81 L499.50,346.04 L500.00,346.27 L500.50,346.50 L501.00,346.73 L501.50,346.96 L502.00,347.19 L502.50,347.41 L503.00,347.63 L503.50,347.85 L504.00,348.06 L504.50,348.26 L505.00,348.45 L505.50,348.64 L506.00,348.82 L506.50,348.99 L507.00,349.15 L507.50,349.30 L508.00,349.44 L508.50,349.58 L509.00,349.70 L509.50,349.81 L510.00,349.92 L510.50,350.01 L511.00,350.09 L511.50,350.17 L512.00,350.23 L512.50,350.29 L513.00,350.33 L513.50,350.37 L514.00,350.39 L514.50,350.40 L515.00,350.41 L515.50,350.40 L516.00,350.39 L516.00,351.25 L515.50,351.34 L515.00,351.44 L514.50,351.54 L514.00,351.63 L513.50,351.72 L513.00,351.81 L512.50,351.90 L512.00,351.99 L511.50,352.08 L511.00,352.16 L510.50,352.25 L510.00,352.34 L509.50,352.43 L509.00,352.51 L508.50,352.60 L508.00,352.69 L507.50,352.77 L507.00,352.86 L506.50,352.95 L506.00,353.04 L505.50,353.13 L505.00,353.22 L504.50,353.31 L504.00,353.40 L503.50,353.49 L503.00,353.58 L502.50,353.68 L502.00,353.77 L501.50,353.87 L501.00,353.96 L500.50,354.06 L500.00,354.16 L499.50,354.25 L499.00,354.35 L498.50,354.46 L498.00,354.56 L497.50,354.66 L497.00,354.77 L496.50,354.88 L496.00,354.98 L495.50,355.10 L495.00,355.21 L494.50,355.32 L494.00,355.44 L493.50,355.56 L493.00,355.69 L492.50,355.81 L492.00,355.95 L491.50,356.08 L491.00,356.22 L490.50,356.36 L490.00,356.51 L489.50,356.66 L489.00,356.81 L488.50,356.97 L488.00,357.13 L487.50,357.29 L487.00,357.46 L486.50,357.63 L486.00,357.80 L485.50,357.97 L485.00,358.15 L484.50,358.33 L484.00,358.51 L483.50,358.70 L483.00,358.88 L482.50,359.07 L482.00,359.26 L481.50,359.45 L481.00,359.65 L480.50,359.84 L480.00,360.04 L479.50,360.23 L479.00,360.43 L478.50,360.63 L478.00,360.83 L477.50,361.02 L477.00,361.22 L476.50,361.42 L476.00,361.62 L475.50,361.82 L475.00,362.01 L474.50,362.21 L474.00,362.40 L473.50,362.59 L473.00,362.79 L472.50,362.98 L472.00,363.17 L471.50,363.36 L471.00,363.55 L470.50,363.74 L470.00,363.94 L469.50,364.13 L469.00,364.33 L468.50,364.52 L468.00,364.72 L467.50,364.92 L467.00,365.11 L466.50,365.31 L466.00,365.51 L465.50,365.71 L465.00,365.91 L464.50,366.11 L464.00,366.31 L463.50,366.51 L463.00,366.71 L462.50,366.91 L462.00,367.11 L461.50,367.31 L461.00,367.52 L460.50,367.72 L460.00,367.92 Z" fill="#76eb00"/>
<path d="M338.00,409.74 L338.50,409.46 L339.00,409.16 L339.50,408.85 L340.00,408.52 L340.50,408.17 L341.00,407.80 L341.50,407.39 L342.00,406.96 L342.50,406.49 L343.00,405.98 L343.50,405.43 L344.00,404.81 L344.50,404.14 L345.00,403.39 L345.50,402.57 L346.00,401.65 L346.50,400.64 L347.00,399.51 L347.50,398.25 L348.00,396.85 L348.50,395.30 L349.00,393.58 L349.50,391.68 L350.00,389.58 L350.50,387.28 L351.00,384.75 L351.50,381.99 L352.00,378.99 L352.50,375.75 L353.00,372.26 L353.50,368.52 L354.00,364.54 L354.50,360.32 L355.00,355.88 L355.50,351.23 L356.00,346.41 L356.50,341.43 L357.00,336.33 L357.50,331.15 L358.00,325.94 L358.50,320.74 L359.00,315.63 L359.50,310.67 L360.00,305.93 L360.50,301.48 L361.00,297.40 L361.50,293.76 L362.00,290.65 L362.50,288.14 L363.00,286.28 L363.50,285.12 L364.00,284.70 L364.50,285.07 L365.00,286.30 L365.50,288.33 L366.00,291.11 L366.50,294.54 L367.00,298.56 L367.50,303.04 L368.00,307.90 L368.50,313.04 L369.00,318.38 L369.50,323.82 L370.00,329.30 L370.50,334.74 L371.00,340.10 L371.50,345.31 L372.00,350.35 L372.50,355.17 L373.00,359.75 L373.50,364.06 L374.00,368.09 L374.50,371.84 L375.00,375.30 L375.50,378.46 L376.00,381.34 L376.50,383.94 L377.00,386.27 L377.50,388.35 L378.00,390.19 L378.50,391.81 L379.00,393.22 L379.50,394.44 L380.00,395.49 L380.50,396.39 L381.00,397.14 L381.50,397.78 L382.00,398.30 L382.50,398.73 L383.00,399.07 L383.50,399.34 L384.00,399.54 L384.50,399.69 L385.00,399.79 L385.50,399.85 L386.00,399.87 L386.50,399.86 L387.00,399.83 L387.50,399.77 L388.00,399.69 L388.50,399.59 L389.00,399.48 L389.50,399.35 L390.00,399.21 L390.00,402.77 L389.50,403.05 L389.00,403.32 L388.50,403.59 L388.00,403.86 L387.50,404.13 L387.00,404.40 L386.50,404.66 L386.00,404.92 L385.50,405.17 L385.00,405.43 L384.50,405.68 L384.00,405.92 L383.50,406.16 L383.00,406.40 L382.50,406.63 L382.00,406.86 L381.50,407.08 L381.00,407.29 L380.50,407.50 L380.00,407.71 L379.50,407.91 L379.00,408.10 L378.50,408.28 L378.00,408.46 L377.50,408.63 L377.00,408.80 L376.50,408.95 L376.00,409.10 L375.50,409.24 L375.00,409.38 L374.50,409.50 L374.00,409.63 L373.50,409.74 L373.00,409.85 L372.50,409.96 L372.00,410.06 L371.50,410.16 L371.00,410.25 L370.50,410.33 L370.00,410.42 L369.50,410.50 L369.00,410.57 L368.50,410.65 L368.00,410.72 L367.50,410.79 L367.00,410.85 L366.50,410.91 L366.00,410.97 L365.50,411.03 L365.00,411.09 L364.50,411.14 L364.00,411.20 L363.50,411.25 L363.00,411.30 L362.50,411.35 L362.00,411.40 L361.50,411.45 L361.00,411.50 L360.50,411.55 L360.00,411.60 L359.50,411.66 L359.00,411.71 L358.50,411.77 L358.00,411.82 L357.50,411.88 L357.00,411.92 L356.50,411.96 L356.00,412.00 L355.50,412.03 L355.00,412.05 L354.50,412.07 L354.00,412.08 L353.50,412.09 L353.00,412.10 L352.50,412.10 L352.00,412.10 L351.50,412.10 L351.00,412.10 L350.50,412.10 L350.00,412.11 L349.50,412.11 L349.00,412.13 L348.50,412.15 L348.00,412.17 L347.50,412.20 L347.00,412.24 L346.50,412.29 L346.00,412.34 L345.50,412.40 L345.00,412.47 L344.50,412.55 L344.00,412.63 L343.50,412.72 L343.00,412.81 L342.50,412.90 L342.00,413.00 L341.50,413.10 L341.00,413.21 L340.50,413.31 L340.00,413.42 L339.50,413.53 L339.00,413.64 L338.50,413.76 L338.00,413.87 Z" fill="#00f8f8"/>
<path d="M421.00,383.88 L421.50,383.57 L422.00,383.26 L422.50,382.94 L423.00,382.61 L423.50,382.28 L424.00,381.92 L424.50,381.56 L425.00,381.17 L425.50,380.75 L426.00,380.29 L426.50,379.80 L427.00,379.24 L427.50,378.63 L428.00,377.93 L428.50,377.14 L429.00,376.24 L429.50,375.21 L430.00,374.03 L430.50,372.70 L431.00,371.18 L431.50,369.47 L432.00,367.56 L432.50,365.43 L433.00,363.08 L433.50,360.51 L434.00,357.74 L434.50,354.78 L435.00,351.65 L435.50,348.40 L436.00,345.06 L436.50,341.69 L437.00,338.34 L437.50,335.09 L438.00,332.02 L438.50,329.19 L439.00,326.70 L439.50,324.61 L440.00,323.00 L440.50,321.93 L441.00,321.44 L441.50,321.53 L442.00,322.20 L442.50,323.40 L443.00,325.08 L443.50,327.17 L444.00,329.59 L444.50,332.26 L445.00,335.10 L445.50,338.03 L446.00,340.99 L446.50,343.92 L447.00,346.76 L447.50,349.46 L448.00,352.01 L448.50,354.36 L449.00,356.50 L449.50,358.43 L450.00,360.13 L450.50,361.62 L451.00,362.90 L451.50,363.99 L452.00,364.89 L452.50,365.63 L453.00,366.22 L453.50,366.68 L454.00,367.03 L454.50,367.28 L455.00,367.46 L455.50,367.56 L456.00,367.61 L456.50,367.62 L457.00,367.59 L457.50,367.52 L458.00,367.44 L458.50,367.33 L459.00,367.21 L459.50,367.08 L460.00,366.94 L460.50,366.79 L461.00,366.64 L461.00,367.52 L460.50,367.72 L460.00,367.92 L459.50,368.12 L459.00,368.32 L458.50,368.53 L458.00,368.73 L457.50,368.93 L457.00,369.13 L456.50,369.33 L456.00,369.54 L455.50,369.74 L455.00,369.94 L454.50,370.14 L454.00,370.34 L453.50,370.54 L453.00,370.74 L452.50,370.94 L452.00,371.14 L451.50,371.33 L451.00,371.53 L450.50,371.72 L450.00,371.92 L449.50,372.11 L449.00,372.31 L448.50,372.50 L448.00,372.69 L447.50,372.89 L447.00,373.08 L446.50,373.28 L446.00,373.47 L445.50,373.66 L445.00,373.86 L444.50,374.05 L444.00,374.25 L443.50,374.44 L443.00,374.64 L442.50,374.84 L442.00,375.04 L441.50,375.24 L441.00,375.44 L440.50,375.64 L440.00,375.85 L439.50,376.05 L439.00,376.26 L438.50,376.47 L438.00,376.68 L437.50,376.89 L437.00,377.10 L436.50,377.32 L436.00,377.53 L435.50,377.75 L435.00,377.98 L434.50,378.20 L434.00,378.43 L433.50,378.65 L433.00,378.88 L432.50,379.11 L432.00,379.34 L431.50,379.58 L431.00,379.81 L430.50,380.04 L430.00,380.28 L429.50,380.52 L429.00,380.76 L428.50,381.00 L428.00,381.24 L427.50,381.48 L427.00,381.72 L426.50,381.97 L426.00,382.22 L425.50,382.46 L425.00,382.71 L424.50,382.96 L424.00,383.21 L423.50,383.47 L423.00,383.72 L422.50,383.98 L422.00,384.23 L421.50,384.49 L421.00,384.75 Z" fill="#00f8f8"/>
<path d="M345.00,411.47 L345.50,411.37 L346.00,411.28 L346.50,411.19 L347.00,411.11 L347.50,411.03 L348.00,410.96 L348.50,410.90 L349.00,410.83 L349.50,410.78 L350.00,410.72 L350.50,410.66 L351.00,410.61 L351.50,410.55 L352.00,410.49 L352.50,410.43 L353.00,410.35 L353.50,410.27 L354.00,410.18 L354.50,410.08 L355.00,409.97 L355.50,409.84 L356.00,409.69 L356.50,409.52 L357.00,409.33 L357.50,409.12 L358.00,408.87 L358.50,408.60 L359.00,408.29 L359.50,407.95 L360.00,407.57 L360.50,407.14 L361.00,406.65 L361.50,406.10 L362.00,405.47 L362.50,404.76 L363.00,403.95 L363.50,403.04 L364.00,402.01 L364.50,400.85 L365.00,399.56 L365.50,398.12 L366.00,396.53 L366.50,394.78 L367.00,392.87 L367.50,390.79 L368.00,388.56 L368.50,386.17 L369.00,383.64 L369.50,380.97 L370.00,378.19 L370.50,375.32 L371.00,372.38 L371.50,369.41 L372.00,366.45 L372.50,363.53 L373.00,360.72 L373.50,358.06 L374.00,355.61 L374.50,353.43 L375.00,351.58 L375.50,350.12 L376.00,349.07 L376.50,348.49 L377.00,348.36 L377.50,348.54 L378.00,349.04 L378.50,349.81 L379.00,350.86 L379.50,352.13 L380.00,353.61 L380.50,355.27 L381.00,357.05 L381.50,358.95 L382.00,360.92 L382.50,362.93 L383.00,364.97 L383.50,367.01 L384.00,369.03 L384.50,371.01 L385.00,372.93 L385.50,374.80 L386.00,376.58 L386.50,378.29 L387.00,379.90 L387.50,381.42 L388.00,382.85 L388.50,384.17 L389.00,385.39 L389.50,386.51 L390.00,387.53 L390.50,388.46 L391.00,389.30 L391.50,390.04 L392.00,390.70 L392.50,391.28 L393.00,391.78 L393.50,392.21 L394.00,392.58 L394.50,392.89 L395.00,393.14 L395.50,393.34 L396.00,393.49 L396.50,393.61 L397.00,393.68 L397.50,393.72 L398.00,393.72 L398.50,393.69 L399.00,393.63 L399.50,393.55 L400.00,393.44 L400.50,393.32 L401.00,393.18 L401.50,393.02 L402.00,392.85 L402.50,392.66 L403.00,392.47 L403.50,392.27 L404.00,392.05 L404.50,391.83 L405.00,391.61 L405.50,391.38 L406.00,391.14 L406.50,390.90 L407.00,390.65 L407.50,390.41 L408.00,390.16 L408.50,389.90 L409.00,389.65 L409.50,389.39 L410.00,389.14 L410.50,388.88 L411.00,388.63 L411.50,388.37 L412.00,388.11 L412.50,387.86 L413.00,387.60 L413.50,387.35 L414.00,387.10 L414.50,386.85 L415.00,386.60 L415.50,386.36 L416.00,386.12 L416.50,385.87 L417.00,385.63 L417.50,385.39 L418.00,385.15 L418.50,384.91 L419.00,384.67 L419.50,384.43 L420.00,384.19 L420.50,383.95 L421.00,383.71 L421.50,383.47 L422.00,383.24 L422.50,383.00 L423.00,382.77 L423.50,382.53 L424.00,382.30 L424.50,382.06 L425.00,381.83 L425.50,381.60 L426.00,381.37 L426.50,381.14 L427.00,380.91 L427.50,380.68 L428.00,380.45 L428.50,380.23 L429.00,380.00 L429.50,379.78 L430.00,379.55 L430.00,380.28 L429.50,380.52 L429.00,380.76 L428.50,381.00 L428.00,381.24 L427.50,381.48 L427.00,381.72 L426.50,381.97 L426.00,382.22 L425.50,382.46 L425.00,382.71 L424.50,382.96 L424.00,383.21 L423.50,383.47 L423.00,383.72 L422.50,383.98 L422.00,384.23 L421.50,384.49 L421.00,384.75 L420.50,385.01 L420.00,385.28 L419.50,385.54 L419.00,385.81 L418.50,386.07 L418.00,386.34 L417.50,386.61 L417.00,386.88 L416.50,387.15 L416.00,387.43 L415.50,387.70 L415.00,387.98 L414.50,388.26 L414.00,388.54 L413.50,388.83 L413.00,389.12 L412.50,389.42 L412.00,389.72 L411.50,390.02 L411.00,390.32 L410.50,390.62 L410.00,390.93 L409.50,391.24 L409.00,391.55 L408.50,391.86 L408.00,392.17 L407.50,392.48 L407.00,392.79 L406.50,393.11 L406.00,393.42 L405.50,393.74 L405.00,394.05 L404.50,394.36 L404.00,394.68 L403.50,394.99 L403.00,395.30 L402.50,395.61 L402.00,395.92 L401.50,396.22 L401.00,396.53 L400.50,396.83 L400.00,397.13 L399.50,397.43 L399.00,397.72 L398.50,398.01 L398.00,398.30 L397.50,398.59 L397.00,398.87 L396.50,399.14 L396.00,399.42 L395.50,399.70 L395.00,399.98 L394.50,400.25 L394.00,400.53 L393.50,400.81 L393.00,401.09 L392.50,401.38 L392.00,401.66 L391.50,401.94 L391.00,402.21 L390.50,402.49 L390.00,402.77 L389.50,403.05 L389.00,403.32 L388.50,403.59 L388.00,403.86 L387.50,404.13 L387.00,404.40 L386.50,404.66 L386.00,404.92 L385.50,405.17 L385.00,405.43 L384.50,405.68 L384.00,405.92 L383.50,406.16 L383.00,406.40 L382.50,406.63 L382.00,406.86 L381.50,407.08 L381.00,407.29 L380.50,407.50 L380.00,407.71 L379.50,407.91 L379.00,408.10 L378.50,408.28 L378.00,408.46 L377.50,408.63 L377.00,408.80 L376.50,408.95 L376.00,409.10 L375.50,409.24 L375.00,409.38 L374.50,409.50 L374.00,409.63 L373.50,409.74 L373.00,409.85 L372.50,409.96 L372.00,410.06 L371.50,410.16 L371.00,410.25 L370.50,410.33 L370.00,410.42 L369.50,410.50 L369.00,410.57 L368.50,410.65 L368.00,410.72 L367.50,410.79 L367.00,410.85 L366.50,410.91 L366.00,410.97 L365.50,411.03 L365.00,411.09 L364.50,411.14 L364.00,411.20 L363.50,411.25 L363.00,411.30 L362.50,411.35 L362.00,411.40 L361.50,411.45 L361.00,411.50 L360.50,411.55 L360.00,411.60 L359.50,411.66 L359.00,411.71 L358.50,411.77 L358.00,411.82 L357.50,411.88 L357.00,411.92 L356.50,411.96 L356.00,412.00 L355.50,412.03 L355.00,412.05 L354.50,412.07 L354.00,412.08 L353.50,412.09 L353.00,412.10 L352.50,412.10 L352.00,412.10 L351.50,412.10 L351.00,412.10 L350.50,412.10 L350.00,412.11 L349.50,412.11 L349.00,412.13 L348.50,412.15 L348.00,412.17 L347.50,412.20 L347.00,412.24 L346.50,412.29 L346.00,412.34 L345.50,412.40 L345.00,412.47 Z" fill="#fd6c6c"/>
<path d="M426.70,381.20 L427.20,380.93 L427.70,380.66 L428.20,380.39 L428.70,380.12 L429.20,379.84 L429.70,379.56 L430.20,379.28 L430.70,378.99 L431.20,378.70 L431.70,378.41 L432.20,378.10 L432.70,377.79 L433.20,377.47 L433.70,377.14 L434.20,376.79 L434.70,376.42 L435.20,376.04 L435.70,375.64 L436.20,375.21 L436.70,374.75 L437.20,374.27 L437.70,373.74 L438.20,373.18 L438.70,372.58 L439.20,371.93 L439.70,371.22 L440.20,370.47 L440.70,369.65 L441.20,368.78 L441.70,367.84 L442.20,366.85 L442.70,365.79 L443.20,364.66 L443.70,363.48 L444.20,362.25 L444.70,360.96 L445.20,359.63 L445.70,358.26 L446.20,356.86 L446.70,355.45 L447.20,354.04 L447.70,352.64 L448.20,351.26 L448.70,349.93 L449.20,348.67 L449.70,347.49 L450.20,346.42 L450.70,345.47 L451.20,344.66 L451.70,344.02 L452.20,343.55 L452.70,343.26 L453.20,343.14 L453.70,343.18 L454.20,343.36 L454.70,343.69 L455.20,344.15 L455.70,344.72 L456.20,345.39 L456.70,346.14 L457.20,346.96 L457.70,347.83 L458.20,348.73 L458.70,349.65 L459.20,350.58 L459.70,351.51 L460.20,352.43 L460.70,353.32 L461.20,354.18 L461.70,355.00 L462.20,355.78 L462.70,356.52 L463.20,357.20 L463.70,357.83 L464.20,358.41 L464.70,358.93 L465.20,359.40 L465.70,359.81 L466.20,360.17 L466.70,360.49 L467.20,360.75 L467.70,360.97 L468.20,361.15 L468.70,361.29 L469.20,361.39 L469.70,361.47 L470.20,361.51 L470.70,361.52 L471.20,361.51 L471.70,361.48 L472.20,361.44 L472.70,361.37 L473.20,361.29 L473.70,361.20 L474.20,361.09 L474.70,360.97 L475.20,360.84 L475.70,360.71 L476.20,360.56 L476.70,360.41 L477.20,360.26 L477.70,360.10 L478.20,359.94 L478.70,359.77 L479.20,359.61 L479.70,359.44 L480.20,359.27 L480.70,359.10 L480.70,359.76 L480.20,359.96 L479.70,360.15 L479.20,360.35 L478.70,360.55 L478.20,360.75 L477.70,360.94 L477.20,361.14 L476.70,361.34 L476.20,361.54 L475.70,361.74 L475.20,361.93 L474.70,362.13 L474.20,362.32 L473.70,362.52 L473.20,362.71 L472.70,362.90 L472.20,363.09 L471.70,363.28 L471.20,363.47 L470.70,363.67 L470.20,363.86 L469.70,364.05 L469.20,364.25 L468.70,364.44 L468.20,364.64 L467.70,364.84 L467.20,365.03 L466.70,365.23 L466.20,365.43 L465.70,365.63 L465.20,365.83 L464.70,366.03 L464.20,366.23 L463.70,366.43 L463.20,366.63 L462.70,366.83 L462.20,367.03 L461.70,367.23 L461.20,367.44 L460.70,367.64 L460.20,367.84 L459.70,368.04 L459.20,368.24 L458.70,368.45 L458.20,368.65 L457.70,368.85 L457.20,369.05 L456.70,369.25 L456.20,369.45 L455.70,369.66 L455.20,369.86 L454.70,370.06 L454.20,370.26 L453.70,370.46 L453.20,370.66 L452.70,370.86 L452.20,371.06 L451.70,371.25 L451.20,371.45 L450.70,371.65 L450.20,371.84 L449.70,372.04 L449.20,372.23 L448.70,372.42 L448.20,372.62 L447.70,372.81 L447.20,373.00 L446.70,373.20 L446.20,373.39 L445.70,373.59 L445.20,373.78 L444.70,373.97 L444.20,374.17 L443.70,374.37 L443.20,374.56 L442.70,374.76 L442.20,374.96 L441.70,375.16 L441.20,375.36 L440.70,375.56 L440.20,375.76 L439.70,375.97 L439.20,376.17 L438.70,376.38 L438.20,376.59 L437.70,376.80 L437.20,377.01 L436.70,377.23 L436.20,377.45 L435.70,377.67 L435.20,377.89 L434.70,378.11 L434.20,378.34 L433.70,378.56 L433.20,378.79 L432.70,379.02 L432.20,379.25 L431.70,379.48 L431.20,379.72 L430.70,379.95 L430.20,380.19 L429.70,380.42 L429.20,380.66 L428.70,380.90 L428.20,381.14 L427.70,381.38 L427.20,381.63 L426.70,381.87 Z" fill="#fd6c6c"/>
<path d="M341.00,413.21 L342.00,412.56 L343.00,411.93 L344.00,411.31 L345.00,410.71 L346.00,410.14 L347.00,410.04 L348.00,409.97 L349.00,409.93 L350.00,409.91 L351.00,409.90 L352.00,409.90 L353.00,409.90 L354.00,409.88 L355.00,409.85 L356.00,409.80 L357.00,409.72 L358.00,409.62 L359.00,409.51 L360.00,409.40 L361.00,409.30 L362.00,409.20 L363.00,409.10 L364.00,409.00 L365.00,408.89 L366.00,408.77 L367.00,408.65 L368.00,408.52 L369.00,408.37 L370.00,408.22 L371.00,408.05 L372.00,407.86 L373.00,407.65 L374.00,407.43 L375.00,407.18 L376.00,406.90 L377.00,406.60 L378.00,406.26 L379.00,405.90 L380.00,405.51 L381.00,405.09 L382.00,404.66 L383.00,404.20 L384.00,403.72 L385.00,403.23 L386.00,402.72 L387.00,402.20 L388.00,401.66 L389.00,401.12 L390.00,400.57 L391.00,400.01 L392.00,399.46 L393.00,398.89 L394.00,398.33 L395.00,397.78 L396.00,397.22 L397.00,396.67 L398.00,396.10 L399.00,395.52 L400.00,394.93 L401.00,394.33 L402.00,393.72 L403.00,393.10 L404.00,392.48 L405.00,391.85 L406.00,391.22 L407.00,390.59 L408.00,389.97 L409.00,389.35 L410.00,388.73 L411.00,388.12 L412.00,387.52 L413.00,386.92 L414.00,386.34 L415.00,385.78 L416.00,385.23 L417.00,384.68 L418.00,384.14 L419.00,383.61 L420.00,383.08 L421.00,382.55 L422.00,382.03 L423.00,381.52 L424.00,381.01 L425.00,380.51 L426.00,380.02 L427.00,379.52 L428.00,379.04 L429.00,378.56 L430.00,378.08 L431.00,377.61 L432.00,377.14 L433.00,376.68 L434.00,376.23 L435.00,375.78 L436.00,375.33 L437.00,374.90 L438.00,374.48 L439.00,374.06 L440.00,373.65 L441.00,373.24 L442.00,372.84 L443.00,372.44 L444.00,372.05 L445.00,371.66 L446.00,371.27 L447.00,370.88 L448.00,370.49 L449.00,370.11 L450.00,369.72 L451.00,369.33 L452.00,368.94 L453.00,368.54 L454.00,368.14 L455.00,367.74 L456.00,367.34 L457.00,366.93 L458.00,366.53 L459.00,366.12 L460.00,365.72 L461.00,365.32 L462.00,364.91 L463.00,364.51 L464.00,364.55 L465.00,364.59 L466.00,364.63 L467.00,364.67 L468.00,364.72 L468.00,364.72 L467.00,365.11 L466.00,365.51 L465.00,365.91 L464.00,366.31 L463.00,366.71 L462.00,367.11 L461.00,367.52 L460.00,367.92 L459.00,368.32 L458.00,368.73 L457.00,369.13 L456.00,369.54 L455.00,369.94 L454.00,370.34 L453.00,370.74 L452.00,371.14 L451.00,371.53 L450.00,371.92 L449.00,372.31 L448.00,372.69 L447.00,373.08 L446.00,373.47 L445.00,373.86 L444.00,374.25 L443.00,374.64 L442.00,375.04 L441.00,375.44 L440.00,375.85 L439.00,376.26 L438.00,376.68 L437.00,377.10 L436.00,377.53 L435.00,377.98 L434.00,378.43 L433.00,378.88 L432.00,379.34 L431.00,379.81 L430.00,380.28 L429.00,380.76 L428.00,381.24 L427.00,381.72 L426.00,382.22 L425.00,382.71 L424.00,383.21 L423.00,383.72 L422.00,384.23 L421.00,384.75 L420.00,385.28 L419.00,385.81 L418.00,386.34 L417.00,386.88 L416.00,387.43 L415.00,387.98 L414.00,388.54 L413.00,389.12 L412.00,389.72 L411.00,390.32 L410.00,390.93 L409.00,391.55 L408.00,392.17 L407.00,392.79 L406.00,393.42 L405.00,394.05 L404.00,394.68 L403.00,395.30 L402.00,395.92 L401.00,396.53 L400.00,397.13 L399.00,397.72 L398.00,398.30 L397.00,398.87 L396.00,399.42 L395.00,399.98 L394.00,400.53 L393.00,401.09 L392.00,401.66 L391.00,402.21 L390.00,402.77 L389.00,403.32 L388.00,403.86 L387.00,404.40 L386.00,404.92 L385.00,405.43 L384.00,405.92 L383.00,406.40 L382.00,406.86 L381.00,407.29 L380.00,407.71 L379.00,408.10 L378.00,408.46 L377.00,408.80 L376.00,409.10 L375.00,409.38 L374.00,409.63 L373.00,409.85 L372.00,410.06 L371.00,410.25 L370.00,410.42 L369.00,410.57 L368.00,410.72 L367.00,410.85 L366.00,410.97 L365.00,411.09 L364.00,411.20 L363.00,411.30 L362.00,411.40 L361.00,411.50 L360.00,411.60 L359.00,411.71 L358.00,411.82 L357.00,411.92 L356.00,412.00 L355.00,412.05 L354.00,412.08 L353.00,412.10 L352.00,412.10 L351.00,412.10 L350.00,412.11 L349.00,412.13 L348.00,412.17 L347.00,412.24 L346.00,412.34 L345.00,412.47 L344.00,412.63 L343.00,412.81 L342.00,413.00 L341.00,413.21 Z" fill="#fd6c6c"/>
<path d="M338.00,413.87 L339.00,413.64 L340.00,413.42 L341.00,413.21 L342.00,413.00 L343.00,412.81 L344.00,412.63 L345.00,412.47 L346.00,412.34 L347.00,412.24 L348.00,412.17 L349.00,412.13 L350.00,412.11 L351.00,412.10 L352.00,412.10 L353.00,412.10 L354.00,412.08 L355.00,412.05 L356.00,412.00 L357.00,411.92 L358.00,411.82 L359.00,411.71 L360.00,411.60 L361.00,411.50 L362.00,411.40 L363.00,411.30 L364.00,411.20 L365.00,411.09 L366.00,410.97 L367.00,410.85 L368.00,410.72 L369.00,410.57 L370.00,410.42 L371.00,410.25 L372.00,410.06 L373.00,409.85 L374.00,409.63 L375.00,409.38 L376.00,409.10 L377.00,408.80 L378.00,408.46 L379.00,408.10 L380.00,407.71 L381.00,407.29 L382.00,406.86 L383.00,406.40 L384.00,405.92 L385.00,405.43 L386.00,404.92 L387.00,404.40 L388.00,403.86 L389.00,403.32 L390.00,402.77 L391.00,402.21 L392.00,401.66 L393.00,401.09 L394.00,400.53 L395.00,399.98 L396.00,399.42 L397.00,398.87 L398.00,398.30 L399.00,397.72 L400.00,397.13 L401.00,396.53 L402.00,395.92 L403.00,395.30 L404.00,394.68 L405.00,394.05 L406.00,393.42 L407.00,392.79 L408.00,392.17 L409.00,391.55 L410.00,390.93 L411.00,390.32 L412.00,389.72 L413.00,389.12 L414.00,388.54 L415.00,387.98 L416.00,387.43 L417.00,386.88 L418.00,386.34 L419.00,385.81 L420.00,385.28 L421.00,384.75 L422.00,384.23 L423.00,383.72 L424.00,383.21 L425.00,382.71 L426.00,382.22 L427.00,381.72 L428.00,381.24 L429.00,380.76 L430.00,380.28 L431.00,379.81 L432.00,379.34 L433.00,378.88 L434.00,378.43 L435.00,377.98 L436.00,377.53 L437.00,377.10 L438.00,376.68 L439.00,376.26 L440.00,375.85 L441.00,375.44 L442.00,375.04 L443.00,374.64 L444.00,374.25 L445.00,373.86 L446.00,373.47 L447.00,373.08 L448.00,372.69 L449.00,372.31 L450.00,371.92 L451.00,371.53 L452.00,371.14 L453.00,370.74 L454.00,370.34 L455.00,369.94 L456.00,369.54 L457.00,369.13 L458.00,368.73 L459.00,368.32 L460.00,367.92 L461.00,367.52 L462.00,367.11 L463.00,366.71 L464.00,366.31 L465.00,365.91 L466.00,365.51 L467.00,365.11 L468.00,364.72 L469.00,364.33 L470.00,363.94 L471.00,363.55 L472.00,363.17 L473.00,362.79 L474.00,362.40 L475.00,362.01 L476.00,361.62 L477.00,361.22 L478.00,360.83 L479.00,360.43 L480.00,360.04 L481.00,359.65 L482.00,359.26 L483.00,358.88 L484.00,358.51 L485.00,358.15 L486.00,357.80 L487.00,357.46 L488.00,357.13 L489.00,356.81 L490.00,356.51 L491.00,356.22 L492.00,355.95 L493.00,355.69 L494.00,355.44 L495.00,355.21 L496.00,354.98 L497.00,354.77 L498.00,354.56 L499.00,354.35 L500.00,354.16 L501.00,353.96 L502.00,353.77 L503.00,353.58 L504.00,353.40 L505.00,353.22 L506.00,353.04 L507.00,352.86 L508.00,352.69 L509.00,352.51 L510.00,352.34 L511.00,352.16 L512.00,351.99 L513.00,351.81 L514.00,351.63 L515.00,351.44" fill="none" stroke="#a8a040" stroke-width="0.9"/>
<path d="M327.60,416.69 L328.31,416.08 L329.31,415.59 L330.49,417.17 L331.73,415.91 L332.94,415.82 L334.00,415.14 L335.24,414.37 L336.56,414.99 L337.75,414.31 L338.63,414.56 L339.00,413.92 L338.27,413.96 L336.62,412.50 L335.02,411.26 L334.47,410.59 L334.88,411.61 L335.70,409.64 L336.79,410.33 L338.03,409.63 L339.28,407.56 L340.43,408.83 L341.33,406.29 L342.27,407.65 L343.05,406.79 L343.71,404.36 L344.29,404.89 L344.85,404.10 L345.47,402.13 L345.99,401.67 L346.45,400.12 L346.87,399.91 L347.27,398.69 L347.63,397.98 L347.96,396.05 L348.27,395.32 L348.56,394.62 L348.83,393.61 L349.09,392.18 L349.33,391.89 L349.56,390.85 L349.78,389.30 L349.99,388.15 L350.20,387.67 L350.39,386.41 L350.58,385.66 L350.76,384.49 L350.93,383.39 L351.10,382.02 L351.26,381.13 L351.42,380.46 L351.57,379.73 L351.72,378.43 L351.87,377.74 L352.01,376.54 L352.15,375.88 L352.28,374.66 L352.42,373.32 L352.55,372.14 L352.67,371.07 L352.80,370.04 L352.92,369.86 L353.04,368.87 L353.16,367.75 L353.27,366.11 L353.39,365.66 L353.50,364.13 L353.61,363.89 L353.72,362.66 L353.82,361.75 L353.93,360.61 L354.03,359.42 L354.14,358.85 L354.24,357.96 L354.34,356.24 L354.44,355.44 L354.54,354.73 L354.63,353.68 L354.73,352.41 L354.83,351.45 L354.92,350.97 L355.01,349.28 L355.11,348.21 L355.20,347.69 L355.29,346.28 L355.38,345.90 L355.47,344.33 L355.56,343.92 L355.65,342.38 L355.74,341.89 L355.83,340.75 L355.92,339.73 L356.00,338.21 L356.09,337.16 L356.18,336.03 L356.26,335.18 L356.35,334.67 L356.43,333.06 L356.52,332.24 L356.61,331.57 L356.69,330.16 L356.78,329.33 L356.86,328.23 L356.95,327.68 L357.03,326.12 L357.12,326.00 L357.20,324.60 L357.29,323.71 L357.37,322.55 L357.46,321.50 L357.54,320.97 L357.63,319.89 L357.72,318.82 L357.80,317.03 L357.89,316.59 L357.98,315.94 L358.07,314.64 L358.16,313.51 L358.25,312.65 L358.34,311.18 L358.43,310.73 L358.52,309.78 L358.62,308.07 L358.71,307.51 L358.81,306.82 L358.90,305.95 L359.00,305.35 L359.11,303.92 L359.14,303.17 L359.17,301.71 L359.21,300.59 L359.24,300.26 L359.28,298.91 L359.32,297.98 L359.35,296.85 L359.39,295.08 L359.43,294.23 L359.47,292.81 L359.51,292.23 L359.55,291.11 L359.60,289.74 L359.66,288.81 L359.73,287.83 L359.79,286.48 L359.86,285.50 L359.93,284.88 L360.01,283.56 L360.09,283.03 L360.19,282.46 L360.30,281.23 L360.39,279.54 L360.48,279.33 L360.57,278.20 L360.67,277.14 L360.77,275.38 L360.88,275.03 L361.00,273.38 L361.12,272.93 L361.25,271.42 L361.39,270.47 L361.54,269.34 L361.70,269.17 L361.96,267.23 L362.24,266.55 L362.55,264.89 L362.87,263.30 L363.21,262.75 L363.56,261.78 L363.92,260.73 L364.30,261.32 L364.70,260.97 L365.14,261.28 L365.59,262.86 L366.06,263.88 L366.52,264.76 L366.97,265.87 L367.40,267.54 L367.80,268.89 L368.04,269.83 L368.27,270.50 L368.49,271.47 L368.70,272.55 L368.91,272.97 L369.11,273.94 L369.30,275.26 L369.50,276.58 L369.69,277.72 L369.89,278.89 L370.09,279.64 L370.30,281.11 L370.45,281.39 L370.60,282.58 L370.74,283.20 L370.89,284.93 L371.03,286.08 L371.17,286.76 L371.32,287.87 L371.46,288.53 L371.61,290.00 L371.76,290.35 L371.91,291.69 L372.07,292.74 L372.22,294.31 L372.39,294.67 L372.55,295.70 L372.72,296.67 L372.90,298.44 L373.08,298.92 L373.27,300.51 L373.47,300.92 L373.67,302.43 L373.88,302.78 L374.08,304.47 L374.30,305.53 L374.51,306.43 L374.73,307.23 L374.94,308.44 L375.16,309.46 L375.37,310.52 L375.58,310.86 L375.79,312.46 L376.00,313.44 L376.20,314.07 L376.40,314.97 L376.57,316.69 L376.74,317.29 L376.91,318.40 L377.08,319.84 L377.25,320.54 L377.41,321.42 L377.58,322.98 L377.74,323.95 L377.90,324.81 L378.06,326.35 L378.22,327.67 L378.38,328.09 L378.54,329.72 L378.70,330.70 L378.86,331.47 L379.02,332.10 L379.18,333.49 L379.34,333.97 L379.50,334.75 L379.80,336.77 L380.11,337.46 L380.41,338.45 L380.71,340.26 L381.01,341.38 L381.30,341.59 L381.60,342.54 L381.90,343.49 L382.20,344.48 L382.50,344.51 L382.99,346.31 L383.48,346.86 L383.97,348.40 L384.46,348.67 L384.97,350.02 L385.50,350.45 L385.98,351.56 L386.48,351.91 L386.99,353.08 L387.51,354.17 L388.02,355.00 L388.52,355.38 L389.00,356.79 L389.67,357.10 L390.22,359.33 L390.91,361.13 L392.00,361.33 L392.77,360.81 L393.66,361.71 L394.66,360.94 L395.73,360.52 L396.83,359.86 L397.93,358.69 L399.00,360.63 L400.00,360.53 L401.08,360.21 L402.13,359.83 L403.16,360.08 L404.18,360.41 L405.21,360.43 L406.24,359.92 L407.30,358.04 L408.38,360.60 L409.48,359.80 L410.58,359.72 L411.69,359.93 L412.80,359.80 L413.91,359.48 L415.00,361.31 L416.11,361.65 L417.25,360.67 L418.40,363.27 L419.52,363.64 L420.60,363.94 L421.60,363.43 L422.50,363.30 L423.83,364.12 L424.92,364.50 L425.88,366.15 L426.80,365.09 L427.06,364.49 L427.30,362.84 L427.53,362.06 L427.75,361.66 L427.97,359.69 L428.17,358.92 L428.38,358.65 L428.59,356.83 L428.80,355.68 L429.02,354.73 L429.24,353.13 L429.48,352.38 L429.73,350.83 L430.00,350.33 L430.22,348.67 L430.46,348.43 L430.71,346.91 L430.97,346.42 L431.24,345.40 L431.51,344.50 L431.79,342.66 L432.07,342.39 L432.35,340.48 L432.63,339.60 L432.91,338.19 L433.18,337.61 L433.44,336.15 L433.70,335.60 L433.94,334.97 L434.18,333.84 L434.40,332.76 L434.60,331.29 L434.85,330.97 L435.08,329.17 L435.28,328.60 L435.46,326.67 L435.63,325.73 L435.79,325.30 L435.94,324.06 L436.10,322.48 L436.25,321.75 L436.42,320.86 L436.59,319.61 L436.79,318.64 L437.00,317.58 L437.31,316.81 L437.63,315.49 L437.97,314.20 L438.32,313.14 L438.68,311.87 L439.05,310.84 L439.42,310.27 L439.78,308.82 L440.15,308.09 L440.50,307.95 L441.36,307.38 L442.22,308.04 L443.09,309.37 L444.00,310.45 L444.64,310.96 L445.32,311.81 L446.01,311.96 L446.69,312.96 L447.36,313.66 L448.00,314.79 L448.52,315.56 L449.01,316.31 L449.49,317.21 L449.96,318.66 L450.43,319.17 L450.91,320.60 L451.40,321.43 L451.69,322.43 L451.97,323.17 L452.24,323.97 L452.52,325.21 L452.79,325.83 L453.07,326.72 L453.36,327.45 L453.66,328.35 L453.97,329.72 L454.29,330.76 L454.64,331.56 L455.00,333.45 L455.31,333.41 L455.63,334.79 L455.96,335.61 L456.31,336.81 L456.66,338.31 L457.02,339.51 L457.39,340.03 L457.76,341.40 L458.14,342.62 L458.52,343.02 L458.90,344.07 L459.28,344.99 L459.66,346.20 L460.03,346.07 L460.40,348.23 L461.32,347.52 L462.24,349.50 L463.16,349.75 L464.10,348.37 L465.04,349.22 L466.00,350.67 L466.95,349.70 L467.90,348.88 L468.85,349.95 L469.84,350.05 L470.88,349.69 L472.00,349.29 L472.91,350.35 L473.87,349.27 L474.87,348.24 L475.90,347.76 L476.94,348.09 L477.98,346.21 L479.01,346.37 L480.00,346.68 L480.97,344.54 L481.93,344.27 L482.89,343.61 L483.84,344.82 L484.78,344.81 L485.72,344.15 L486.66,343.83 L487.60,342.18 L488.64,343.04 L489.65,343.41 L490.65,343.29 L491.66,343.35 L492.70,343.98 L493.81,343.95 L495.00,343.88 L495.88,345.43 L496.80,344.27 L497.74,345.62 L498.70,345.84 L499.69,347.22 L500.71,347.27 L501.75,346.95 L502.81,346.09 L503.90,348.24 L505.00,348.58 L505.98,348.62 L507.06,349.81 L508.20,348.80 L509.39,348.84 L510.58,349.49 L511.77,348.66 L512.93,350.29 L514.03,349.27 L515.04,350.90 L515.94,350.96 L516.70,351.34 L517.30,350.18" fill="none" stroke="#2020e0" stroke-width="1.2" stroke-linejoin="round"/>
<line x1="364.2" y1="257.6" x2="364.2" y2="261" stroke="#999" stroke-width="0.8"/>
</g>
<text x="59.0" y="218.6" font-size="8.5" font-weight="bold" fill="#1a1a1a" stroke="#1a1a1a" stroke-width="0.22" text-anchor="middle" >780</text>
<text x="105.0" y="218.6" font-size="8.5" font-weight="bold" fill="#1a1a1a" stroke="#1a1a1a" stroke-width="0.22" text-anchor="middle" >786</text>
<text x="151.0" y="218.6" font-size="8.5" font-weight="bold" fill="#1a1a1a" stroke="#1a1a1a" stroke-width="0.22" text-anchor="middle" >792</text>
<text x="197.0" y="218.6" font-size="8.5" font-weight="bold" fill="#1a1a1a" stroke="#1a1a1a" stroke-width="0.22" text-anchor="middle" >798</text>
<text x="243.5" y="218.6" font-size="8.5" font-weight="bold" fill="#1a1a1a" stroke="#1a1a1a" stroke-width="0.22" text-anchor="middle" >804</text>
<text x="0" y="0" font-size="9.2" font-weight="bold" fill="#1a1a1a" stroke="#1a1a1a" stroke-width="0.2" text-anchor="middle" textLength="52.7" lengthAdjust="spacingAndGlyphs" transform="translate(11.3,90.3) rotate(-90)">Intensity(a.u)</text>
<text x="26.3" y="19.6" font-size="17.0" font-weight="bold" fill="#111" stroke="#111" stroke-width="0.22" text-anchor="start" >a)</text>
<text x="248.9" y="15.9" font-size="8.8" font-weight="bold" fill="#1a1a1a" stroke="#1a1a1a" stroke-width="0.22" text-anchor="start" textLength="23.3" lengthAdjust="spacingAndGlyphs" >Co 2p</text>
<text x="115.4" y="227.1" font-size="9.0" font-weight="bold" fill="#1a1a1a" stroke="#1a1a1a" stroke-width="0.22" text-anchor="start" textLength="76.5" lengthAdjust="spacingAndGlyphs" >Binding energy(eV)</text>
<text x="117.1" y="114.8" font-size="9.0" font-weight="normal" fill="#333" stroke="#333" stroke-width="0.12" text-anchor="start" textLength="33.5" lengthAdjust="spacingAndGlyphs" >AgCo-11</text>
<text x="117.1" y="126.0" font-size="9.0" font-weight="normal" fill="#333" stroke="#333" stroke-width="0.12" text-anchor="start" textLength="33.5" lengthAdjust="spacingAndGlyphs" >AgCo-12</text>
<text x="117.1" y="137.3" font-size="9.0" font-weight="normal" fill="#333" stroke="#333" stroke-width="0.12" text-anchor="start" textLength="33.5" lengthAdjust="spacingAndGlyphs" >AgCo-21</text>
<text x="103.0" y="87.6" font-size="3.6" font-weight="normal" fill="#666" stroke="#666" stroke-width="0.12" text-anchor="middle" >776</text>
<text x="132.2" y="87.6" font-size="3.6" font-weight="normal" fill="#666" stroke="#666" stroke-width="0.12" text-anchor="middle" >780</text>
<text x="161.4" y="87.6" font-size="3.6" font-weight="normal" fill="#666" stroke="#666" stroke-width="0.12" text-anchor="middle" >784</text>
<text x="312.0" y="218.9" font-size="8.1" font-weight="bold" fill="#1a1a1a" stroke="#1a1a1a" stroke-width="0.22" text-anchor="middle" >770</text>
<text x="364.0" y="218.9" font-size="8.1" font-weight="bold" fill="#1a1a1a" stroke="#1a1a1a" stroke-width="0.22" text-anchor="middle" >780</text>
<text x="416.0" y="218.9" font-size="8.1" font-weight="bold" fill="#1a1a1a" stroke="#1a1a1a" stroke-width="0.22" text-anchor="middle" >790</text>
<text x="468.0" y="218.9" font-size="8.1" font-weight="bold" fill="#1a1a1a" stroke="#1a1a1a" stroke-width="0.22" text-anchor="middle" >800</text>
<text x="520.0" y="218.9" font-size="8.1" font-weight="bold" fill="#1a1a1a" stroke="#1a1a1a" stroke-width="0.22" text-anchor="middle" >810</text>
<text x="0" y="0" font-size="8.4" font-weight="bold" fill="#1a1a1a" stroke="#1a1a1a" stroke-width="0.2" text-anchor="middle" textLength="48.2" lengthAdjust="spacingAndGlyphs" transform="translate(293.3,103.2) rotate(-90)">Intensity(a.u)</text>
<text x="307.1" y="23.2" font-size="17.0" font-weight="bold" fill="#111" stroke="#111" stroke-width="0.22" text-anchor="start" >b)</text>
<text x="518.8" y="19.4" font-size="8.8" font-weight="bold" fill="#1a1a1a" stroke="#1a1a1a" stroke-width="0.22" text-anchor="start" textLength="23.4" lengthAdjust="spacingAndGlyphs" >Co 2p</text>
<text x="392.3" y="226.7" font-size="8.5" font-weight="bold" fill="#1a1a1a" stroke="#1a1a1a" stroke-width="0.22" text-anchor="start" textLength="72.6" lengthAdjust="spacingAndGlyphs" >Binding energy (eV)</text>
<text x="349.2" y="21.5" font-size="8.4" font-weight="bold" fill="#1a1a1a" stroke="#1a1a1a" stroke-width="0.22" text-anchor="start" textLength="32.2" lengthAdjust="spacingAndGlyphs" >Co 2p3/2</text>
<text x="334.2" y="32.9" font-size="7.3" font-weight="bold" fill="#1a1a1a" stroke="#1a1a1a" stroke-width="0.22" text-anchor="start" textLength="27.0" lengthAdjust="spacingAndGlyphs" >780.3 eV</text>
<text x="310.9" y="99.7" font-size="8.8" font-weight="bold" fill="#ff2020" stroke="#ff2020" stroke-width="0.22" text-anchor="start" textLength="31.5" lengthAdjust="spacingAndGlyphs" >AgCo-11</text>
<text x="424.9" y="73.7" font-size="8.4" font-weight="bold" fill="#1a1a1a" stroke="#1a1a1a" stroke-width="0.22" text-anchor="start" textLength="32.4" lengthAdjust="spacingAndGlyphs" >Co 2p1/2</text>
<text x="453.5" y="84.7" font-size="8.2" font-weight="bold" fill="#1a1a1a" stroke="#1a1a1a" stroke-width="0.22" text-anchor="start" textLength="30.2" lengthAdjust="spacingAndGlyphs" >795.5 eV</text>
<text x="394.4" y="124.3" font-size="8.5" font-weight="bold" fill="#ff9a30" stroke="#ff9a30" stroke-width="0.22" text-anchor="start" textLength="18.1" lengthAdjust="spacingAndGlyphs" >Sat 1</text>
<text x="488.4" y="105.7" font-size="8.3" font-weight="bold" fill="#10e860" stroke="#10e860" stroke-width="0.22" text-anchor="start" textLength="17.5" lengthAdjust="spacingAndGlyphs" >Sat 2</text>
<text x="356.9" y="115.1" font-size="6.6" font-weight="bold" fill="#1a1a1a" stroke="#1a1a1a" stroke-width="0.18">Co<tspan font-size="6.2" dy="-4.2" dx="0.5">3+</tspan></text>
<text x="368.8" y="158.2" font-size="6.6" font-weight="bold" fill="#1a1a1a" stroke="#1a1a1a" stroke-width="0.18">Co<tspan font-size="6.2" dy="-4.2" dx="0.5">2+</tspan></text>
<text x="434.6" y="119.2" font-size="6.6" font-weight="bold" fill="#1a1a1a" stroke="#1a1a1a" stroke-width="0.18">Co<tspan font-size="6.2" dy="-4.2" dx="0.5">3+</tspan></text>
<text x="446.7" y="134.5" font-size="6.6" font-weight="bold" fill="#1a1a1a" stroke="#1a1a1a" stroke-width="0.18">Co<tspan font-size="6.2" dy="-4.2" dx="0.5">2+</tspan></text>
<text x="34.7" y="448.7" font-size="8.3" font-weight="bold" fill="#1a1a1a" stroke="#1a1a1a" stroke-width="0.22" text-anchor="middle" >770</text>
<text x="88.2" y="448.7" font-size="8.3" font-weight="bold" fill="#1a1a1a" stroke="#1a1a1a" stroke-width="0.22" text-anchor="middle" >780</text>
<text x="141.7" y="448.7" font-size="8.3" font-weight="bold" fill="#1a1a1a" stroke="#1a1a1a" stroke-width="0.22" text-anchor="middle" >790</text>
<text x="195.2" y="448.7" font-size="8.3" font-weight="bold" fill="#1a1a1a" stroke="#1a1a1a" stroke-width="0.22" text-anchor="middle" >800</text>
<text x="248.7" y="448.7" font-size="8.3" font-weight="bold" fill="#1a1a1a" stroke="#1a1a1a" stroke-width="0.22" text-anchor="middle" >810</text>
<text x="0" y="0" font-size="8.3" font-weight="bold" fill="#1a1a1a" stroke="#1a1a1a" stroke-width="0.2" text-anchor="middle" textLength="47.8" lengthAdjust="spacingAndGlyphs" transform="translate(14.6,337.3) rotate(-90)">Intensity(a.u)</text>
<text x="27.2" y="252.6" font-size="17.0" font-weight="bold" fill="#111" stroke="#111" stroke-width="0.22" text-anchor="start" >c)</text>
<text x="245.6" y="249.4" font-size="8.8" font-weight="bold" fill="#1a1a1a" stroke="#1a1a1a" stroke-width="0.22" text-anchor="start" textLength="24.0" lengthAdjust="spacingAndGlyphs" >Co 2p</text>
<text x="111.6" y="456.8" font-size="8.7" font-weight="bold" fill="#1a1a1a" stroke="#1a1a1a" stroke-width="0.22" text-anchor="start" textLength="75.5" lengthAdjust="spacingAndGlyphs" >Binding energy (eV)</text>
<text x="78.8" y="256.2" font-size="8.7" font-weight="bold" fill="#1a1a1a" stroke="#1a1a1a" stroke-width="0.22" text-anchor="start" textLength="33.4" lengthAdjust="spacingAndGlyphs" >Co 2p3/2</text>
<text x="54.3" y="274.9" font-size="8.7" font-weight="bold" fill="#1a1a1a" stroke="#1a1a1a" stroke-width="0.22" text-anchor="start" textLength="32.1" lengthAdjust="spacingAndGlyphs" >780.5 eV</text>
<text x="34.9" y="336.4" font-size="8.6" font-weight="bold" fill="#1a1a1a" stroke="#1a1a1a" stroke-width="0.22" text-anchor="start" textLength="33.0" lengthAdjust="spacingAndGlyphs" >AgCo-12</text>
<text x="155.2" y="310.4" font-size="8.6" font-weight="bold" fill="#1a1a1a" stroke="#1a1a1a" stroke-width="0.22" text-anchor="start" textLength="33.1" lengthAdjust="spacingAndGlyphs" >Co 2p1/2</text>
<text x="132.8" y="319.9" font-size="8.8" font-weight="bold" fill="#1a1a1a" stroke="#1a1a1a" stroke-width="0.22" text-anchor="start" textLength="32.5" lengthAdjust="spacingAndGlyphs" >795.7 eV</text>
<text x="116.4" y="351.7" font-size="8.5" font-weight="bold" fill="#ff9a30" stroke="#ff9a30" stroke-width="0.22" text-anchor="start" textLength="18.4" lengthAdjust="spacingAndGlyphs" >Sat 1</text>
<text x="199.8" y="343.4" font-size="8.3" font-weight="bold" fill="#10e850" stroke="#10e850" stroke-width="0.22" text-anchor="start" textLength="17.9" lengthAdjust="spacingAndGlyphs" >Sat 2</text>
<text x="81.7" y="343.1" font-size="6.6" font-weight="bold" fill="#1a1a1a" stroke="#1a1a1a" stroke-width="0.18">Co<tspan font-size="6.2" dy="-4.2" dx="0.5">3+</tspan></text>
<text x="95.4" y="378.6" font-size="6.6" font-weight="bold" fill="#1a1a1a" stroke="#1a1a1a" stroke-width="0.18">Co<tspan font-size="6.2" dy="-4.2" dx="0.5">2+</tspan></text>
<text x="164.6" y="349.8" font-size="6.6" font-weight="bold" fill="#1a1a1a" stroke="#1a1a1a" stroke-width="0.18">Co<tspan font-size="6.2" dy="-4.2" dx="0.5">3+</tspan></text>
<text x="175.7" y="361.5" font-size="6.6" font-weight="bold" fill="#1a1a1a" stroke="#1a1a1a" stroke-width="0.18">Co<tspan font-size="6.2" dy="-4.2" dx="0.5">2+</tspan></text>
<text x="314.7" y="450.0" font-size="8.3" font-weight="bold" fill="#1a1a1a" stroke="#1a1a1a" stroke-width="0.22" text-anchor="middle" >770</text>
<text x="365.9" y="450.0" font-size="8.3" font-weight="bold" fill="#1a1a1a" stroke="#1a1a1a" stroke-width="0.22" text-anchor="middle" >780</text>
<text x="417.1" y="450.0" font-size="8.3" font-weight="bold" fill="#1a1a1a" stroke="#1a1a1a" stroke-width="0.22" text-anchor="middle" >790</text>
<text x="468.3" y="450.0" font-size="8.3" font-weight="bold" fill="#1a1a1a" stroke="#1a1a1a" stroke-width="0.22" text-anchor="middle" >800</text>
<text x="519.5" y="450.0" font-size="8.3" font-weight="bold" fill="#1a1a1a" stroke="#1a1a1a" stroke-width="0.22" text-anchor="middle" >810</text>
<text x="0" y="0" font-size="8.5" font-weight="bold" fill="#1a1a1a" stroke="#1a1a1a" stroke-width="0.2" text-anchor="middle" textLength="48.7" lengthAdjust="spacingAndGlyphs" transform="translate(295.6,338.0) rotate(-90)">Intensity(a.u)</text>
<text x="305.6" y="253.4" font-size="17.0" font-weight="bold" fill="#111" stroke="#111" stroke-width="0.22" text-anchor="start" >d)</text>
<text x="518.2" y="251.0" font-size="8.8" font-weight="bold" fill="#1a1a1a" stroke="#1a1a1a" stroke-width="0.22" text-anchor="start" textLength="23.3" lengthAdjust="spacingAndGlyphs" >Co 2p</text>
<text x="389.0" y="456.0" font-size="8.4" font-weight="bold" fill="#1a1a1a" stroke="#1a1a1a" stroke-width="0.22" text-anchor="start" textLength="72.1" lengthAdjust="spacingAndGlyphs" >Binding energy (eV)</text>
<text x="340.9" y="255.6" font-size="8.2" font-weight="bold" fill="#1a1a1a" stroke="#1a1a1a" stroke-width="0.22" text-anchor="start" textLength="31.5" lengthAdjust="spacingAndGlyphs" >Co 2p3/2</text>
<text x="322.9" y="264.3" font-size="7.1" font-weight="bold" fill="#1a1a1a" stroke="#1a1a1a" stroke-width="0.22" text-anchor="start" textLength="26.2" lengthAdjust="spacingAndGlyphs" >780.3 eV</text>
<text x="310.1" y="343.7" font-size="8.2" font-weight="bold" fill="#2a2aff" stroke="#2a2aff" stroke-width="0.22" text-anchor="start" textLength="31.0" lengthAdjust="spacingAndGlyphs" >AgCo-21</text>
<text x="422.3" y="304.7" font-size="8.2" font-weight="bold" fill="#1a1a1a" stroke="#1a1a1a" stroke-width="0.22" text-anchor="start" textLength="31.4" lengthAdjust="spacingAndGlyphs" >Co 2p1/2</text>
<text x="395.5" y="314.9" font-size="8.3" font-weight="bold" fill="#1a1a1a" stroke="#1a1a1a" stroke-width="0.22" text-anchor="start" textLength="30.9" lengthAdjust="spacingAndGlyphs" >795.2 eV</text>
<text x="397.8" y="354.3" font-size="8.0" font-weight="bold" fill="#ff9a30" stroke="#ff9a30" stroke-width="0.22" text-anchor="start" textLength="17.0" lengthAdjust="spacingAndGlyphs" >Sat 1</text>
<text x="475.0" y="342.0" font-size="8.4" font-weight="bold" fill="#10e850" stroke="#10e850" stroke-width="0.22" text-anchor="start" textLength="18.4" lengthAdjust="spacingAndGlyphs" >Sat 2</text>
<text x="356.6" y="346.0" font-size="6.6" font-weight="bold" fill="#1a1a1a" stroke="#1a1a1a" stroke-width="0.18">Co<tspan font-size="6.2" dy="-4.2" dx="0.5">3+</tspan></text>
<text x="369.4" y="383.6" font-size="6.6" font-weight="bold" fill="#1a1a1a" stroke="#1a1a1a" stroke-width="0.18">Co<tspan font-size="6.2" dy="-4.2" dx="0.5">2+</tspan></text>
<text x="432.8" y="344.6" font-size="6.6" font-weight="bold" fill="#1a1a1a" stroke="#1a1a1a" stroke-width="0.18">Co<tspan font-size="6.2" dy="-4.2" dx="0.5">3+</tspan></text>
<text x="446.2" y="360.2" font-size="6.6" font-weight="bold" fill="#1a1a1a" stroke="#1a1a1a" stroke-width="0.18">Co<tspan font-size="6.2" dy="-4.2" dx="0.5">2+</tspan></text>
</svg>
</body></html>
